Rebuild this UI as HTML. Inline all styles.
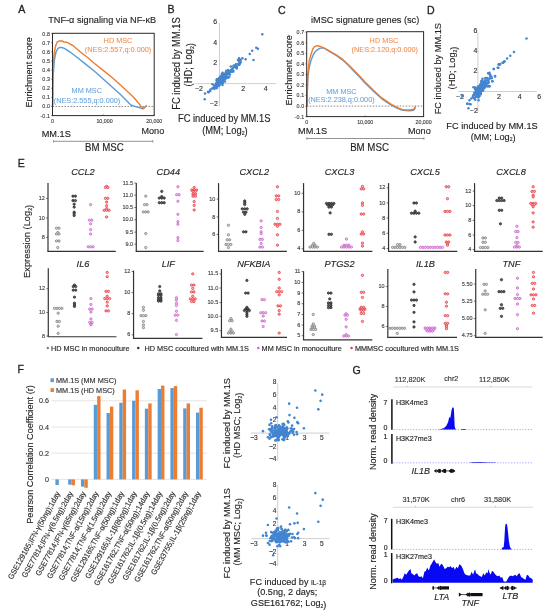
<!DOCTYPE html>
<html><head><meta charset="utf-8"><style>
html,body{margin:0;padding:0;background:#fff;}
svg{display:block;font-family:'Liberation Sans', sans-serif;filter:blur(0.3px);}
</style></head><body>
<svg width="550" height="615" viewBox="0 0 550 615">
<rect width="550" height="615" fill="#fff"/>
<text x="0" y="0" transform="translate(18.30,13.40) scale(1,1.03)" font-size="10.6" text-anchor="start" fill="#231f20" stroke="#231f20" stroke-width="0.3">A</text>
<text x="0" y="0" transform="translate(167.60,13.40) scale(1,1.03)" font-size="10.6" text-anchor="start" fill="#231f20" stroke="#231f20" stroke-width="0.3">B</text>
<text x="0" y="0" transform="translate(278.00,13.50) scale(1,1.03)" font-size="10.6" text-anchor="start" fill="#231f20" stroke="#231f20" stroke-width="0.3">C</text>
<text x="0" y="0" transform="translate(426.90,13.80) scale(1,1.03)" font-size="10.6" text-anchor="start" fill="#231f20" stroke="#231f20" stroke-width="0.3">D</text>
<text x="0" y="0" transform="translate(17.70,167.00) scale(1,1.03)" font-size="10.6" text-anchor="start" fill="#231f20" stroke="#231f20" stroke-width="0.3">E</text>
<text x="0" y="0" transform="translate(17.50,372.80) scale(1,1.03)" font-size="10.6" text-anchor="start" fill="#231f20" stroke="#231f20" stroke-width="0.3">F</text>
<text x="0" y="0" transform="translate(352.60,373.50) scale(1,1.03)" font-size="10.6" text-anchor="start" fill="#231f20" stroke="#231f20" stroke-width="0.3">G</text>
<text x="0" y="0" transform="translate(48.20,22.59) scale(1,1.07)" font-size="9.2" text-anchor="start" fill="#231f20" stroke="#231f20" stroke-width="0.14">TNF-&#945; signaling via NF-&#954;B</text>
<text x="0" y="0" transform="translate(31.80,72.40) rotate(-90) scale(1,1.07)" font-size="9.05" text-anchor="middle" fill="#231f20" stroke="#231f20" stroke-width="0.14">Enrichment score</text>
<text x="0" y="0" transform="translate(50.30,35.60) scale(1,1.07)" font-size="5.3" text-anchor="end" fill="#444" stroke="#444" stroke-width="0.14" letter-spacing="0.25">0.8</text>
<line x1="51.20" y1="33.70" x2="52.50" y2="33.70" stroke="#333" stroke-width="0.6"/>
<text x="0" y="0" transform="translate(50.30,44.70) scale(1,1.07)" font-size="5.3" text-anchor="end" fill="#444" stroke="#444" stroke-width="0.14" letter-spacing="0.25">0.7</text>
<line x1="51.20" y1="42.80" x2="52.50" y2="42.80" stroke="#333" stroke-width="0.6"/>
<text x="0" y="0" transform="translate(50.30,53.80) scale(1,1.07)" font-size="5.3" text-anchor="end" fill="#444" stroke="#444" stroke-width="0.14" letter-spacing="0.25">0.6</text>
<line x1="51.20" y1="51.90" x2="52.50" y2="51.90" stroke="#333" stroke-width="0.6"/>
<text x="0" y="0" transform="translate(50.30,62.90) scale(1,1.07)" font-size="5.3" text-anchor="end" fill="#444" stroke="#444" stroke-width="0.14" letter-spacing="0.25">0.5</text>
<line x1="51.20" y1="61.00" x2="52.50" y2="61.00" stroke="#333" stroke-width="0.6"/>
<text x="0" y="0" transform="translate(50.30,72.00) scale(1,1.07)" font-size="5.3" text-anchor="end" fill="#444" stroke="#444" stroke-width="0.14" letter-spacing="0.25">0.4</text>
<line x1="51.20" y1="70.10" x2="52.50" y2="70.10" stroke="#333" stroke-width="0.6"/>
<text x="0" y="0" transform="translate(50.30,81.10) scale(1,1.07)" font-size="5.3" text-anchor="end" fill="#444" stroke="#444" stroke-width="0.14" letter-spacing="0.25">0.3</text>
<line x1="51.20" y1="79.20" x2="52.50" y2="79.20" stroke="#333" stroke-width="0.6"/>
<text x="0" y="0" transform="translate(50.30,90.20) scale(1,1.07)" font-size="5.3" text-anchor="end" fill="#444" stroke="#444" stroke-width="0.14" letter-spacing="0.25">0.2</text>
<line x1="51.20" y1="88.30" x2="52.50" y2="88.30" stroke="#333" stroke-width="0.6"/>
<text x="0" y="0" transform="translate(50.30,99.30) scale(1,1.07)" font-size="5.3" text-anchor="end" fill="#444" stroke="#444" stroke-width="0.14" letter-spacing="0.25">0.1</text>
<line x1="51.20" y1="97.40" x2="52.50" y2="97.40" stroke="#333" stroke-width="0.6"/>
<text x="0" y="0" transform="translate(50.30,108.40) scale(1,1.07)" font-size="5.3" text-anchor="end" fill="#444" stroke="#444" stroke-width="0.14" letter-spacing="0.25">0.0</text>
<line x1="51.20" y1="106.50" x2="52.50" y2="106.50" stroke="#333" stroke-width="0.6"/>
<text x="0" y="0" transform="translate(50.30,117.50) scale(1,1.07)" font-size="5.3" text-anchor="end" fill="#444" stroke="#444" stroke-width="0.14" letter-spacing="0.25">-0.1</text>
<line x1="51.20" y1="115.60" x2="52.50" y2="115.60" stroke="#333" stroke-width="0.6"/>
<line x1="52.50" y1="106.50" x2="154.20" y2="106.50" stroke="#444" stroke-width="0.6" stroke-dasharray="1.6,1.4"/>
<text x="0" y="0" transform="translate(52.40,123.10) scale(1,1.07)" font-size="5.3" text-anchor="middle" fill="#444" stroke="#444" stroke-width="0.14">0</text>
<line x1="52.40" y1="114.40" x2="52.40" y2="115.60" stroke="#333" stroke-width="0.6"/>
<text x="0" y="0" transform="translate(104.50,123.10) scale(1,1.07)" font-size="5.3" text-anchor="middle" fill="#444" stroke="#444" stroke-width="0.14">10,000</text>
<line x1="103.30" y1="114.40" x2="103.30" y2="115.60" stroke="#333" stroke-width="0.6"/>
<text x="0" y="0" transform="translate(154.20,123.10) scale(1,1.07)" font-size="5.3" text-anchor="middle" fill="#444" stroke="#444" stroke-width="0.14">20,000</text>
<line x1="154.20" y1="114.40" x2="154.20" y2="115.60" stroke="#333" stroke-width="0.6"/>
<polyline points="52.60,106.50 52.80,95.00 53.00,78.00 54.40,60.00 56.00,52.00 58.00,48.40 60.00,47.40 63.00,47.80 65.20,48.80 70.40,52.30 77.30,57.50 85.90,64.40 94.50,71.30 103.20,79.00 111.80,86.80 120.50,94.60 127.40,101.50 130.80,105.00 134.30,106.20 139.50,107.60 142.90,108.90 144.60,107.60 146.40,105.80" fill="none" stroke="#5B9BD5" stroke-width="1.4" stroke-linejoin="round" stroke-linecap="round"/>
<polyline points="52.60,106.50 52.80,92.00 53.00,70.00 54.00,54.00 55.60,46.00 57.00,42.40 59.00,41.00 62.00,41.00 64.00,42.00 66.90,42.30 70.00,43.80 73.80,46.20 80.70,52.30 87.60,57.50 94.50,63.50 103.20,70.40 111.80,77.30 120.50,85.10 129.10,92.90 134.30,98.00 138.60,103.20 141.20,106.70 143.40,108.40 145.50,106.70 146.40,105.90" fill="none" stroke="#ED7D31" stroke-width="1.4" stroke-linejoin="round" stroke-linecap="round"/>
<rect x="52.50" y="33.30" width="101.70" height="82.30" fill="none" stroke="#2a2a2a" stroke-width="1"/>
<text x="0" y="0" transform="translate(118.00,42.81) scale(1,1.07)" font-size="7.3" text-anchor="middle" fill="#F08D4F" stroke="#F08D4F" stroke-width="0.06">HD MSC</text>
<text x="0" y="0" transform="translate(118.00,51.81) scale(1,1.07)" font-size="7.3" text-anchor="middle" fill="#F08D4F" stroke="#F08D4F" stroke-width="0.06">(NES:2.557,q:0.000)</text>
<text x="0" y="0" transform="translate(86.80,93.01) scale(1,1.07)" font-size="7.3" text-anchor="middle" fill="#68A3DA" stroke="#68A3DA" stroke-width="0.06">MM MSC</text>
<text x="0" y="0" transform="translate(87.00,103.01) scale(1,1.07)" font-size="7.3" text-anchor="middle" fill="#68A3DA" stroke="#68A3DA" stroke-width="0.06">(NES:2.555,q:0.000)</text>
<text x="0" y="0" transform="translate(41.70,136.99) scale(1,1.07)" font-size="9.2" text-anchor="start" fill="#231f20" stroke="#231f20" stroke-width="0.14">MM.1S</text>
<text x="0" y="0" transform="translate(141.50,133.66) scale(1,1.07)" font-size="9.1" text-anchor="start" fill="#231f20" stroke="#231f20" stroke-width="0.14">Mono</text>
<line x1="53.50" y1="141.30" x2="152.80" y2="141.30" stroke="#777" stroke-width="0.8"/>
<line x1="53.50" y1="140.00" x2="53.50" y2="142.60" stroke="#777" stroke-width="0.7"/>
<line x1="152.80" y1="140.00" x2="152.80" y2="142.60" stroke="#777" stroke-width="0.7"/>
<text x="0" y="0" transform="translate(104.40,150.97) scale(1,1.07)" font-size="9.7" text-anchor="middle" fill="#231f20" stroke="#231f20" stroke-width="0.14">BM MSC</text>
<text x="0" y="0" transform="translate(311.00,22.89) scale(1,1.07)" font-size="9.2" text-anchor="start" fill="#231f20" stroke="#231f20" stroke-width="0.14">iMSC signature genes (sc)</text>
<text x="0" y="0" transform="translate(292.00,70.30) rotate(-90) scale(1,1.07)" font-size="9.05" text-anchor="middle" fill="#231f20" stroke="#231f20" stroke-width="0.14">Enrichment score</text>
<text x="0" y="0" transform="translate(304.50,34.20) scale(1,1.07)" font-size="5.3" text-anchor="end" fill="#444" stroke="#444" stroke-width="0.14" letter-spacing="0.25">0.7</text>
<line x1="305.40" y1="32.30" x2="306.70" y2="32.30" stroke="#333" stroke-width="0.6"/>
<text x="0" y="0" transform="translate(304.50,44.74) scale(1,1.07)" font-size="5.3" text-anchor="end" fill="#444" stroke="#444" stroke-width="0.14" letter-spacing="0.25">0.6</text>
<line x1="305.40" y1="42.84" x2="306.70" y2="42.84" stroke="#333" stroke-width="0.6"/>
<text x="0" y="0" transform="translate(304.50,55.28) scale(1,1.07)" font-size="5.3" text-anchor="end" fill="#444" stroke="#444" stroke-width="0.14" letter-spacing="0.25">0.5</text>
<line x1="305.40" y1="53.38" x2="306.70" y2="53.38" stroke="#333" stroke-width="0.6"/>
<text x="0" y="0" transform="translate(304.50,65.82) scale(1,1.07)" font-size="5.3" text-anchor="end" fill="#444" stroke="#444" stroke-width="0.14" letter-spacing="0.25">0.4</text>
<line x1="305.40" y1="63.92" x2="306.70" y2="63.92" stroke="#333" stroke-width="0.6"/>
<text x="0" y="0" transform="translate(304.50,76.36) scale(1,1.07)" font-size="5.3" text-anchor="end" fill="#444" stroke="#444" stroke-width="0.14" letter-spacing="0.25">0.3</text>
<line x1="305.40" y1="74.46" x2="306.70" y2="74.46" stroke="#333" stroke-width="0.6"/>
<text x="0" y="0" transform="translate(304.50,86.90) scale(1,1.07)" font-size="5.3" text-anchor="end" fill="#444" stroke="#444" stroke-width="0.14" letter-spacing="0.25">0.2</text>
<line x1="305.40" y1="85.00" x2="306.70" y2="85.00" stroke="#333" stroke-width="0.6"/>
<text x="0" y="0" transform="translate(304.50,97.44) scale(1,1.07)" font-size="5.3" text-anchor="end" fill="#444" stroke="#444" stroke-width="0.14" letter-spacing="0.25">0.1</text>
<line x1="305.40" y1="95.54" x2="306.70" y2="95.54" stroke="#333" stroke-width="0.6"/>
<text x="0" y="0" transform="translate(304.50,107.98) scale(1,1.07)" font-size="5.3" text-anchor="end" fill="#444" stroke="#444" stroke-width="0.14" letter-spacing="0.25">0.0</text>
<line x1="305.40" y1="106.08" x2="306.70" y2="106.08" stroke="#333" stroke-width="0.6"/>
<text x="0" y="0" transform="translate(304.50,118.52) scale(1,1.07)" font-size="5.3" text-anchor="end" fill="#444" stroke="#444" stroke-width="0.14" letter-spacing="0.25">-0.1</text>
<line x1="305.40" y1="116.62" x2="306.70" y2="116.62" stroke="#333" stroke-width="0.6"/>
<line x1="306.70" y1="106.08" x2="423.60" y2="106.08" stroke="#444" stroke-width="0.6" stroke-dasharray="1.6,1.4"/>
<text x="0" y="0" transform="translate(306.80,124.10) scale(1,1.07)" font-size="5.3" text-anchor="middle" fill="#444" stroke="#444" stroke-width="0.14">0</text>
<line x1="306.80" y1="115.40" x2="306.80" y2="116.60" stroke="#333" stroke-width="0.6"/>
<text x="0" y="0" transform="translate(365.20,124.10) scale(1,1.07)" font-size="5.3" text-anchor="middle" fill="#444" stroke="#444" stroke-width="0.14">10,000</text>
<line x1="365.20" y1="115.40" x2="365.20" y2="116.60" stroke="#333" stroke-width="0.6"/>
<text x="0" y="0" transform="translate(423.60,124.10) scale(1,1.07)" font-size="5.3" text-anchor="middle" fill="#444" stroke="#444" stroke-width="0.14">20,000</text>
<line x1="423.60" y1="115.40" x2="423.60" y2="116.60" stroke="#333" stroke-width="0.6"/>
<polyline points="307.00,106.00 307.30,92.00 307.60,78.90 309.10,67.90 311.00,60.60 313.40,54.50 315.90,50.90 319.50,48.40 322.60,47.80 324.40,48.40 329.30,51.30 336.60,55.60 342.70,60.10 348.80,65.70 354.90,72.20 359.80,77.30 364.50,82.60 373.20,91.10 381.80,98.80 390.50,104.60 397.40,108.40 402.60,110.30 409.50,110.80 413.80,110.20 415.20,108.00" fill="none" stroke="#5B9BD5" stroke-width="1.4" stroke-linejoin="round" stroke-linecap="round"/>
<polyline points="307.00,106.00 307.40,90.00 307.90,74.00 309.10,61.20 311.00,54.50 312.80,49.00 314.60,46.60 317.10,45.70 319.50,46.20 323.80,47.80 329.30,50.90 336.60,55.10 342.70,59.40 348.80,64.90 354.90,71.20 359.80,76.20 364.50,81.50 373.20,90.10 381.80,97.90 390.50,103.90 397.40,107.70 402.60,109.60 409.50,110.00 413.80,109.10 415.50,106.50" fill="none" stroke="#ED7D31" stroke-width="1.4" stroke-linejoin="round" stroke-linecap="round"/>
<rect x="306.70" y="31.70" width="116.90" height="84.90" fill="none" stroke="#2a2a2a" stroke-width="1"/>
<text x="0" y="0" transform="translate(384.00,42.61) scale(1,1.07)" font-size="7.3" text-anchor="middle" fill="#F08D4F" stroke="#F08D4F" stroke-width="0.06">HD MSC</text>
<text x="0" y="0" transform="translate(384.80,52.21) scale(1,1.07)" font-size="7.3" text-anchor="middle" fill="#F08D4F" stroke="#F08D4F" stroke-width="0.06">(NES:2.120,q:0.000)</text>
<text x="0" y="0" transform="translate(341.40,93.91) scale(1,1.07)" font-size="7.3" text-anchor="middle" fill="#68A3DA" stroke="#68A3DA" stroke-width="0.06">MM MSC</text>
<text x="0" y="0" transform="translate(341.40,102.01) scale(1,1.07)" font-size="7.3" text-anchor="middle" fill="#68A3DA" stroke="#68A3DA" stroke-width="0.06">(NES:2.238,q:0.000)</text>
<text x="0" y="0" transform="translate(298.00,133.69) scale(1,1.07)" font-size="9.2" text-anchor="start" fill="#231f20" stroke="#231f20" stroke-width="0.14">MM.1S</text>
<text x="0" y="0" transform="translate(408.00,133.66) scale(1,1.07)" font-size="9.1" text-anchor="start" fill="#231f20" stroke="#231f20" stroke-width="0.14">Mono</text>
<line x1="306.80" y1="138.50" x2="424.00" y2="138.50" stroke="#777" stroke-width="0.8"/>
<line x1="306.80" y1="137.20" x2="306.80" y2="139.80" stroke="#777" stroke-width="0.7"/>
<line x1="424.00" y1="137.20" x2="424.00" y2="139.80" stroke="#777" stroke-width="0.7"/>
<text x="0" y="0" transform="translate(369.50,150.77) scale(1,1.07)" font-size="9.7" text-anchor="middle" fill="#231f20" stroke="#231f20" stroke-width="0.14">BM MSC</text>
<line x1="219.50" y1="23.00" x2="219.50" y2="105.80" stroke="#c9c9c9" stroke-width="0.9"/>
<line x1="195.50" y1="83.60" x2="276.00" y2="83.60" stroke="#c9c9c9" stroke-width="0.9"/>
<text x="0" y="0" transform="translate(217.20,24.41) scale(1,1.07)" font-size="7.0" text-anchor="end" fill="#333" stroke="#333" stroke-width="0.14">6</text>
<text x="0" y="0" transform="translate(217.20,44.61) scale(1,1.07)" font-size="7.0" text-anchor="end" fill="#333" stroke="#333" stroke-width="0.14">4</text>
<text x="0" y="0" transform="translate(217.20,64.91) scale(1,1.07)" font-size="7.0" text-anchor="end" fill="#333" stroke="#333" stroke-width="0.14">2</text>
<text x="0" y="0" transform="translate(217.80,106.01) scale(1,1.07)" font-size="7.0" text-anchor="end" fill="#333" stroke="#333" stroke-width="0.14">&#8722;2</text>
<text x="0" y="0" transform="translate(199.00,91.11) scale(1,1.07)" font-size="7.0" text-anchor="middle" fill="#333" stroke="#333" stroke-width="0.14">&#8722;2</text>
<text x="0" y="0" transform="translate(243.20,91.11) scale(1,1.07)" font-size="7.0" text-anchor="middle" fill="#333" stroke="#333" stroke-width="0.14">2</text>
<text x="0" y="0" transform="translate(265.60,91.11) scale(1,1.07)" font-size="7.0" text-anchor="middle" fill="#333" stroke="#333" stroke-width="0.14">4</text>
<circle cx="225.88" cy="72.26" r="1.25" fill="#4485d0" stroke="none" stroke-width="0"/>
<circle cx="220.78" cy="82.10" r="1.25" fill="#4485d0" stroke="none" stroke-width="0"/>
<circle cx="215.93" cy="85.00" r="1.25" fill="#4485d0" stroke="none" stroke-width="0"/>
<circle cx="216.23" cy="87.98" r="1.25" fill="#4485d0" stroke="none" stroke-width="0"/>
<circle cx="221.33" cy="79.57" r="1.25" fill="#4485d0" stroke="none" stroke-width="0"/>
<circle cx="222.78" cy="80.50" r="1.25" fill="#4485d0" stroke="none" stroke-width="0"/>
<circle cx="220.52" cy="80.80" r="1.25" fill="#4485d0" stroke="none" stroke-width="0"/>
<circle cx="214.21" cy="85.54" r="1.25" fill="#4485d0" stroke="none" stroke-width="0"/>
<circle cx="221.84" cy="74.07" r="1.25" fill="#4485d0" stroke="none" stroke-width="0"/>
<circle cx="221.35" cy="80.18" r="1.25" fill="#4485d0" stroke="none" stroke-width="0"/>
<circle cx="225.65" cy="75.26" r="1.25" fill="#4485d0" stroke="none" stroke-width="0"/>
<circle cx="224.30" cy="77.82" r="1.25" fill="#4485d0" stroke="none" stroke-width="0"/>
<circle cx="221.41" cy="77.52" r="1.25" fill="#4485d0" stroke="none" stroke-width="0"/>
<circle cx="223.41" cy="77.58" r="1.25" fill="#4485d0" stroke="none" stroke-width="0"/>
<circle cx="215.98" cy="84.04" r="1.25" fill="#4485d0" stroke="none" stroke-width="0"/>
<circle cx="220.82" cy="78.76" r="1.25" fill="#4485d0" stroke="none" stroke-width="0"/>
<circle cx="221.40" cy="77.38" r="1.25" fill="#4485d0" stroke="none" stroke-width="0"/>
<circle cx="220.28" cy="80.43" r="1.25" fill="#4485d0" stroke="none" stroke-width="0"/>
<circle cx="223.29" cy="80.40" r="1.25" fill="#4485d0" stroke="none" stroke-width="0"/>
<circle cx="218.82" cy="83.40" r="1.25" fill="#4485d0" stroke="none" stroke-width="0"/>
<circle cx="228.78" cy="72.90" r="1.25" fill="#4485d0" stroke="none" stroke-width="0"/>
<circle cx="223.23" cy="76.67" r="1.25" fill="#4485d0" stroke="none" stroke-width="0"/>
<circle cx="219.33" cy="85.25" r="1.25" fill="#4485d0" stroke="none" stroke-width="0"/>
<circle cx="224.53" cy="77.69" r="1.25" fill="#4485d0" stroke="none" stroke-width="0"/>
<circle cx="223.50" cy="80.68" r="1.25" fill="#4485d0" stroke="none" stroke-width="0"/>
<circle cx="218.67" cy="79.64" r="1.25" fill="#4485d0" stroke="none" stroke-width="0"/>
<circle cx="226.48" cy="77.80" r="1.25" fill="#4485d0" stroke="none" stroke-width="0"/>
<circle cx="214.93" cy="86.14" r="1.25" fill="#4485d0" stroke="none" stroke-width="0"/>
<circle cx="223.54" cy="77.38" r="1.25" fill="#4485d0" stroke="none" stroke-width="0"/>
<circle cx="221.77" cy="81.65" r="1.25" fill="#4485d0" stroke="none" stroke-width="0"/>
<circle cx="222.95" cy="75.83" r="1.25" fill="#4485d0" stroke="none" stroke-width="0"/>
<circle cx="218.68" cy="85.61" r="1.25" fill="#4485d0" stroke="none" stroke-width="0"/>
<circle cx="217.33" cy="82.04" r="1.25" fill="#4485d0" stroke="none" stroke-width="0"/>
<circle cx="213.25" cy="87.86" r="1.25" fill="#4485d0" stroke="none" stroke-width="0"/>
<circle cx="216.36" cy="84.96" r="1.25" fill="#4485d0" stroke="none" stroke-width="0"/>
<circle cx="219.48" cy="81.62" r="1.25" fill="#4485d0" stroke="none" stroke-width="0"/>
<circle cx="226.78" cy="73.69" r="1.25" fill="#4485d0" stroke="none" stroke-width="0"/>
<circle cx="226.07" cy="75.61" r="1.25" fill="#4485d0" stroke="none" stroke-width="0"/>
<circle cx="218.50" cy="81.76" r="1.25" fill="#4485d0" stroke="none" stroke-width="0"/>
<circle cx="208.65" cy="92.19" r="1.25" fill="#4485d0" stroke="none" stroke-width="0"/>
<circle cx="221.17" cy="82.77" r="1.25" fill="#4485d0" stroke="none" stroke-width="0"/>
<circle cx="222.44" cy="80.04" r="1.25" fill="#4485d0" stroke="none" stroke-width="0"/>
<circle cx="210.22" cy="91.06" r="1.25" fill="#4485d0" stroke="none" stroke-width="0"/>
<circle cx="216.41" cy="85.77" r="1.25" fill="#4485d0" stroke="none" stroke-width="0"/>
<circle cx="219.86" cy="78.51" r="1.25" fill="#4485d0" stroke="none" stroke-width="0"/>
<circle cx="220.93" cy="80.32" r="1.25" fill="#4485d0" stroke="none" stroke-width="0"/>
<circle cx="222.13" cy="83.13" r="1.25" fill="#4485d0" stroke="none" stroke-width="0"/>
<circle cx="225.68" cy="78.07" r="1.25" fill="#4485d0" stroke="none" stroke-width="0"/>
<circle cx="222.34" cy="81.41" r="1.25" fill="#4485d0" stroke="none" stroke-width="0"/>
<circle cx="216.42" cy="85.49" r="1.25" fill="#4485d0" stroke="none" stroke-width="0"/>
<circle cx="228.42" cy="71.48" r="1.25" fill="#4485d0" stroke="none" stroke-width="0"/>
<circle cx="217.97" cy="83.74" r="1.25" fill="#4485d0" stroke="none" stroke-width="0"/>
<circle cx="215.69" cy="85.39" r="1.25" fill="#4485d0" stroke="none" stroke-width="0"/>
<circle cx="218.10" cy="81.38" r="1.25" fill="#4485d0" stroke="none" stroke-width="0"/>
<circle cx="214.83" cy="86.88" r="1.25" fill="#4485d0" stroke="none" stroke-width="0"/>
<circle cx="216.98" cy="85.66" r="1.25" fill="#4485d0" stroke="none" stroke-width="0"/>
<circle cx="223.47" cy="77.53" r="1.25" fill="#4485d0" stroke="none" stroke-width="0"/>
<circle cx="222.95" cy="75.67" r="1.25" fill="#4485d0" stroke="none" stroke-width="0"/>
<circle cx="225.31" cy="79.09" r="1.25" fill="#4485d0" stroke="none" stroke-width="0"/>
<circle cx="222.74" cy="82.42" r="1.25" fill="#4485d0" stroke="none" stroke-width="0"/>
<circle cx="220.23" cy="76.67" r="1.25" fill="#4485d0" stroke="none" stroke-width="0"/>
<circle cx="219.69" cy="82.27" r="1.25" fill="#4485d0" stroke="none" stroke-width="0"/>
<circle cx="221.21" cy="79.95" r="1.25" fill="#4485d0" stroke="none" stroke-width="0"/>
<circle cx="220.61" cy="82.25" r="1.25" fill="#4485d0" stroke="none" stroke-width="0"/>
<circle cx="225.02" cy="74.34" r="1.25" fill="#4485d0" stroke="none" stroke-width="0"/>
<circle cx="219.61" cy="80.83" r="1.25" fill="#4485d0" stroke="none" stroke-width="0"/>
<circle cx="223.25" cy="75.73" r="1.25" fill="#4485d0" stroke="none" stroke-width="0"/>
<circle cx="222.14" cy="77.54" r="1.25" fill="#4485d0" stroke="none" stroke-width="0"/>
<circle cx="219.40" cy="84.11" r="1.25" fill="#4485d0" stroke="none" stroke-width="0"/>
<circle cx="218.43" cy="80.40" r="1.25" fill="#4485d0" stroke="none" stroke-width="0"/>
<circle cx="224.59" cy="76.41" r="1.25" fill="#4485d0" stroke="none" stroke-width="0"/>
<circle cx="218.13" cy="82.27" r="1.25" fill="#4485d0" stroke="none" stroke-width="0"/>
<circle cx="227.45" cy="70.96" r="1.25" fill="#4485d0" stroke="none" stroke-width="0"/>
<circle cx="217.64" cy="83.52" r="1.25" fill="#4485d0" stroke="none" stroke-width="0"/>
<circle cx="214.43" cy="89.05" r="1.25" fill="#4485d0" stroke="none" stroke-width="0"/>
<circle cx="221.29" cy="79.86" r="1.25" fill="#4485d0" stroke="none" stroke-width="0"/>
<circle cx="224.53" cy="73.97" r="1.25" fill="#4485d0" stroke="none" stroke-width="0"/>
<circle cx="223.99" cy="74.37" r="1.25" fill="#4485d0" stroke="none" stroke-width="0"/>
<circle cx="218.21" cy="85.39" r="1.25" fill="#4485d0" stroke="none" stroke-width="0"/>
<circle cx="222.59" cy="72.70" r="1.25" fill="#4485d0" stroke="none" stroke-width="0"/>
<circle cx="221.99" cy="81.79" r="1.25" fill="#4485d0" stroke="none" stroke-width="0"/>
<circle cx="221.51" cy="76.53" r="1.25" fill="#4485d0" stroke="none" stroke-width="0"/>
<circle cx="216.18" cy="83.06" r="1.25" fill="#4485d0" stroke="none" stroke-width="0"/>
<circle cx="217.95" cy="80.31" r="1.25" fill="#4485d0" stroke="none" stroke-width="0"/>
<circle cx="223.78" cy="76.83" r="1.25" fill="#4485d0" stroke="none" stroke-width="0"/>
<circle cx="228.86" cy="73.52" r="1.25" fill="#4485d0" stroke="none" stroke-width="0"/>
<circle cx="217.63" cy="79.32" r="1.25" fill="#4485d0" stroke="none" stroke-width="0"/>
<circle cx="216.84" cy="79.32" r="1.25" fill="#4485d0" stroke="none" stroke-width="0"/>
<circle cx="220.33" cy="83.14" r="1.25" fill="#4485d0" stroke="none" stroke-width="0"/>
<circle cx="220.49" cy="80.39" r="1.25" fill="#4485d0" stroke="none" stroke-width="0"/>
<circle cx="221.34" cy="80.29" r="1.25" fill="#4485d0" stroke="none" stroke-width="0"/>
<circle cx="225.02" cy="81.47" r="1.25" fill="#4485d0" stroke="none" stroke-width="0"/>
<circle cx="218.18" cy="83.49" r="1.25" fill="#4485d0" stroke="none" stroke-width="0"/>
<circle cx="228.11" cy="77.77" r="1.25" fill="#4485d0" stroke="none" stroke-width="0"/>
<circle cx="219.08" cy="84.58" r="1.25" fill="#4485d0" stroke="none" stroke-width="0"/>
<circle cx="217.72" cy="81.93" r="1.25" fill="#4485d0" stroke="none" stroke-width="0"/>
<circle cx="222.22" cy="75.82" r="1.25" fill="#4485d0" stroke="none" stroke-width="0"/>
<circle cx="217.99" cy="82.49" r="1.25" fill="#4485d0" stroke="none" stroke-width="0"/>
<circle cx="225.40" cy="73.94" r="1.25" fill="#4485d0" stroke="none" stroke-width="0"/>
<circle cx="219.10" cy="79.52" r="1.25" fill="#4485d0" stroke="none" stroke-width="0"/>
<circle cx="216.64" cy="80.39" r="1.25" fill="#4485d0" stroke="none" stroke-width="0"/>
<circle cx="221.15" cy="80.30" r="1.25" fill="#4485d0" stroke="none" stroke-width="0"/>
<circle cx="221.63" cy="77.69" r="1.25" fill="#4485d0" stroke="none" stroke-width="0"/>
<circle cx="227.78" cy="73.97" r="1.25" fill="#4485d0" stroke="none" stroke-width="0"/>
<circle cx="218.96" cy="80.85" r="1.25" fill="#4485d0" stroke="none" stroke-width="0"/>
<circle cx="216.86" cy="87.95" r="1.25" fill="#4485d0" stroke="none" stroke-width="0"/>
<circle cx="223.99" cy="78.15" r="1.25" fill="#4485d0" stroke="none" stroke-width="0"/>
<circle cx="225.21" cy="78.41" r="1.25" fill="#4485d0" stroke="none" stroke-width="0"/>
<circle cx="208.39" cy="91.71" r="1.25" fill="#4485d0" stroke="none" stroke-width="0"/>
<circle cx="221.15" cy="76.49" r="1.25" fill="#4485d0" stroke="none" stroke-width="0"/>
<circle cx="222.70" cy="77.87" r="1.25" fill="#4485d0" stroke="none" stroke-width="0"/>
<circle cx="222.95" cy="79.12" r="1.25" fill="#4485d0" stroke="none" stroke-width="0"/>
<circle cx="220.82" cy="83.36" r="1.25" fill="#4485d0" stroke="none" stroke-width="0"/>
<circle cx="222.67" cy="80.37" r="1.25" fill="#4485d0" stroke="none" stroke-width="0"/>
<circle cx="218.64" cy="80.91" r="1.25" fill="#4485d0" stroke="none" stroke-width="0"/>
<circle cx="224.33" cy="79.22" r="1.25" fill="#4485d0" stroke="none" stroke-width="0"/>
<circle cx="228.88" cy="73.91" r="1.25" fill="#4485d0" stroke="none" stroke-width="0"/>
<circle cx="223.99" cy="75.19" r="1.25" fill="#4485d0" stroke="none" stroke-width="0"/>
<circle cx="221.44" cy="79.39" r="1.25" fill="#4485d0" stroke="none" stroke-width="0"/>
<circle cx="228.01" cy="71.45" r="1.25" fill="#4485d0" stroke="none" stroke-width="0"/>
<circle cx="222.36" cy="82.93" r="1.25" fill="#4485d0" stroke="none" stroke-width="0"/>
<circle cx="217.38" cy="81.10" r="1.25" fill="#4485d0" stroke="none" stroke-width="0"/>
<circle cx="221.31" cy="82.01" r="1.25" fill="#4485d0" stroke="none" stroke-width="0"/>
<circle cx="217.81" cy="83.94" r="1.25" fill="#4485d0" stroke="none" stroke-width="0"/>
<circle cx="223.37" cy="77.05" r="1.25" fill="#4485d0" stroke="none" stroke-width="0"/>
<circle cx="224.67" cy="78.47" r="1.25" fill="#4485d0" stroke="none" stroke-width="0"/>
<circle cx="224.62" cy="77.81" r="1.25" fill="#4485d0" stroke="none" stroke-width="0"/>
<circle cx="219.25" cy="78.03" r="1.25" fill="#4485d0" stroke="none" stroke-width="0"/>
<circle cx="220.81" cy="80.68" r="1.25" fill="#4485d0" stroke="none" stroke-width="0"/>
<circle cx="219.62" cy="82.37" r="1.25" fill="#4485d0" stroke="none" stroke-width="0"/>
<circle cx="227.02" cy="71.33" r="1.25" fill="#4485d0" stroke="none" stroke-width="0"/>
<circle cx="223.50" cy="77.37" r="1.25" fill="#4485d0" stroke="none" stroke-width="0"/>
<circle cx="224.86" cy="76.64" r="1.25" fill="#4485d0" stroke="none" stroke-width="0"/>
<circle cx="222.39" cy="77.96" r="1.25" fill="#4485d0" stroke="none" stroke-width="0"/>
<circle cx="220.87" cy="76.65" r="1.25" fill="#4485d0" stroke="none" stroke-width="0"/>
<circle cx="227.84" cy="70.66" r="1.25" fill="#4485d0" stroke="none" stroke-width="0"/>
<circle cx="212.50" cy="84.30" r="1.25" fill="#4485d0" stroke="none" stroke-width="0"/>
<circle cx="223.44" cy="78.84" r="1.25" fill="#4485d0" stroke="none" stroke-width="0"/>
<circle cx="220.40" cy="78.24" r="1.25" fill="#4485d0" stroke="none" stroke-width="0"/>
<circle cx="225.41" cy="74.04" r="1.25" fill="#4485d0" stroke="none" stroke-width="0"/>
<circle cx="221.09" cy="80.02" r="1.25" fill="#4485d0" stroke="none" stroke-width="0"/>
<circle cx="223.98" cy="77.52" r="1.25" fill="#4485d0" stroke="none" stroke-width="0"/>
<circle cx="216.75" cy="85.68" r="1.25" fill="#4485d0" stroke="none" stroke-width="0"/>
<circle cx="219.92" cy="80.50" r="1.25" fill="#4485d0" stroke="none" stroke-width="0"/>
<circle cx="229.96" cy="74.59" r="1.25" fill="#4485d0" stroke="none" stroke-width="0"/>
<circle cx="222.49" cy="78.95" r="1.25" fill="#4485d0" stroke="none" stroke-width="0"/>
<circle cx="221.76" cy="76.45" r="1.25" fill="#4485d0" stroke="none" stroke-width="0"/>
<circle cx="225.69" cy="76.02" r="1.25" fill="#4485d0" stroke="none" stroke-width="0"/>
<circle cx="218.17" cy="85.95" r="1.25" fill="#4485d0" stroke="none" stroke-width="0"/>
<circle cx="220.20" cy="78.19" r="1.25" fill="#4485d0" stroke="none" stroke-width="0"/>
<circle cx="219.39" cy="80.18" r="1.25" fill="#4485d0" stroke="none" stroke-width="0"/>
<circle cx="223.46" cy="76.94" r="1.25" fill="#4485d0" stroke="none" stroke-width="0"/>
<circle cx="225.03" cy="76.56" r="1.25" fill="#4485d0" stroke="none" stroke-width="0"/>
<circle cx="217.03" cy="86.62" r="1.25" fill="#4485d0" stroke="none" stroke-width="0"/>
<circle cx="224.37" cy="77.74" r="1.25" fill="#4485d0" stroke="none" stroke-width="0"/>
<circle cx="219.20" cy="80.07" r="1.25" fill="#4485d0" stroke="none" stroke-width="0"/>
<circle cx="217.20" cy="79.92" r="1.25" fill="#4485d0" stroke="none" stroke-width="0"/>
<circle cx="223.28" cy="79.16" r="1.25" fill="#4485d0" stroke="none" stroke-width="0"/>
<circle cx="217.85" cy="80.82" r="1.25" fill="#4485d0" stroke="none" stroke-width="0"/>
<circle cx="215.55" cy="86.87" r="1.25" fill="#4485d0" stroke="none" stroke-width="0"/>
<circle cx="220.53" cy="80.20" r="1.25" fill="#4485d0" stroke="none" stroke-width="0"/>
<circle cx="220.56" cy="79.75" r="1.25" fill="#4485d0" stroke="none" stroke-width="0"/>
<circle cx="218.98" cy="82.41" r="1.25" fill="#4485d0" stroke="none" stroke-width="0"/>
<circle cx="225.79" cy="74.14" r="1.25" fill="#4485d0" stroke="none" stroke-width="0"/>
<circle cx="218.62" cy="78.67" r="1.25" fill="#4485d0" stroke="none" stroke-width="0"/>
<circle cx="212.18" cy="88.51" r="1.25" fill="#4485d0" stroke="none" stroke-width="0"/>
<circle cx="223.29" cy="75.82" r="1.25" fill="#4485d0" stroke="none" stroke-width="0"/>
<circle cx="220.97" cy="81.08" r="1.25" fill="#4485d0" stroke="none" stroke-width="0"/>
<circle cx="222.95" cy="78.74" r="1.25" fill="#4485d0" stroke="none" stroke-width="0"/>
<circle cx="222.48" cy="85.11" r="1.25" fill="#4485d0" stroke="none" stroke-width="0"/>
<circle cx="238.26" cy="63.81" r="1.25" fill="#4485d0" stroke="none" stroke-width="0"/>
<circle cx="232.85" cy="67.77" r="1.25" fill="#4485d0" stroke="none" stroke-width="0"/>
<circle cx="239.98" cy="62.93" r="1.25" fill="#4485d0" stroke="none" stroke-width="0"/>
<circle cx="226.29" cy="70.70" r="1.25" fill="#4485d0" stroke="none" stroke-width="0"/>
<circle cx="239.82" cy="59.91" r="1.25" fill="#4485d0" stroke="none" stroke-width="0"/>
<circle cx="239.69" cy="61.56" r="1.25" fill="#4485d0" stroke="none" stroke-width="0"/>
<circle cx="237.95" cy="60.12" r="1.25" fill="#4485d0" stroke="none" stroke-width="0"/>
<circle cx="236.93" cy="67.03" r="1.25" fill="#4485d0" stroke="none" stroke-width="0"/>
<circle cx="235.94" cy="64.64" r="1.25" fill="#4485d0" stroke="none" stroke-width="0"/>
<circle cx="226.58" cy="72.82" r="1.25" fill="#4485d0" stroke="none" stroke-width="0"/>
<circle cx="236.38" cy="66.06" r="1.25" fill="#4485d0" stroke="none" stroke-width="0"/>
<circle cx="224.93" cy="78.05" r="1.25" fill="#4485d0" stroke="none" stroke-width="0"/>
<circle cx="240.76" cy="59.88" r="1.25" fill="#4485d0" stroke="none" stroke-width="0"/>
<circle cx="233.33" cy="70.87" r="1.25" fill="#4485d0" stroke="none" stroke-width="0"/>
<circle cx="238.78" cy="64.98" r="1.25" fill="#4485d0" stroke="none" stroke-width="0"/>
<circle cx="229.76" cy="71.15" r="1.25" fill="#4485d0" stroke="none" stroke-width="0"/>
<circle cx="228.34" cy="70.03" r="1.25" fill="#4485d0" stroke="none" stroke-width="0"/>
<circle cx="231.13" cy="69.94" r="1.25" fill="#4485d0" stroke="none" stroke-width="0"/>
<circle cx="233.84" cy="65.82" r="1.25" fill="#4485d0" stroke="none" stroke-width="0"/>
<circle cx="226.23" cy="74.50" r="1.25" fill="#4485d0" stroke="none" stroke-width="0"/>
<circle cx="226.00" cy="75.76" r="1.25" fill="#4485d0" stroke="none" stroke-width="0"/>
<circle cx="230.80" cy="66.59" r="1.25" fill="#4485d0" stroke="none" stroke-width="0"/>
<circle cx="230.86" cy="71.94" r="1.25" fill="#4485d0" stroke="none" stroke-width="0"/>
<circle cx="223.93" cy="78.62" r="1.25" fill="#4485d0" stroke="none" stroke-width="0"/>
<circle cx="233.11" cy="71.69" r="1.25" fill="#4485d0" stroke="none" stroke-width="0"/>
<circle cx="231.51" cy="70.07" r="1.25" fill="#4485d0" stroke="none" stroke-width="0"/>
<circle cx="235.88" cy="65.91" r="1.25" fill="#4485d0" stroke="none" stroke-width="0"/>
<circle cx="232.51" cy="70.69" r="1.25" fill="#4485d0" stroke="none" stroke-width="0"/>
<circle cx="232.23" cy="68.99" r="1.25" fill="#4485d0" stroke="none" stroke-width="0"/>
<circle cx="233.66" cy="65.66" r="1.25" fill="#4485d0" stroke="none" stroke-width="0"/>
<circle cx="239.76" cy="60.32" r="1.25" fill="#4485d0" stroke="none" stroke-width="0"/>
<circle cx="235.18" cy="67.30" r="1.25" fill="#4485d0" stroke="none" stroke-width="0"/>
<circle cx="224.65" cy="74.47" r="1.25" fill="#4485d0" stroke="none" stroke-width="0"/>
<circle cx="239.24" cy="61.23" r="1.25" fill="#4485d0" stroke="none" stroke-width="0"/>
<circle cx="226.61" cy="74.46" r="1.25" fill="#4485d0" stroke="none" stroke-width="0"/>
<circle cx="229.29" cy="76.84" r="1.25" fill="#4485d0" stroke="none" stroke-width="0"/>
<circle cx="235.99" cy="64.37" r="1.25" fill="#4485d0" stroke="none" stroke-width="0"/>
<circle cx="236.14" cy="67.20" r="1.25" fill="#4485d0" stroke="none" stroke-width="0"/>
<circle cx="236.76" cy="68.48" r="1.25" fill="#4485d0" stroke="none" stroke-width="0"/>
<circle cx="239.58" cy="64.50" r="1.25" fill="#4485d0" stroke="none" stroke-width="0"/>
<circle cx="240.70" cy="62.19" r="1.25" fill="#4485d0" stroke="none" stroke-width="0"/>
<circle cx="228.21" cy="73.93" r="1.25" fill="#4485d0" stroke="none" stroke-width="0"/>
<circle cx="227.63" cy="77.29" r="1.25" fill="#4485d0" stroke="none" stroke-width="0"/>
<circle cx="224.72" cy="78.38" r="1.25" fill="#4485d0" stroke="none" stroke-width="0"/>
<circle cx="235.80" cy="66.23" r="1.25" fill="#4485d0" stroke="none" stroke-width="0"/>
<circle cx="262.33" cy="34.31" r="1.25" fill="#4485d0" stroke="none" stroke-width="0"/>
<circle cx="256.27" cy="47.73" r="1.25" fill="#4485d0" stroke="none" stroke-width="0"/>
<circle cx="257.91" cy="48.87" r="1.25" fill="#4485d0" stroke="none" stroke-width="0"/>
<circle cx="252.18" cy="50.67" r="1.25" fill="#4485d0" stroke="none" stroke-width="0"/>
<circle cx="249.73" cy="53.95" r="1.25" fill="#4485d0" stroke="none" stroke-width="0"/>
<circle cx="253.49" cy="60.00" r="1.25" fill="#4485d0" stroke="none" stroke-width="0"/>
<circle cx="245.64" cy="59.18" r="1.25" fill="#4485d0" stroke="none" stroke-width="0"/>
<circle cx="242.36" cy="58.36" r="1.25" fill="#4485d0" stroke="none" stroke-width="0"/>
<circle cx="239.09" cy="58.36" r="1.25" fill="#4485d0" stroke="none" stroke-width="0"/>
<circle cx="205.05" cy="93.55" r="1.25" fill="#4485d0" stroke="none" stroke-width="0"/>
<circle cx="204.73" cy="99.27" r="1.25" fill="#4485d0" stroke="none" stroke-width="0"/>
<circle cx="208.00" cy="91.91" r="1.25" fill="#4485d0" stroke="none" stroke-width="0"/>
<circle cx="210.45" cy="89.46" r="1.25" fill="#4485d0" stroke="none" stroke-width="0"/>
<text x="0" y="0" transform="translate(180.30,63.50) rotate(-90) scale(1,1.07)" font-size="9.35" text-anchor="middle" fill="#231f20" stroke="#231f20" stroke-width="0.14">FC induced by MM.1S</text>
<text x="0" y="0" transform="translate(192.30,64.70) rotate(-90) scale(1,1.07)" font-size="9.35" text-anchor="middle" fill="#231f20" stroke="#231f20" stroke-width="0.14">(HD; Log<tspan font-size="0.55em" dy="0.3em">2</tspan>)</text>
<text x="0" y="0" transform="translate(224.20,121.75) scale(1,1.07)" font-size="9.35" text-anchor="middle" fill="#231f20" stroke="#231f20" stroke-width="0.14">FC induced by MM.1S</text>
<text x="0" y="0" transform="translate(224.90,133.65) scale(1,1.07)" font-size="9.35" text-anchor="middle" fill="#231f20" stroke="#231f20" stroke-width="0.14">(MM; Log<tspan font-size="0.55em" dy="0.3em">2</tspan>)</text>
<line x1="477.90" y1="32.30" x2="477.90" y2="111.60" stroke="#c9c9c9" stroke-width="0.9"/>
<line x1="458.30" y1="91.50" x2="536.80" y2="91.50" stroke="#c9c9c9" stroke-width="0.9"/>
<text x="0" y="0" transform="translate(477.30,32.61) scale(1,1.07)" font-size="7.0" text-anchor="end" fill="#333" stroke="#333" stroke-width="0.14">6</text>
<text x="0" y="0" transform="translate(477.30,52.81) scale(1,1.07)" font-size="7.0" text-anchor="end" fill="#333" stroke="#333" stroke-width="0.14">4</text>
<text x="0" y="0" transform="translate(477.30,73.21) scale(1,1.07)" font-size="7.0" text-anchor="end" fill="#333" stroke="#333" stroke-width="0.14">2</text>
<text x="0" y="0" transform="translate(477.80,113.31) scale(1,1.07)" font-size="7.0" text-anchor="end" fill="#333" stroke="#333" stroke-width="0.14">&#8722;2</text>
<text x="0" y="0" transform="translate(460.00,99.41) scale(1,1.07)" font-size="7.0" text-anchor="middle" fill="#333" stroke="#333" stroke-width="0.14">&#8722;2</text>
<text x="0" y="0" transform="translate(498.90,99.41) scale(1,1.07)" font-size="7.0" text-anchor="middle" fill="#333" stroke="#333" stroke-width="0.14">2</text>
<text x="0" y="0" transform="translate(519.60,99.41) scale(1,1.07)" font-size="7.0" text-anchor="middle" fill="#333" stroke="#333" stroke-width="0.14">4</text>
<text x="0" y="0" transform="translate(539.30,99.41) scale(1,1.07)" font-size="7.0" text-anchor="middle" fill="#333" stroke="#333" stroke-width="0.14">6</text>
<circle cx="487.69" cy="83.09" r="1.25" fill="#4485d0" stroke="none" stroke-width="0"/>
<circle cx="481.54" cy="86.94" r="1.25" fill="#4485d0" stroke="none" stroke-width="0"/>
<circle cx="482.93" cy="90.22" r="1.25" fill="#4485d0" stroke="none" stroke-width="0"/>
<circle cx="478.97" cy="92.30" r="1.25" fill="#4485d0" stroke="none" stroke-width="0"/>
<circle cx="476.88" cy="94.73" r="1.25" fill="#4485d0" stroke="none" stroke-width="0"/>
<circle cx="478.66" cy="91.20" r="1.25" fill="#4485d0" stroke="none" stroke-width="0"/>
<circle cx="477.41" cy="90.33" r="1.25" fill="#4485d0" stroke="none" stroke-width="0"/>
<circle cx="478.55" cy="100.14" r="1.25" fill="#4485d0" stroke="none" stroke-width="0"/>
<circle cx="484.06" cy="85.99" r="1.25" fill="#4485d0" stroke="none" stroke-width="0"/>
<circle cx="477.93" cy="90.26" r="1.25" fill="#4485d0" stroke="none" stroke-width="0"/>
<circle cx="481.01" cy="87.76" r="1.25" fill="#4485d0" stroke="none" stroke-width="0"/>
<circle cx="477.58" cy="90.86" r="1.25" fill="#4485d0" stroke="none" stroke-width="0"/>
<circle cx="475.41" cy="89.26" r="1.25" fill="#4485d0" stroke="none" stroke-width="0"/>
<circle cx="476.28" cy="93.41" r="1.25" fill="#4485d0" stroke="none" stroke-width="0"/>
<circle cx="480.35" cy="87.94" r="1.25" fill="#4485d0" stroke="none" stroke-width="0"/>
<circle cx="479.50" cy="88.00" r="1.25" fill="#4485d0" stroke="none" stroke-width="0"/>
<circle cx="469.40" cy="100.14" r="1.25" fill="#4485d0" stroke="none" stroke-width="0"/>
<circle cx="479.37" cy="91.32" r="1.25" fill="#4485d0" stroke="none" stroke-width="0"/>
<circle cx="484.72" cy="87.49" r="1.25" fill="#4485d0" stroke="none" stroke-width="0"/>
<circle cx="479.61" cy="95.96" r="1.25" fill="#4485d0" stroke="none" stroke-width="0"/>
<circle cx="480.74" cy="93.56" r="1.25" fill="#4485d0" stroke="none" stroke-width="0"/>
<circle cx="474.87" cy="87.40" r="1.25" fill="#4485d0" stroke="none" stroke-width="0"/>
<circle cx="482.11" cy="87.22" r="1.25" fill="#4485d0" stroke="none" stroke-width="0"/>
<circle cx="480.41" cy="93.36" r="1.25" fill="#4485d0" stroke="none" stroke-width="0"/>
<circle cx="476.50" cy="91.64" r="1.25" fill="#4485d0" stroke="none" stroke-width="0"/>
<circle cx="473.09" cy="95.61" r="1.25" fill="#4485d0" stroke="none" stroke-width="0"/>
<circle cx="474.31" cy="94.83" r="1.25" fill="#4485d0" stroke="none" stroke-width="0"/>
<circle cx="476.30" cy="87.74" r="1.25" fill="#4485d0" stroke="none" stroke-width="0"/>
<circle cx="483.13" cy="87.74" r="1.25" fill="#4485d0" stroke="none" stroke-width="0"/>
<circle cx="473.79" cy="98.15" r="1.25" fill="#4485d0" stroke="none" stroke-width="0"/>
<circle cx="479.68" cy="92.75" r="1.25" fill="#4485d0" stroke="none" stroke-width="0"/>
<circle cx="480.78" cy="85.50" r="1.25" fill="#4485d0" stroke="none" stroke-width="0"/>
<circle cx="479.69" cy="91.02" r="1.25" fill="#4485d0" stroke="none" stroke-width="0"/>
<circle cx="482.38" cy="87.83" r="1.25" fill="#4485d0" stroke="none" stroke-width="0"/>
<circle cx="482.60" cy="87.68" r="1.25" fill="#4485d0" stroke="none" stroke-width="0"/>
<circle cx="485.07" cy="85.02" r="1.25" fill="#4485d0" stroke="none" stroke-width="0"/>
<circle cx="476.46" cy="92.68" r="1.25" fill="#4485d0" stroke="none" stroke-width="0"/>
<circle cx="477.84" cy="94.48" r="1.25" fill="#4485d0" stroke="none" stroke-width="0"/>
<circle cx="479.47" cy="87.58" r="1.25" fill="#4485d0" stroke="none" stroke-width="0"/>
<circle cx="472.92" cy="96.75" r="1.25" fill="#4485d0" stroke="none" stroke-width="0"/>
<circle cx="479.39" cy="90.43" r="1.25" fill="#4485d0" stroke="none" stroke-width="0"/>
<circle cx="482.47" cy="90.86" r="1.25" fill="#4485d0" stroke="none" stroke-width="0"/>
<circle cx="482.01" cy="87.98" r="1.25" fill="#4485d0" stroke="none" stroke-width="0"/>
<circle cx="480.25" cy="89.76" r="1.25" fill="#4485d0" stroke="none" stroke-width="0"/>
<circle cx="478.84" cy="92.15" r="1.25" fill="#4485d0" stroke="none" stroke-width="0"/>
<circle cx="481.23" cy="81.55" r="1.25" fill="#4485d0" stroke="none" stroke-width="0"/>
<circle cx="483.31" cy="83.27" r="1.25" fill="#4485d0" stroke="none" stroke-width="0"/>
<circle cx="481.73" cy="89.00" r="1.25" fill="#4485d0" stroke="none" stroke-width="0"/>
<circle cx="481.89" cy="80.93" r="1.25" fill="#4485d0" stroke="none" stroke-width="0"/>
<circle cx="475.83" cy="90.98" r="1.25" fill="#4485d0" stroke="none" stroke-width="0"/>
<circle cx="483.23" cy="85.07" r="1.25" fill="#4485d0" stroke="none" stroke-width="0"/>
<circle cx="482.52" cy="82.36" r="1.25" fill="#4485d0" stroke="none" stroke-width="0"/>
<circle cx="487.12" cy="77.89" r="1.25" fill="#4485d0" stroke="none" stroke-width="0"/>
<circle cx="485.34" cy="82.70" r="1.25" fill="#4485d0" stroke="none" stroke-width="0"/>
<circle cx="482.70" cy="85.88" r="1.25" fill="#4485d0" stroke="none" stroke-width="0"/>
<circle cx="481.00" cy="89.57" r="1.25" fill="#4485d0" stroke="none" stroke-width="0"/>
<circle cx="482.25" cy="82.38" r="1.25" fill="#4485d0" stroke="none" stroke-width="0"/>
<circle cx="479.58" cy="88.80" r="1.25" fill="#4485d0" stroke="none" stroke-width="0"/>
<circle cx="482.10" cy="86.92" r="1.25" fill="#4485d0" stroke="none" stroke-width="0"/>
<circle cx="483.12" cy="85.13" r="1.25" fill="#4485d0" stroke="none" stroke-width="0"/>
<circle cx="476.38" cy="96.00" r="1.25" fill="#4485d0" stroke="none" stroke-width="0"/>
<circle cx="482.46" cy="84.63" r="1.25" fill="#4485d0" stroke="none" stroke-width="0"/>
<circle cx="483.68" cy="84.55" r="1.25" fill="#4485d0" stroke="none" stroke-width="0"/>
<circle cx="480.81" cy="93.10" r="1.25" fill="#4485d0" stroke="none" stroke-width="0"/>
<circle cx="484.63" cy="87.17" r="1.25" fill="#4485d0" stroke="none" stroke-width="0"/>
<circle cx="483.50" cy="88.99" r="1.25" fill="#4485d0" stroke="none" stroke-width="0"/>
<circle cx="478.05" cy="90.58" r="1.25" fill="#4485d0" stroke="none" stroke-width="0"/>
<circle cx="478.82" cy="92.42" r="1.25" fill="#4485d0" stroke="none" stroke-width="0"/>
<circle cx="483.05" cy="83.84" r="1.25" fill="#4485d0" stroke="none" stroke-width="0"/>
<circle cx="481.45" cy="88.59" r="1.25" fill="#4485d0" stroke="none" stroke-width="0"/>
<circle cx="477.56" cy="93.01" r="1.25" fill="#4485d0" stroke="none" stroke-width="0"/>
<circle cx="478.53" cy="90.63" r="1.25" fill="#4485d0" stroke="none" stroke-width="0"/>
<circle cx="482.66" cy="86.82" r="1.25" fill="#4485d0" stroke="none" stroke-width="0"/>
<circle cx="477.69" cy="93.29" r="1.25" fill="#4485d0" stroke="none" stroke-width="0"/>
<circle cx="484.31" cy="84.10" r="1.25" fill="#4485d0" stroke="none" stroke-width="0"/>
<circle cx="480.97" cy="87.16" r="1.25" fill="#4485d0" stroke="none" stroke-width="0"/>
<circle cx="482.12" cy="86.40" r="1.25" fill="#4485d0" stroke="none" stroke-width="0"/>
<circle cx="483.99" cy="82.42" r="1.25" fill="#4485d0" stroke="none" stroke-width="0"/>
<circle cx="471.22" cy="98.41" r="1.25" fill="#4485d0" stroke="none" stroke-width="0"/>
<circle cx="488.20" cy="83.02" r="1.25" fill="#4485d0" stroke="none" stroke-width="0"/>
<circle cx="480.66" cy="85.00" r="1.25" fill="#4485d0" stroke="none" stroke-width="0"/>
<circle cx="480.26" cy="84.61" r="1.25" fill="#4485d0" stroke="none" stroke-width="0"/>
<circle cx="476.24" cy="96.65" r="1.25" fill="#4485d0" stroke="none" stroke-width="0"/>
<circle cx="479.67" cy="91.56" r="1.25" fill="#4485d0" stroke="none" stroke-width="0"/>
<circle cx="476.86" cy="90.45" r="1.25" fill="#4485d0" stroke="none" stroke-width="0"/>
<circle cx="481.14" cy="87.77" r="1.25" fill="#4485d0" stroke="none" stroke-width="0"/>
<circle cx="478.99" cy="89.19" r="1.25" fill="#4485d0" stroke="none" stroke-width="0"/>
<circle cx="479.90" cy="91.29" r="1.25" fill="#4485d0" stroke="none" stroke-width="0"/>
<circle cx="481.91" cy="85.87" r="1.25" fill="#4485d0" stroke="none" stroke-width="0"/>
<circle cx="480.54" cy="86.28" r="1.25" fill="#4485d0" stroke="none" stroke-width="0"/>
<circle cx="476.77" cy="92.71" r="1.25" fill="#4485d0" stroke="none" stroke-width="0"/>
<circle cx="478.62" cy="86.31" r="1.25" fill="#4485d0" stroke="none" stroke-width="0"/>
<circle cx="481.90" cy="80.57" r="1.25" fill="#4485d0" stroke="none" stroke-width="0"/>
<circle cx="485.27" cy="84.69" r="1.25" fill="#4485d0" stroke="none" stroke-width="0"/>
<circle cx="476.82" cy="90.75" r="1.25" fill="#4485d0" stroke="none" stroke-width="0"/>
<circle cx="479.39" cy="90.07" r="1.25" fill="#4485d0" stroke="none" stroke-width="0"/>
<circle cx="476.92" cy="90.28" r="1.25" fill="#4485d0" stroke="none" stroke-width="0"/>
<circle cx="480.87" cy="86.83" r="1.25" fill="#4485d0" stroke="none" stroke-width="0"/>
<circle cx="481.27" cy="90.41" r="1.25" fill="#4485d0" stroke="none" stroke-width="0"/>
<circle cx="473.19" cy="96.77" r="1.25" fill="#4485d0" stroke="none" stroke-width="0"/>
<circle cx="478.27" cy="92.34" r="1.25" fill="#4485d0" stroke="none" stroke-width="0"/>
<circle cx="483.33" cy="85.85" r="1.25" fill="#4485d0" stroke="none" stroke-width="0"/>
<circle cx="485.07" cy="83.21" r="1.25" fill="#4485d0" stroke="none" stroke-width="0"/>
<circle cx="482.46" cy="84.89" r="1.25" fill="#4485d0" stroke="none" stroke-width="0"/>
<circle cx="482.84" cy="89.88" r="1.25" fill="#4485d0" stroke="none" stroke-width="0"/>
<circle cx="483.74" cy="84.79" r="1.25" fill="#4485d0" stroke="none" stroke-width="0"/>
<circle cx="477.19" cy="89.97" r="1.25" fill="#4485d0" stroke="none" stroke-width="0"/>
<circle cx="481.38" cy="83.62" r="1.25" fill="#4485d0" stroke="none" stroke-width="0"/>
<circle cx="482.60" cy="85.18" r="1.25" fill="#4485d0" stroke="none" stroke-width="0"/>
<circle cx="475.11" cy="88.86" r="1.25" fill="#4485d0" stroke="none" stroke-width="0"/>
<circle cx="485.00" cy="81.47" r="1.25" fill="#4485d0" stroke="none" stroke-width="0"/>
<circle cx="481.75" cy="83.46" r="1.25" fill="#4485d0" stroke="none" stroke-width="0"/>
<circle cx="477.54" cy="89.35" r="1.25" fill="#4485d0" stroke="none" stroke-width="0"/>
<circle cx="480.36" cy="91.64" r="1.25" fill="#4485d0" stroke="none" stroke-width="0"/>
<circle cx="481.45" cy="86.40" r="1.25" fill="#4485d0" stroke="none" stroke-width="0"/>
<circle cx="485.68" cy="80.26" r="1.25" fill="#4485d0" stroke="none" stroke-width="0"/>
<circle cx="475.21" cy="99.85" r="1.25" fill="#4485d0" stroke="none" stroke-width="0"/>
<circle cx="480.04" cy="89.56" r="1.25" fill="#4485d0" stroke="none" stroke-width="0"/>
<circle cx="477.32" cy="96.15" r="1.25" fill="#4485d0" stroke="none" stroke-width="0"/>
<circle cx="479.67" cy="92.82" r="1.25" fill="#4485d0" stroke="none" stroke-width="0"/>
<circle cx="478.09" cy="88.29" r="1.25" fill="#4485d0" stroke="none" stroke-width="0"/>
<circle cx="481.04" cy="90.19" r="1.25" fill="#4485d0" stroke="none" stroke-width="0"/>
<circle cx="476.72" cy="92.89" r="1.25" fill="#4485d0" stroke="none" stroke-width="0"/>
<circle cx="485.78" cy="84.58" r="1.25" fill="#4485d0" stroke="none" stroke-width="0"/>
<circle cx="485.77" cy="85.44" r="1.25" fill="#4485d0" stroke="none" stroke-width="0"/>
<circle cx="479.62" cy="87.23" r="1.25" fill="#4485d0" stroke="none" stroke-width="0"/>
<circle cx="477.84" cy="91.01" r="1.25" fill="#4485d0" stroke="none" stroke-width="0"/>
<circle cx="475.99" cy="91.05" r="1.25" fill="#4485d0" stroke="none" stroke-width="0"/>
<circle cx="483.95" cy="86.88" r="1.25" fill="#4485d0" stroke="none" stroke-width="0"/>
<circle cx="480.87" cy="89.31" r="1.25" fill="#4485d0" stroke="none" stroke-width="0"/>
<circle cx="473.45" cy="87.32" r="1.25" fill="#4485d0" stroke="none" stroke-width="0"/>
<circle cx="482.28" cy="84.11" r="1.25" fill="#4485d0" stroke="none" stroke-width="0"/>
<circle cx="481.51" cy="86.88" r="1.25" fill="#4485d0" stroke="none" stroke-width="0"/>
<circle cx="487.79" cy="86.53" r="1.25" fill="#4485d0" stroke="none" stroke-width="0"/>
<circle cx="479.29" cy="90.96" r="1.25" fill="#4485d0" stroke="none" stroke-width="0"/>
<circle cx="479.62" cy="87.23" r="1.25" fill="#4485d0" stroke="none" stroke-width="0"/>
<circle cx="478.00" cy="95.06" r="1.25" fill="#4485d0" stroke="none" stroke-width="0"/>
<circle cx="476.71" cy="90.94" r="1.25" fill="#4485d0" stroke="none" stroke-width="0"/>
<circle cx="483.30" cy="83.12" r="1.25" fill="#4485d0" stroke="none" stroke-width="0"/>
<circle cx="485.34" cy="85.06" r="1.25" fill="#4485d0" stroke="none" stroke-width="0"/>
<circle cx="483.43" cy="83.36" r="1.25" fill="#4485d0" stroke="none" stroke-width="0"/>
<circle cx="479.76" cy="91.50" r="1.25" fill="#4485d0" stroke="none" stroke-width="0"/>
<circle cx="483.07" cy="87.89" r="1.25" fill="#4485d0" stroke="none" stroke-width="0"/>
<circle cx="479.35" cy="92.59" r="1.25" fill="#4485d0" stroke="none" stroke-width="0"/>
<circle cx="485.82" cy="83.15" r="1.25" fill="#4485d0" stroke="none" stroke-width="0"/>
<circle cx="478.70" cy="91.05" r="1.25" fill="#4485d0" stroke="none" stroke-width="0"/>
<circle cx="479.56" cy="89.14" r="1.25" fill="#4485d0" stroke="none" stroke-width="0"/>
<circle cx="474.87" cy="97.76" r="1.25" fill="#4485d0" stroke="none" stroke-width="0"/>
<circle cx="481.89" cy="83.73" r="1.25" fill="#4485d0" stroke="none" stroke-width="0"/>
<circle cx="477.08" cy="91.61" r="1.25" fill="#4485d0" stroke="none" stroke-width="0"/>
<circle cx="478.46" cy="97.48" r="1.25" fill="#4485d0" stroke="none" stroke-width="0"/>
<circle cx="479.29" cy="92.99" r="1.25" fill="#4485d0" stroke="none" stroke-width="0"/>
<circle cx="483.04" cy="86.48" r="1.25" fill="#4485d0" stroke="none" stroke-width="0"/>
<circle cx="480.16" cy="93.26" r="1.25" fill="#4485d0" stroke="none" stroke-width="0"/>
<circle cx="480.74" cy="94.14" r="1.25" fill="#4485d0" stroke="none" stroke-width="0"/>
<circle cx="480.98" cy="83.77" r="1.25" fill="#4485d0" stroke="none" stroke-width="0"/>
<circle cx="476.44" cy="90.02" r="1.25" fill="#4485d0" stroke="none" stroke-width="0"/>
<circle cx="484.74" cy="84.72" r="1.25" fill="#4485d0" stroke="none" stroke-width="0"/>
<circle cx="483.82" cy="84.80" r="1.25" fill="#4485d0" stroke="none" stroke-width="0"/>
<circle cx="478.72" cy="96.40" r="1.25" fill="#4485d0" stroke="none" stroke-width="0"/>
<circle cx="476.86" cy="96.71" r="1.25" fill="#4485d0" stroke="none" stroke-width="0"/>
<circle cx="487.83" cy="80.15" r="1.25" fill="#4485d0" stroke="none" stroke-width="0"/>
<circle cx="479.73" cy="93.36" r="1.25" fill="#4485d0" stroke="none" stroke-width="0"/>
<circle cx="485.74" cy="86.62" r="1.25" fill="#4485d0" stroke="none" stroke-width="0"/>
<circle cx="484.99" cy="80.54" r="1.25" fill="#4485d0" stroke="none" stroke-width="0"/>
<circle cx="480.51" cy="90.45" r="1.25" fill="#4485d0" stroke="none" stroke-width="0"/>
<circle cx="480.13" cy="92.86" r="1.25" fill="#4485d0" stroke="none" stroke-width="0"/>
<circle cx="482.34" cy="81.43" r="1.25" fill="#4485d0" stroke="none" stroke-width="0"/>
<circle cx="483.11" cy="82.58" r="1.25" fill="#4485d0" stroke="none" stroke-width="0"/>
<circle cx="478.06" cy="90.01" r="1.25" fill="#4485d0" stroke="none" stroke-width="0"/>
<circle cx="477.03" cy="93.38" r="1.25" fill="#4485d0" stroke="none" stroke-width="0"/>
<circle cx="482.59" cy="78.67" r="1.25" fill="#4485d0" stroke="none" stroke-width="0"/>
<circle cx="480.51" cy="88.33" r="1.25" fill="#4485d0" stroke="none" stroke-width="0"/>
<circle cx="474.27" cy="94.30" r="1.25" fill="#4485d0" stroke="none" stroke-width="0"/>
<circle cx="477.39" cy="95.91" r="1.25" fill="#4485d0" stroke="none" stroke-width="0"/>
<circle cx="475.56" cy="93.08" r="1.25" fill="#4485d0" stroke="none" stroke-width="0"/>
<circle cx="479.02" cy="87.90" r="1.25" fill="#4485d0" stroke="none" stroke-width="0"/>
<circle cx="479.54" cy="89.45" r="1.25" fill="#4485d0" stroke="none" stroke-width="0"/>
<circle cx="484.94" cy="81.44" r="1.25" fill="#4485d0" stroke="none" stroke-width="0"/>
<circle cx="482.72" cy="81.67" r="1.25" fill="#4485d0" stroke="none" stroke-width="0"/>
<circle cx="480.98" cy="90.99" r="1.25" fill="#4485d0" stroke="none" stroke-width="0"/>
<circle cx="477.75" cy="96.04" r="1.25" fill="#4485d0" stroke="none" stroke-width="0"/>
<circle cx="481.40" cy="88.75" r="1.25" fill="#4485d0" stroke="none" stroke-width="0"/>
<circle cx="481.91" cy="84.46" r="1.25" fill="#4485d0" stroke="none" stroke-width="0"/>
<circle cx="477.70" cy="90.75" r="1.25" fill="#4485d0" stroke="none" stroke-width="0"/>
<circle cx="484.32" cy="84.27" r="1.25" fill="#4485d0" stroke="none" stroke-width="0"/>
<circle cx="483.25" cy="86.23" r="1.25" fill="#4485d0" stroke="none" stroke-width="0"/>
<circle cx="477.26" cy="92.47" r="1.25" fill="#4485d0" stroke="none" stroke-width="0"/>
<circle cx="474.29" cy="92.65" r="1.25" fill="#4485d0" stroke="none" stroke-width="0"/>
<circle cx="478.64" cy="86.24" r="1.25" fill="#4485d0" stroke="none" stroke-width="0"/>
<circle cx="487.61" cy="85.59" r="1.25" fill="#4485d0" stroke="none" stroke-width="0"/>
<circle cx="485.20" cy="83.38" r="1.25" fill="#4485d0" stroke="none" stroke-width="0"/>
<circle cx="489.64" cy="78.21" r="1.25" fill="#4485d0" stroke="none" stroke-width="0"/>
<circle cx="489.47" cy="72.80" r="1.25" fill="#4485d0" stroke="none" stroke-width="0"/>
<circle cx="488.62" cy="82.46" r="1.25" fill="#4485d0" stroke="none" stroke-width="0"/>
<circle cx="485.29" cy="78.01" r="1.25" fill="#4485d0" stroke="none" stroke-width="0"/>
<circle cx="488.50" cy="80.93" r="1.25" fill="#4485d0" stroke="none" stroke-width="0"/>
<circle cx="489.79" cy="74.20" r="1.25" fill="#4485d0" stroke="none" stroke-width="0"/>
<circle cx="489.48" cy="78.73" r="1.25" fill="#4485d0" stroke="none" stroke-width="0"/>
<circle cx="486.12" cy="82.60" r="1.25" fill="#4485d0" stroke="none" stroke-width="0"/>
<circle cx="526.51" cy="38.49" r="1.25" fill="#4485d0" stroke="none" stroke-width="0"/>
<circle cx="513.91" cy="51.91" r="1.25" fill="#4485d0" stroke="none" stroke-width="0"/>
<circle cx="510.31" cy="55.67" r="1.25" fill="#4485d0" stroke="none" stroke-width="0"/>
<circle cx="507.04" cy="58.46" r="1.25" fill="#4485d0" stroke="none" stroke-width="0"/>
<circle cx="504.09" cy="61.73" r="1.25" fill="#4485d0" stroke="none" stroke-width="0"/>
<circle cx="502.46" cy="62.87" r="1.25" fill="#4485d0" stroke="none" stroke-width="0"/>
<circle cx="498.86" cy="64.18" r="1.25" fill="#4485d0" stroke="none" stroke-width="0"/>
<circle cx="500.00" cy="64.51" r="1.25" fill="#4485d0" stroke="none" stroke-width="0"/>
<circle cx="498.36" cy="67.78" r="1.25" fill="#4485d0" stroke="none" stroke-width="0"/>
<circle cx="493.95" cy="69.09" r="1.25" fill="#4485d0" stroke="none" stroke-width="0"/>
<circle cx="488.55" cy="73.18" r="1.25" fill="#4485d0" stroke="none" stroke-width="0"/>
<circle cx="490.18" cy="75.64" r="1.25" fill="#4485d0" stroke="none" stroke-width="0"/>
<circle cx="495.09" cy="76.46" r="1.25" fill="#4485d0" stroke="none" stroke-width="0"/>
<circle cx="492.31" cy="81.36" r="1.25" fill="#4485d0" stroke="none" stroke-width="0"/>
<circle cx="489.36" cy="86.27" r="1.25" fill="#4485d0" stroke="none" stroke-width="0"/>
<circle cx="467.27" cy="103.78" r="1.25" fill="#4485d0" stroke="none" stroke-width="0"/>
<circle cx="470.55" cy="104.27" r="1.25" fill="#4485d0" stroke="none" stroke-width="0"/>
<circle cx="468.42" cy="108.37" r="1.25" fill="#4485d0" stroke="none" stroke-width="0"/>
<circle cx="462.36" cy="95.60" r="1.25" fill="#4485d0" stroke="none" stroke-width="0"/>
<circle cx="493.64" cy="69.09" r="1.25" fill="#4485d0" stroke="none" stroke-width="0"/>
<circle cx="497.73" cy="67.73" r="1.25" fill="#4485d0" stroke="none" stroke-width="0"/>
<circle cx="498.64" cy="64.55" r="1.25" fill="#4485d0" stroke="none" stroke-width="0"/>
<circle cx="500.00" cy="64.09" r="1.25" fill="#4485d0" stroke="none" stroke-width="0"/>
<circle cx="503.18" cy="62.73" r="1.25" fill="#4485d0" stroke="none" stroke-width="0"/>
<circle cx="504.55" cy="61.36" r="1.25" fill="#4485d0" stroke="none" stroke-width="0"/>
<circle cx="488.18" cy="73.18" r="1.25" fill="#4485d0" stroke="none" stroke-width="0"/>
<circle cx="490.45" cy="75.45" r="1.25" fill="#4485d0" stroke="none" stroke-width="0"/>
<circle cx="491.36" cy="76.82" r="1.25" fill="#4485d0" stroke="none" stroke-width="0"/>
<circle cx="491.82" cy="78.18" r="1.25" fill="#4485d0" stroke="none" stroke-width="0"/>
<circle cx="495.00" cy="75.91" r="1.25" fill="#4485d0" stroke="none" stroke-width="0"/>
<circle cx="492.27" cy="81.36" r="1.25" fill="#4485d0" stroke="none" stroke-width="0"/>
<circle cx="489.55" cy="86.36" r="1.25" fill="#4485d0" stroke="none" stroke-width="0"/>
<circle cx="462.73" cy="96.36" r="1.25" fill="#4485d0" stroke="none" stroke-width="0"/>
<circle cx="467.27" cy="103.64" r="1.25" fill="#4485d0" stroke="none" stroke-width="0"/>
<circle cx="469.55" cy="104.09" r="1.25" fill="#4485d0" stroke="none" stroke-width="0"/>
<text x="0" y="0" transform="translate(441.30,68.70) rotate(-90) scale(1,1.07)" font-size="9.25" text-anchor="middle" fill="#231f20" stroke="#231f20" stroke-width="0.14">FC induced by MM.1S</text>
<text x="0" y="0" transform="translate(455.10,68.00) rotate(-90) scale(1,1.07)" font-size="9.25" text-anchor="middle" fill="#231f20" stroke="#231f20" stroke-width="0.14">(HD; Log<tspan font-size="0.55em" dy="0.3em">2</tspan>)</text>
<text x="0" y="0" transform="translate(492.00,129.31) scale(1,1.07)" font-size="9.25" text-anchor="middle" fill="#231f20" stroke="#231f20" stroke-width="0.14">FC induced by MM.1S</text>
<text x="0" y="0" transform="translate(493.20,139.71) scale(1,1.07)" font-size="9.25" text-anchor="middle" fill="#231f20" stroke="#231f20" stroke-width="0.14">(MM; Log<tspan font-size="0.55em" dy="0.3em">2</tspan>)</text>
<text x="0" y="0" transform="translate(82.90,175.30) scale(1,1.07)" font-size="9.2" text-anchor="middle" fill="#231f20" stroke="#231f20" stroke-width="0.14" font-style="italic">CCL2</text>
<text x="0" y="0" transform="translate(44.80,199.93) scale(1,1.07)" font-size="5.5" text-anchor="end" fill="#444" stroke="#444" stroke-width="0.14">12</text>
<line x1="46.10" y1="198.36" x2="48.00" y2="198.36" stroke="#333" stroke-width="0.7"/>
<text x="0" y="0" transform="translate(44.80,219.57) scale(1,1.07)" font-size="5.5" text-anchor="end" fill="#444" stroke="#444" stroke-width="0.14">10</text>
<line x1="46.10" y1="218.00" x2="48.00" y2="218.00" stroke="#333" stroke-width="0.7"/>
<text x="0" y="0" transform="translate(44.80,238.91) scale(1,1.07)" font-size="5.5" text-anchor="end" fill="#444" stroke="#444" stroke-width="0.14">8</text>
<line x1="46.10" y1="237.35" x2="48.00" y2="237.35" stroke="#333" stroke-width="0.7"/>
<line x1="48.00" y1="183.09" x2="48.00" y2="251.45" stroke="#333" stroke-width="1.2"/>
<line x1="47.40" y1="251.45" x2="115.80" y2="251.45" stroke="#333" stroke-width="1.2"/>
<circle cx="56.52" cy="228.18" r="1.15" fill="#dedede" stroke="#7a7a7a" stroke-width="0.8"/>
<circle cx="58.97" cy="228.18" r="1.15" fill="#dedede" stroke="#7a7a7a" stroke-width="0.8"/>
<circle cx="57.75" cy="232.55" r="1.15" fill="#dedede" stroke="#7a7a7a" stroke-width="0.8"/>
<circle cx="56.52" cy="234.00" r="1.15" fill="#dedede" stroke="#7a7a7a" stroke-width="0.8"/>
<circle cx="58.97" cy="234.00" r="1.15" fill="#dedede" stroke="#7a7a7a" stroke-width="0.8"/>
<circle cx="56.52" cy="240.98" r="1.15" fill="#dedede" stroke="#7a7a7a" stroke-width="0.8"/>
<circle cx="58.97" cy="240.98" r="1.15" fill="#dedede" stroke="#7a7a7a" stroke-width="0.8"/>
<circle cx="57.75" cy="247.53" r="1.15" fill="#dedede" stroke="#7a7a7a" stroke-width="0.8"/>
<circle cx="72.96" cy="196.18" r="1.15" fill="#606060" stroke="#2b2b2b" stroke-width="0.8"/>
<circle cx="75.41" cy="196.18" r="1.15" fill="#606060" stroke="#2b2b2b" stroke-width="0.8"/>
<circle cx="72.96" cy="200.55" r="1.15" fill="#606060" stroke="#2b2b2b" stroke-width="0.8"/>
<circle cx="75.41" cy="200.55" r="1.15" fill="#606060" stroke="#2b2b2b" stroke-width="0.8"/>
<circle cx="74.18" cy="204.18" r="1.15" fill="#606060" stroke="#2b2b2b" stroke-width="0.8"/>
<circle cx="74.18" cy="207.09" r="1.15" fill="#606060" stroke="#2b2b2b" stroke-width="0.8"/>
<circle cx="74.18" cy="212.18" r="1.15" fill="#606060" stroke="#2b2b2b" stroke-width="0.8"/>
<circle cx="74.18" cy="213.64" r="1.15" fill="#606060" stroke="#2b2b2b" stroke-width="0.8"/>
<circle cx="74.18" cy="215.53" r="1.15" fill="#606060" stroke="#2b2b2b" stroke-width="0.8"/>
<circle cx="90.62" cy="204.62" r="1.15" fill="#efc8ef" stroke="#c65fc6" stroke-width="0.8"/>
<circle cx="89.39" cy="220.18" r="1.15" fill="#efc8ef" stroke="#c65fc6" stroke-width="0.8"/>
<circle cx="91.84" cy="220.18" r="1.15" fill="#efc8ef" stroke="#c65fc6" stroke-width="0.8"/>
<circle cx="90.62" cy="223.82" r="1.15" fill="#efc8ef" stroke="#c65fc6" stroke-width="0.8"/>
<circle cx="90.62" cy="229.64" r="1.15" fill="#efc8ef" stroke="#c65fc6" stroke-width="0.8"/>
<circle cx="90.62" cy="234.00" r="1.15" fill="#efc8ef" stroke="#c65fc6" stroke-width="0.8"/>
<circle cx="88.17" cy="246.80" r="1.15" fill="#efc8ef" stroke="#c65fc6" stroke-width="0.8"/>
<circle cx="90.62" cy="246.80" r="1.15" fill="#efc8ef" stroke="#c65fc6" stroke-width="0.8"/>
<circle cx="93.07" cy="246.80" r="1.15" fill="#efc8ef" stroke="#c65fc6" stroke-width="0.8"/>
<circle cx="106.62" cy="186.44" r="1.15" fill="#f7b9bc" stroke="#e8343c" stroke-width="0.8"/>
<circle cx="105.39" cy="187.45" r="1.15" fill="#f7b9bc" stroke="#e8343c" stroke-width="0.8"/>
<circle cx="107.84" cy="187.45" r="1.15" fill="#f7b9bc" stroke="#e8343c" stroke-width="0.8"/>
<circle cx="105.39" cy="198.36" r="1.15" fill="#f7b9bc" stroke="#e8343c" stroke-width="0.8"/>
<circle cx="107.84" cy="198.36" r="1.15" fill="#f7b9bc" stroke="#e8343c" stroke-width="0.8"/>
<circle cx="106.62" cy="202.00" r="1.15" fill="#f7b9bc" stroke="#e8343c" stroke-width="0.8"/>
<circle cx="106.62" cy="205.64" r="1.15" fill="#f7b9bc" stroke="#e8343c" stroke-width="0.8"/>
<circle cx="106.62" cy="208.55" r="1.15" fill="#f7b9bc" stroke="#e8343c" stroke-width="0.8"/>
<circle cx="104.17" cy="210.29" r="1.15" fill="#f7b9bc" stroke="#e8343c" stroke-width="0.8"/>
<circle cx="106.62" cy="210.29" r="1.15" fill="#f7b9bc" stroke="#e8343c" stroke-width="0.8"/>
<circle cx="109.07" cy="210.29" r="1.15" fill="#f7b9bc" stroke="#e8343c" stroke-width="0.8"/>
<circle cx="106.62" cy="216.98" r="1.15" fill="#f7b9bc" stroke="#e8343c" stroke-width="0.8"/>
<text x="0" y="0" transform="translate(168.30,175.30) scale(1,1.07)" font-size="9.2" text-anchor="middle" fill="#231f20" stroke="#231f20" stroke-width="0.14" font-style="italic">CD44</text>
<text x="0" y="0" transform="translate(133.09,184.66) scale(1,1.07)" font-size="5.5" text-anchor="end" fill="#444" stroke="#444" stroke-width="0.14">11.5</text>
<line x1="134.39" y1="183.09" x2="136.29" y2="183.09" stroke="#333" stroke-width="0.7"/>
<text x="0" y="0" transform="translate(133.09,196.73) scale(1,1.07)" font-size="5.5" text-anchor="end" fill="#444" stroke="#444" stroke-width="0.14">11.0</text>
<line x1="134.39" y1="195.16" x2="136.29" y2="195.16" stroke="#333" stroke-width="0.7"/>
<text x="0" y="0" transform="translate(133.09,209.10) scale(1,1.07)" font-size="5.5" text-anchor="end" fill="#444" stroke="#444" stroke-width="0.14">10.5</text>
<line x1="134.39" y1="207.53" x2="136.29" y2="207.53" stroke="#333" stroke-width="0.7"/>
<text x="0" y="0" transform="translate(133.09,221.31) scale(1,1.07)" font-size="5.5" text-anchor="end" fill="#444" stroke="#444" stroke-width="0.14">10.0</text>
<line x1="134.39" y1="219.75" x2="136.29" y2="219.75" stroke="#333" stroke-width="0.7"/>
<text x="0" y="0" transform="translate(133.09,233.68) scale(1,1.07)" font-size="5.5" text-anchor="end" fill="#444" stroke="#444" stroke-width="0.14">9.5</text>
<line x1="134.39" y1="232.11" x2="136.29" y2="232.11" stroke="#333" stroke-width="0.7"/>
<text x="0" y="0" transform="translate(133.09,245.75) scale(1,1.07)" font-size="5.5" text-anchor="end" fill="#444" stroke="#444" stroke-width="0.14">9.0</text>
<line x1="134.39" y1="244.18" x2="136.29" y2="244.18" stroke="#333" stroke-width="0.7"/>
<line x1="136.29" y1="183.09" x2="136.29" y2="251.45" stroke="#333" stroke-width="1.2"/>
<line x1="135.69" y1="251.45" x2="203.60" y2="251.45" stroke="#333" stroke-width="1.2"/>
<circle cx="145.75" cy="196.18" r="1.15" fill="#dedede" stroke="#7a7a7a" stroke-width="0.8"/>
<circle cx="144.52" cy="204.62" r="1.15" fill="#dedede" stroke="#7a7a7a" stroke-width="0.8"/>
<circle cx="146.97" cy="204.62" r="1.15" fill="#dedede" stroke="#7a7a7a" stroke-width="0.8"/>
<circle cx="143.30" cy="211.89" r="1.15" fill="#dedede" stroke="#7a7a7a" stroke-width="0.8"/>
<circle cx="145.75" cy="211.89" r="1.15" fill="#dedede" stroke="#7a7a7a" stroke-width="0.8"/>
<circle cx="148.20" cy="211.89" r="1.15" fill="#dedede" stroke="#7a7a7a" stroke-width="0.8"/>
<circle cx="145.75" cy="233.56" r="1.15" fill="#dedede" stroke="#7a7a7a" stroke-width="0.8"/>
<circle cx="145.75" cy="247.53" r="1.15" fill="#dedede" stroke="#7a7a7a" stroke-width="0.8"/>
<circle cx="161.75" cy="191.38" r="1.15" fill="#606060" stroke="#2b2b2b" stroke-width="0.8"/>
<circle cx="161.75" cy="196.62" r="1.15" fill="#606060" stroke="#2b2b2b" stroke-width="0.8"/>
<circle cx="159.30" cy="198.07" r="1.15" fill="#606060" stroke="#2b2b2b" stroke-width="0.8"/>
<circle cx="161.75" cy="198.07" r="1.15" fill="#606060" stroke="#2b2b2b" stroke-width="0.8"/>
<circle cx="164.20" cy="198.07" r="1.15" fill="#606060" stroke="#2b2b2b" stroke-width="0.8"/>
<circle cx="159.30" cy="202.73" r="1.15" fill="#606060" stroke="#2b2b2b" stroke-width="0.8"/>
<circle cx="161.75" cy="202.73" r="1.15" fill="#606060" stroke="#2b2b2b" stroke-width="0.8"/>
<circle cx="164.20" cy="202.73" r="1.15" fill="#606060" stroke="#2b2b2b" stroke-width="0.8"/>
<circle cx="177.89" cy="186.73" r="1.15" fill="#efc8ef" stroke="#c65fc6" stroke-width="0.8"/>
<circle cx="176.67" cy="194.73" r="1.15" fill="#efc8ef" stroke="#c65fc6" stroke-width="0.8"/>
<circle cx="179.12" cy="194.73" r="1.15" fill="#efc8ef" stroke="#c65fc6" stroke-width="0.8"/>
<circle cx="177.89" cy="201.27" r="1.15" fill="#efc8ef" stroke="#c65fc6" stroke-width="0.8"/>
<circle cx="177.89" cy="214.36" r="1.15" fill="#efc8ef" stroke="#c65fc6" stroke-width="0.8"/>
<circle cx="177.89" cy="221.64" r="1.15" fill="#efc8ef" stroke="#c65fc6" stroke-width="0.8"/>
<circle cx="177.89" cy="224.25" r="1.15" fill="#efc8ef" stroke="#c65fc6" stroke-width="0.8"/>
<circle cx="177.89" cy="237.64" r="1.15" fill="#efc8ef" stroke="#c65fc6" stroke-width="0.8"/>
<circle cx="177.89" cy="240.55" r="1.15" fill="#efc8ef" stroke="#c65fc6" stroke-width="0.8"/>
<circle cx="194.18" cy="187.45" r="1.15" fill="#f7b9bc" stroke="#e8343c" stroke-width="0.8"/>
<circle cx="191.73" cy="189.93" r="1.15" fill="#f7b9bc" stroke="#e8343c" stroke-width="0.8"/>
<circle cx="194.18" cy="189.93" r="1.15" fill="#f7b9bc" stroke="#e8343c" stroke-width="0.8"/>
<circle cx="196.63" cy="189.93" r="1.15" fill="#f7b9bc" stroke="#e8343c" stroke-width="0.8"/>
<circle cx="192.96" cy="191.38" r="1.15" fill="#f7b9bc" stroke="#e8343c" stroke-width="0.8"/>
<circle cx="195.41" cy="191.38" r="1.15" fill="#f7b9bc" stroke="#e8343c" stroke-width="0.8"/>
<circle cx="192.96" cy="194.00" r="1.15" fill="#f7b9bc" stroke="#e8343c" stroke-width="0.8"/>
<circle cx="195.41" cy="194.00" r="1.15" fill="#f7b9bc" stroke="#e8343c" stroke-width="0.8"/>
<circle cx="192.96" cy="196.18" r="1.15" fill="#f7b9bc" stroke="#e8343c" stroke-width="0.8"/>
<circle cx="195.41" cy="196.18" r="1.15" fill="#f7b9bc" stroke="#e8343c" stroke-width="0.8"/>
<circle cx="194.18" cy="201.56" r="1.15" fill="#f7b9bc" stroke="#e8343c" stroke-width="0.8"/>
<circle cx="194.18" cy="205.35" r="1.15" fill="#f7b9bc" stroke="#e8343c" stroke-width="0.8"/>
<circle cx="194.18" cy="210.00" r="1.15" fill="#f7b9bc" stroke="#e8343c" stroke-width="0.8"/>
<text x="0" y="0" transform="translate(254.20,175.30) scale(1,1.07)" font-size="9.2" text-anchor="middle" fill="#231f20" stroke="#231f20" stroke-width="0.14" font-style="italic">CXCL2</text>
<text x="0" y="0" transform="translate(215.35,200.66) scale(1,1.07)" font-size="5.5" text-anchor="end" fill="#444" stroke="#444" stroke-width="0.14">10</text>
<line x1="216.65" y1="199.09" x2="218.55" y2="199.09" stroke="#333" stroke-width="0.7"/>
<text x="0" y="0" transform="translate(215.35,218.55) scale(1,1.07)" font-size="5.5" text-anchor="end" fill="#444" stroke="#444" stroke-width="0.14">8</text>
<line x1="216.65" y1="216.98" x2="218.55" y2="216.98" stroke="#333" stroke-width="0.7"/>
<text x="0" y="0" transform="translate(215.35,236.01) scale(1,1.07)" font-size="5.5" text-anchor="end" fill="#444" stroke="#444" stroke-width="0.14">6</text>
<line x1="216.65" y1="234.44" x2="218.55" y2="234.44" stroke="#333" stroke-width="0.7"/>
<line x1="218.55" y1="183.09" x2="218.55" y2="251.45" stroke="#333" stroke-width="1.2"/>
<line x1="217.95" y1="251.45" x2="286.90" y2="251.45" stroke="#333" stroke-width="1.2"/>
<circle cx="228.44" cy="225.27" r="1.15" fill="#dedede" stroke="#7a7a7a" stroke-width="0.8"/>
<circle cx="228.44" cy="234.73" r="1.15" fill="#dedede" stroke="#7a7a7a" stroke-width="0.8"/>
<circle cx="227.21" cy="239.82" r="1.15" fill="#dedede" stroke="#7a7a7a" stroke-width="0.8"/>
<circle cx="229.66" cy="239.82" r="1.15" fill="#dedede" stroke="#7a7a7a" stroke-width="0.8"/>
<circle cx="225.99" cy="244.47" r="1.15" fill="#dedede" stroke="#7a7a7a" stroke-width="0.8"/>
<circle cx="228.44" cy="244.47" r="1.15" fill="#dedede" stroke="#7a7a7a" stroke-width="0.8"/>
<circle cx="230.89" cy="244.47" r="1.15" fill="#dedede" stroke="#7a7a7a" stroke-width="0.8"/>
<circle cx="228.44" cy="247.53" r="1.15" fill="#dedede" stroke="#7a7a7a" stroke-width="0.8"/>
<circle cx="244.73" cy="200.98" r="1.15" fill="#606060" stroke="#2b2b2b" stroke-width="0.8"/>
<circle cx="244.73" cy="202.73" r="1.15" fill="#606060" stroke="#2b2b2b" stroke-width="0.8"/>
<circle cx="244.73" cy="204.47" r="1.15" fill="#606060" stroke="#2b2b2b" stroke-width="0.8"/>
<circle cx="242.28" cy="208.84" r="1.15" fill="#606060" stroke="#2b2b2b" stroke-width="0.8"/>
<circle cx="244.73" cy="208.84" r="1.15" fill="#606060" stroke="#2b2b2b" stroke-width="0.8"/>
<circle cx="247.18" cy="208.84" r="1.15" fill="#606060" stroke="#2b2b2b" stroke-width="0.8"/>
<circle cx="243.50" cy="212.18" r="1.15" fill="#606060" stroke="#2b2b2b" stroke-width="0.8"/>
<circle cx="245.95" cy="212.18" r="1.15" fill="#606060" stroke="#2b2b2b" stroke-width="0.8"/>
<circle cx="244.73" cy="214.36" r="1.15" fill="#606060" stroke="#2b2b2b" stroke-width="0.8"/>
<circle cx="243.50" cy="231.82" r="1.15" fill="#606060" stroke="#2b2b2b" stroke-width="0.8"/>
<circle cx="245.95" cy="231.82" r="1.15" fill="#606060" stroke="#2b2b2b" stroke-width="0.8"/>
<circle cx="261.16" cy="220.91" r="1.15" fill="#efc8ef" stroke="#c65fc6" stroke-width="0.8"/>
<circle cx="261.16" cy="227.45" r="1.15" fill="#efc8ef" stroke="#c65fc6" stroke-width="0.8"/>
<circle cx="261.16" cy="231.82" r="1.15" fill="#efc8ef" stroke="#c65fc6" stroke-width="0.8"/>
<circle cx="261.16" cy="233.56" r="1.15" fill="#efc8ef" stroke="#c65fc6" stroke-width="0.8"/>
<circle cx="259.94" cy="239.38" r="1.15" fill="#efc8ef" stroke="#c65fc6" stroke-width="0.8"/>
<circle cx="262.39" cy="239.38" r="1.15" fill="#efc8ef" stroke="#c65fc6" stroke-width="0.8"/>
<circle cx="261.16" cy="243.45" r="1.15" fill="#efc8ef" stroke="#c65fc6" stroke-width="0.8"/>
<circle cx="259.94" cy="247.09" r="1.15" fill="#efc8ef" stroke="#c65fc6" stroke-width="0.8"/>
<circle cx="262.39" cy="247.09" r="1.15" fill="#efc8ef" stroke="#c65fc6" stroke-width="0.8"/>
<circle cx="277.45" cy="186.73" r="1.15" fill="#f7b9bc" stroke="#e8343c" stroke-width="0.8"/>
<circle cx="276.23" cy="195.89" r="1.15" fill="#f7b9bc" stroke="#e8343c" stroke-width="0.8"/>
<circle cx="278.68" cy="195.89" r="1.15" fill="#f7b9bc" stroke="#e8343c" stroke-width="0.8"/>
<circle cx="276.23" cy="199.53" r="1.15" fill="#f7b9bc" stroke="#e8343c" stroke-width="0.8"/>
<circle cx="278.68" cy="199.53" r="1.15" fill="#f7b9bc" stroke="#e8343c" stroke-width="0.8"/>
<circle cx="277.45" cy="211.45" r="1.15" fill="#f7b9bc" stroke="#e8343c" stroke-width="0.8"/>
<circle cx="277.45" cy="218.44" r="1.15" fill="#f7b9bc" stroke="#e8343c" stroke-width="0.8"/>
<circle cx="275.00" cy="224.25" r="1.15" fill="#f7b9bc" stroke="#e8343c" stroke-width="0.8"/>
<circle cx="277.45" cy="224.25" r="1.15" fill="#f7b9bc" stroke="#e8343c" stroke-width="0.8"/>
<circle cx="279.90" cy="224.25" r="1.15" fill="#f7b9bc" stroke="#e8343c" stroke-width="0.8"/>
<circle cx="277.45" cy="226.29" r="1.15" fill="#f7b9bc" stroke="#e8343c" stroke-width="0.8"/>
<circle cx="277.45" cy="234.73" r="1.15" fill="#f7b9bc" stroke="#e8343c" stroke-width="0.8"/>
<circle cx="277.45" cy="245.20" r="1.15" fill="#f7b9bc" stroke="#e8343c" stroke-width="0.8"/>
<text x="0" y="0" transform="translate(339.50,175.30) scale(1,1.07)" font-size="9.2" text-anchor="middle" fill="#231f20" stroke="#231f20" stroke-width="0.14" font-style="italic">CXCL3</text>
<text x="0" y="0" transform="translate(300.35,194.84) scale(1,1.07)" font-size="5.5" text-anchor="end" fill="#444" stroke="#444" stroke-width="0.14">10</text>
<line x1="301.65" y1="193.27" x2="303.55" y2="193.27" stroke="#333" stroke-width="0.7"/>
<text x="0" y="0" transform="translate(300.35,213.46) scale(1,1.07)" font-size="5.5" text-anchor="end" fill="#444" stroke="#444" stroke-width="0.14">8</text>
<line x1="301.65" y1="211.89" x2="303.55" y2="211.89" stroke="#333" stroke-width="0.7"/>
<text x="0" y="0" transform="translate(300.35,231.93) scale(1,1.07)" font-size="5.5" text-anchor="end" fill="#444" stroke="#444" stroke-width="0.14">6</text>
<line x1="301.65" y1="230.36" x2="303.55" y2="230.36" stroke="#333" stroke-width="0.7"/>
<text x="0" y="0" transform="translate(300.35,250.41) scale(1,1.07)" font-size="5.5" text-anchor="end" fill="#444" stroke="#444" stroke-width="0.14">4</text>
<line x1="301.65" y1="248.84" x2="303.55" y2="248.84" stroke="#333" stroke-width="0.7"/>
<line x1="303.55" y1="183.09" x2="303.55" y2="251.45" stroke="#333" stroke-width="1.2"/>
<line x1="302.95" y1="251.45" x2="372.40" y2="251.45" stroke="#333" stroke-width="1.2"/>
<circle cx="313.73" cy="243.45" r="1.15" fill="#dedede" stroke="#7a7a7a" stroke-width="0.8"/>
<circle cx="312.50" cy="245.20" r="1.15" fill="#dedede" stroke="#7a7a7a" stroke-width="0.8"/>
<circle cx="314.95" cy="245.20" r="1.15" fill="#dedede" stroke="#7a7a7a" stroke-width="0.8"/>
<circle cx="310.05" cy="247.09" r="1.15" fill="#dedede" stroke="#7a7a7a" stroke-width="0.8"/>
<circle cx="312.50" cy="247.09" r="1.15" fill="#dedede" stroke="#7a7a7a" stroke-width="0.8"/>
<circle cx="314.95" cy="247.09" r="1.15" fill="#dedede" stroke="#7a7a7a" stroke-width="0.8"/>
<circle cx="317.40" cy="247.09" r="1.15" fill="#dedede" stroke="#7a7a7a" stroke-width="0.8"/>
<circle cx="326.49" cy="203.45" r="1.15" fill="#606060" stroke="#2b2b2b" stroke-width="0.8"/>
<circle cx="328.94" cy="203.45" r="1.15" fill="#606060" stroke="#2b2b2b" stroke-width="0.8"/>
<circle cx="331.39" cy="203.45" r="1.15" fill="#606060" stroke="#2b2b2b" stroke-width="0.8"/>
<circle cx="333.84" cy="203.45" r="1.15" fill="#606060" stroke="#2b2b2b" stroke-width="0.8"/>
<circle cx="327.71" cy="204.91" r="1.15" fill="#606060" stroke="#2b2b2b" stroke-width="0.8"/>
<circle cx="330.16" cy="204.91" r="1.15" fill="#606060" stroke="#2b2b2b" stroke-width="0.8"/>
<circle cx="332.61" cy="204.91" r="1.15" fill="#606060" stroke="#2b2b2b" stroke-width="0.8"/>
<circle cx="328.94" cy="207.09" r="1.15" fill="#606060" stroke="#2b2b2b" stroke-width="0.8"/>
<circle cx="331.39" cy="207.09" r="1.15" fill="#606060" stroke="#2b2b2b" stroke-width="0.8"/>
<circle cx="330.16" cy="212.91" r="1.15" fill="#606060" stroke="#2b2b2b" stroke-width="0.8"/>
<circle cx="328.94" cy="234.29" r="1.15" fill="#606060" stroke="#2b2b2b" stroke-width="0.8"/>
<circle cx="331.39" cy="234.29" r="1.15" fill="#606060" stroke="#2b2b2b" stroke-width="0.8"/>
<circle cx="346.45" cy="239.09" r="1.15" fill="#efc8ef" stroke="#c65fc6" stroke-width="0.8"/>
<circle cx="344.00" cy="245.20" r="1.15" fill="#efc8ef" stroke="#c65fc6" stroke-width="0.8"/>
<circle cx="346.45" cy="245.20" r="1.15" fill="#efc8ef" stroke="#c65fc6" stroke-width="0.8"/>
<circle cx="348.90" cy="245.20" r="1.15" fill="#efc8ef" stroke="#c65fc6" stroke-width="0.8"/>
<circle cx="341.55" cy="247.09" r="1.15" fill="#efc8ef" stroke="#c65fc6" stroke-width="0.8"/>
<circle cx="344.00" cy="247.09" r="1.15" fill="#efc8ef" stroke="#c65fc6" stroke-width="0.8"/>
<circle cx="346.45" cy="247.09" r="1.15" fill="#efc8ef" stroke="#c65fc6" stroke-width="0.8"/>
<circle cx="348.90" cy="247.09" r="1.15" fill="#efc8ef" stroke="#c65fc6" stroke-width="0.8"/>
<circle cx="351.35" cy="247.09" r="1.15" fill="#efc8ef" stroke="#c65fc6" stroke-width="0.8"/>
<circle cx="362.45" cy="186.44" r="1.15" fill="#f7b9bc" stroke="#e8343c" stroke-width="0.8"/>
<circle cx="361.23" cy="188.91" r="1.15" fill="#f7b9bc" stroke="#e8343c" stroke-width="0.8"/>
<circle cx="363.68" cy="188.91" r="1.15" fill="#f7b9bc" stroke="#e8343c" stroke-width="0.8"/>
<circle cx="362.45" cy="203.02" r="1.15" fill="#f7b9bc" stroke="#e8343c" stroke-width="0.8"/>
<circle cx="362.45" cy="205.35" r="1.15" fill="#f7b9bc" stroke="#e8343c" stroke-width="0.8"/>
<circle cx="361.23" cy="214.07" r="1.15" fill="#f7b9bc" stroke="#e8343c" stroke-width="0.8"/>
<circle cx="363.68" cy="214.07" r="1.15" fill="#f7b9bc" stroke="#e8343c" stroke-width="0.8"/>
<circle cx="362.45" cy="231.82" r="1.15" fill="#f7b9bc" stroke="#e8343c" stroke-width="0.8"/>
<circle cx="361.23" cy="234.00" r="1.15" fill="#f7b9bc" stroke="#e8343c" stroke-width="0.8"/>
<circle cx="363.68" cy="234.00" r="1.15" fill="#f7b9bc" stroke="#e8343c" stroke-width="0.8"/>
<circle cx="362.45" cy="243.16" r="1.15" fill="#f7b9bc" stroke="#e8343c" stroke-width="0.8"/>
<circle cx="362.45" cy="246.07" r="1.15" fill="#f7b9bc" stroke="#e8343c" stroke-width="0.8"/>
<text x="0" y="0" transform="translate(425.00,175.30) scale(1,1.07)" font-size="9.2" text-anchor="middle" fill="#231f20" stroke="#231f20" stroke-width="0.14" font-style="italic">CXCL5</text>
<text x="0" y="0" transform="translate(385.35,189.46) scale(1,1.07)" font-size="5.5" text-anchor="end" fill="#444" stroke="#444" stroke-width="0.14">12</text>
<line x1="386.65" y1="187.89" x2="388.55" y2="187.89" stroke="#333" stroke-width="0.7"/>
<text x="0" y="0" transform="translate(385.35,204.59) scale(1,1.07)" font-size="5.5" text-anchor="end" fill="#444" stroke="#444" stroke-width="0.14">10</text>
<line x1="386.65" y1="203.02" x2="388.55" y2="203.02" stroke="#333" stroke-width="0.7"/>
<text x="0" y="0" transform="translate(385.35,219.57) scale(1,1.07)" font-size="5.5" text-anchor="end" fill="#444" stroke="#444" stroke-width="0.14">8</text>
<line x1="386.65" y1="218.00" x2="388.55" y2="218.00" stroke="#333" stroke-width="0.7"/>
<text x="0" y="0" transform="translate(385.35,234.84) scale(1,1.07)" font-size="5.5" text-anchor="end" fill="#444" stroke="#444" stroke-width="0.14">6</text>
<line x1="386.65" y1="233.27" x2="388.55" y2="233.27" stroke="#333" stroke-width="0.7"/>
<text x="0" y="0" transform="translate(385.35,250.11) scale(1,1.07)" font-size="5.5" text-anchor="end" fill="#444" stroke="#444" stroke-width="0.14">4</text>
<line x1="386.65" y1="248.55" x2="388.55" y2="248.55" stroke="#333" stroke-width="0.7"/>
<line x1="388.55" y1="183.09" x2="388.55" y2="251.45" stroke="#333" stroke-width="1.2"/>
<line x1="387.95" y1="251.45" x2="457.30" y2="251.45" stroke="#333" stroke-width="1.2"/>
<circle cx="397.50" cy="244.62" r="1.15" fill="#dedede" stroke="#7a7a7a" stroke-width="0.8"/>
<circle cx="399.95" cy="244.62" r="1.15" fill="#dedede" stroke="#7a7a7a" stroke-width="0.8"/>
<circle cx="392.60" cy="247.38" r="1.15" fill="#dedede" stroke="#7a7a7a" stroke-width="0.8"/>
<circle cx="395.05" cy="247.38" r="1.15" fill="#dedede" stroke="#7a7a7a" stroke-width="0.8"/>
<circle cx="397.50" cy="247.38" r="1.15" fill="#dedede" stroke="#7a7a7a" stroke-width="0.8"/>
<circle cx="399.95" cy="247.38" r="1.15" fill="#dedede" stroke="#7a7a7a" stroke-width="0.8"/>
<circle cx="402.40" cy="247.38" r="1.15" fill="#dedede" stroke="#7a7a7a" stroke-width="0.8"/>
<circle cx="404.85" cy="247.38" r="1.15" fill="#dedede" stroke="#7a7a7a" stroke-width="0.8"/>
<circle cx="413.94" cy="203.02" r="1.15" fill="#606060" stroke="#2b2b2b" stroke-width="0.8"/>
<circle cx="416.39" cy="203.02" r="1.15" fill="#606060" stroke="#2b2b2b" stroke-width="0.8"/>
<circle cx="415.16" cy="211.16" r="1.15" fill="#606060" stroke="#2b2b2b" stroke-width="0.8"/>
<circle cx="411.49" cy="213.20" r="1.15" fill="#606060" stroke="#2b2b2b" stroke-width="0.8"/>
<circle cx="413.94" cy="213.20" r="1.15" fill="#606060" stroke="#2b2b2b" stroke-width="0.8"/>
<circle cx="416.39" cy="213.20" r="1.15" fill="#606060" stroke="#2b2b2b" stroke-width="0.8"/>
<circle cx="418.84" cy="213.20" r="1.15" fill="#606060" stroke="#2b2b2b" stroke-width="0.8"/>
<circle cx="415.16" cy="236.91" r="1.15" fill="#606060" stroke="#2b2b2b" stroke-width="0.8"/>
<circle cx="415.16" cy="242.00" r="1.15" fill="#606060" stroke="#2b2b2b" stroke-width="0.8"/>
<circle cx="420.43" cy="247.38" r="1.15" fill="#efc8ef" stroke="#c65fc6" stroke-width="0.8"/>
<circle cx="422.88" cy="247.38" r="1.15" fill="#efc8ef" stroke="#c65fc6" stroke-width="0.8"/>
<circle cx="425.33" cy="247.38" r="1.15" fill="#efc8ef" stroke="#c65fc6" stroke-width="0.8"/>
<circle cx="427.78" cy="247.38" r="1.15" fill="#efc8ef" stroke="#c65fc6" stroke-width="0.8"/>
<circle cx="430.23" cy="247.38" r="1.15" fill="#efc8ef" stroke="#c65fc6" stroke-width="0.8"/>
<circle cx="432.68" cy="247.38" r="1.15" fill="#efc8ef" stroke="#c65fc6" stroke-width="0.8"/>
<circle cx="435.13" cy="247.38" r="1.15" fill="#efc8ef" stroke="#c65fc6" stroke-width="0.8"/>
<circle cx="437.58" cy="247.38" r="1.15" fill="#efc8ef" stroke="#c65fc6" stroke-width="0.8"/>
<circle cx="440.03" cy="247.38" r="1.15" fill="#efc8ef" stroke="#c65fc6" stroke-width="0.8"/>
<circle cx="442.48" cy="247.38" r="1.15" fill="#efc8ef" stroke="#c65fc6" stroke-width="0.8"/>
<circle cx="446.23" cy="186.73" r="1.15" fill="#f7b9bc" stroke="#e8343c" stroke-width="0.8"/>
<circle cx="448.68" cy="186.73" r="1.15" fill="#f7b9bc" stroke="#e8343c" stroke-width="0.8"/>
<circle cx="447.45" cy="198.65" r="1.15" fill="#f7b9bc" stroke="#e8343c" stroke-width="0.8"/>
<circle cx="445.00" cy="211.45" r="1.15" fill="#f7b9bc" stroke="#e8343c" stroke-width="0.8"/>
<circle cx="447.45" cy="211.45" r="1.15" fill="#f7b9bc" stroke="#e8343c" stroke-width="0.8"/>
<circle cx="449.90" cy="211.45" r="1.15" fill="#f7b9bc" stroke="#e8343c" stroke-width="0.8"/>
<circle cx="445.00" cy="235.02" r="1.15" fill="#f7b9bc" stroke="#e8343c" stroke-width="0.8"/>
<circle cx="447.45" cy="235.02" r="1.15" fill="#f7b9bc" stroke="#e8343c" stroke-width="0.8"/>
<circle cx="449.90" cy="235.02" r="1.15" fill="#f7b9bc" stroke="#e8343c" stroke-width="0.8"/>
<circle cx="446.23" cy="242.00" r="1.15" fill="#f7b9bc" stroke="#e8343c" stroke-width="0.8"/>
<circle cx="448.68" cy="242.00" r="1.15" fill="#f7b9bc" stroke="#e8343c" stroke-width="0.8"/>
<circle cx="447.45" cy="243.75" r="1.15" fill="#f7b9bc" stroke="#e8343c" stroke-width="0.8"/>
<circle cx="447.45" cy="245.20" r="1.15" fill="#f7b9bc" stroke="#e8343c" stroke-width="0.8"/>
<text x="0" y="0" transform="translate(511.00,175.30) scale(1,1.07)" font-size="9.2" text-anchor="middle" fill="#231f20" stroke="#231f20" stroke-width="0.14" font-style="italic">CXCL8</text>
<text x="0" y="0" transform="translate(471.36,192.66) scale(1,1.07)" font-size="5.5" text-anchor="end" fill="#444" stroke="#444" stroke-width="0.14">12</text>
<line x1="472.66" y1="191.09" x2="474.56" y2="191.09" stroke="#333" stroke-width="0.7"/>
<text x="0" y="0" transform="translate(471.36,207.21) scale(1,1.07)" font-size="5.5" text-anchor="end" fill="#444" stroke="#444" stroke-width="0.14">10</text>
<line x1="472.66" y1="205.64" x2="474.56" y2="205.64" stroke="#333" stroke-width="0.7"/>
<text x="0" y="0" transform="translate(471.36,222.04) scale(1,1.07)" font-size="5.5" text-anchor="end" fill="#444" stroke="#444" stroke-width="0.14">8</text>
<line x1="472.66" y1="220.47" x2="474.56" y2="220.47" stroke="#333" stroke-width="0.7"/>
<text x="0" y="0" transform="translate(471.36,236.59) scale(1,1.07)" font-size="5.5" text-anchor="end" fill="#444" stroke="#444" stroke-width="0.14">6</text>
<line x1="472.66" y1="235.02" x2="474.56" y2="235.02" stroke="#333" stroke-width="0.7"/>
<text x="0" y="0" transform="translate(471.36,251.13) scale(1,1.07)" font-size="5.5" text-anchor="end" fill="#444" stroke="#444" stroke-width="0.14">4</text>
<line x1="472.66" y1="249.56" x2="474.56" y2="249.56" stroke="#333" stroke-width="0.7"/>
<line x1="474.56" y1="183.09" x2="474.56" y2="251.45" stroke="#333" stroke-width="1.2"/>
<line x1="473.96" y1="251.45" x2="542.70" y2="251.45" stroke="#333" stroke-width="1.2"/>
<circle cx="482.94" cy="237.93" r="1.15" fill="#dedede" stroke="#7a7a7a" stroke-width="0.8"/>
<circle cx="485.39" cy="237.93" r="1.15" fill="#dedede" stroke="#7a7a7a" stroke-width="0.8"/>
<circle cx="482.94" cy="242.29" r="1.15" fill="#dedede" stroke="#7a7a7a" stroke-width="0.8"/>
<circle cx="485.39" cy="242.29" r="1.15" fill="#dedede" stroke="#7a7a7a" stroke-width="0.8"/>
<circle cx="480.49" cy="247.53" r="1.15" fill="#dedede" stroke="#7a7a7a" stroke-width="0.8"/>
<circle cx="482.94" cy="247.53" r="1.15" fill="#dedede" stroke="#7a7a7a" stroke-width="0.8"/>
<circle cx="485.39" cy="247.53" r="1.15" fill="#dedede" stroke="#7a7a7a" stroke-width="0.8"/>
<circle cx="487.84" cy="247.53" r="1.15" fill="#dedede" stroke="#7a7a7a" stroke-width="0.8"/>
<circle cx="499.23" cy="198.07" r="1.15" fill="#606060" stroke="#2b2b2b" stroke-width="0.8"/>
<circle cx="501.68" cy="198.07" r="1.15" fill="#606060" stroke="#2b2b2b" stroke-width="0.8"/>
<circle cx="496.78" cy="200.55" r="1.15" fill="#606060" stroke="#2b2b2b" stroke-width="0.8"/>
<circle cx="499.23" cy="200.55" r="1.15" fill="#606060" stroke="#2b2b2b" stroke-width="0.8"/>
<circle cx="501.68" cy="200.55" r="1.15" fill="#606060" stroke="#2b2b2b" stroke-width="0.8"/>
<circle cx="504.13" cy="200.55" r="1.15" fill="#606060" stroke="#2b2b2b" stroke-width="0.8"/>
<circle cx="499.23" cy="210.29" r="1.15" fill="#606060" stroke="#2b2b2b" stroke-width="0.8"/>
<circle cx="501.68" cy="210.29" r="1.15" fill="#606060" stroke="#2b2b2b" stroke-width="0.8"/>
<circle cx="500.45" cy="223.82" r="1.15" fill="#606060" stroke="#2b2b2b" stroke-width="0.8"/>
<circle cx="516.89" cy="226.29" r="1.15" fill="#efc8ef" stroke="#c65fc6" stroke-width="0.8"/>
<circle cx="515.67" cy="231.53" r="1.15" fill="#efc8ef" stroke="#c65fc6" stroke-width="0.8"/>
<circle cx="518.12" cy="231.53" r="1.15" fill="#efc8ef" stroke="#c65fc6" stroke-width="0.8"/>
<circle cx="516.89" cy="237.64" r="1.15" fill="#efc8ef" stroke="#c65fc6" stroke-width="0.8"/>
<circle cx="515.67" cy="242.44" r="1.15" fill="#efc8ef" stroke="#c65fc6" stroke-width="0.8"/>
<circle cx="518.12" cy="242.44" r="1.15" fill="#efc8ef" stroke="#c65fc6" stroke-width="0.8"/>
<circle cx="516.89" cy="245.64" r="1.15" fill="#efc8ef" stroke="#c65fc6" stroke-width="0.8"/>
<circle cx="514.44" cy="247.09" r="1.15" fill="#efc8ef" stroke="#c65fc6" stroke-width="0.8"/>
<circle cx="516.89" cy="247.09" r="1.15" fill="#efc8ef" stroke="#c65fc6" stroke-width="0.8"/>
<circle cx="519.34" cy="247.09" r="1.15" fill="#efc8ef" stroke="#c65fc6" stroke-width="0.8"/>
<circle cx="533.18" cy="186.73" r="1.15" fill="#f7b9bc" stroke="#e8343c" stroke-width="0.8"/>
<circle cx="531.96" cy="191.38" r="1.15" fill="#f7b9bc" stroke="#e8343c" stroke-width="0.8"/>
<circle cx="534.41" cy="191.38" r="1.15" fill="#f7b9bc" stroke="#e8343c" stroke-width="0.8"/>
<circle cx="533.18" cy="195.16" r="1.15" fill="#f7b9bc" stroke="#e8343c" stroke-width="0.8"/>
<circle cx="533.18" cy="196.91" r="1.15" fill="#f7b9bc" stroke="#e8343c" stroke-width="0.8"/>
<circle cx="530.73" cy="203.45" r="1.15" fill="#f7b9bc" stroke="#e8343c" stroke-width="0.8"/>
<circle cx="533.18" cy="203.45" r="1.15" fill="#f7b9bc" stroke="#e8343c" stroke-width="0.8"/>
<circle cx="535.63" cy="203.45" r="1.15" fill="#f7b9bc" stroke="#e8343c" stroke-width="0.8"/>
<circle cx="531.96" cy="204.47" r="1.15" fill="#f7b9bc" stroke="#e8343c" stroke-width="0.8"/>
<circle cx="534.41" cy="204.47" r="1.15" fill="#f7b9bc" stroke="#e8343c" stroke-width="0.8"/>
<circle cx="533.18" cy="206.80" r="1.15" fill="#f7b9bc" stroke="#e8343c" stroke-width="0.8"/>
<circle cx="533.18" cy="212.91" r="1.15" fill="#f7b9bc" stroke="#e8343c" stroke-width="0.8"/>
<circle cx="533.18" cy="221.93" r="1.15" fill="#f7b9bc" stroke="#e8343c" stroke-width="0.8"/>
<circle cx="533.18" cy="227.16" r="1.15" fill="#f7b9bc" stroke="#e8343c" stroke-width="0.8"/>
<text x="0" y="0" transform="translate(83.00,267.30) scale(1,1.07)" font-size="9.2" text-anchor="middle" fill="#231f20" stroke="#231f20" stroke-width="0.14" font-style="italic">IL6</text>
<text x="0" y="0" transform="translate(45.09,290.30) scale(1,1.07)" font-size="5.5" text-anchor="end" fill="#444" stroke="#444" stroke-width="0.14">12</text>
<line x1="46.39" y1="288.73" x2="48.29" y2="288.73" stroke="#333" stroke-width="0.7"/>
<text x="0" y="0" transform="translate(45.09,314.01) scale(1,1.07)" font-size="5.5" text-anchor="end" fill="#444" stroke="#444" stroke-width="0.14">10</text>
<line x1="46.39" y1="312.44" x2="48.29" y2="312.44" stroke="#333" stroke-width="0.7"/>
<text x="0" y="0" transform="translate(45.09,337.57) scale(1,1.07)" font-size="5.5" text-anchor="end" fill="#444" stroke="#444" stroke-width="0.14">8</text>
<line x1="46.39" y1="336.00" x2="48.29" y2="336.00" stroke="#333" stroke-width="0.7"/>
<line x1="48.29" y1="268.36" x2="48.29" y2="336.73" stroke="#333" stroke-width="1.2"/>
<line x1="47.69" y1="336.73" x2="116.40" y2="336.73" stroke="#333" stroke-width="1.2"/>
<circle cx="54.51" cy="308.36" r="1.15" fill="#dedede" stroke="#7a7a7a" stroke-width="0.8"/>
<circle cx="56.96" cy="308.36" r="1.15" fill="#dedede" stroke="#7a7a7a" stroke-width="0.8"/>
<circle cx="59.41" cy="308.36" r="1.15" fill="#dedede" stroke="#7a7a7a" stroke-width="0.8"/>
<circle cx="61.86" cy="308.36" r="1.15" fill="#dedede" stroke="#7a7a7a" stroke-width="0.8"/>
<circle cx="58.18" cy="313.16" r="1.15" fill="#dedede" stroke="#7a7a7a" stroke-width="0.8"/>
<circle cx="56.96" cy="321.45" r="1.15" fill="#dedede" stroke="#7a7a7a" stroke-width="0.8"/>
<circle cx="59.41" cy="321.45" r="1.15" fill="#dedede" stroke="#7a7a7a" stroke-width="0.8"/>
<circle cx="58.18" cy="326.25" r="1.15" fill="#dedede" stroke="#7a7a7a" stroke-width="0.8"/>
<circle cx="58.18" cy="333.38" r="1.15" fill="#dedede" stroke="#7a7a7a" stroke-width="0.8"/>
<circle cx="74.47" cy="285.09" r="1.15" fill="#606060" stroke="#2b2b2b" stroke-width="0.8"/>
<circle cx="73.25" cy="286.55" r="1.15" fill="#606060" stroke="#2b2b2b" stroke-width="0.8"/>
<circle cx="75.70" cy="286.55" r="1.15" fill="#606060" stroke="#2b2b2b" stroke-width="0.8"/>
<circle cx="73.25" cy="290.18" r="1.15" fill="#606060" stroke="#2b2b2b" stroke-width="0.8"/>
<circle cx="75.70" cy="290.18" r="1.15" fill="#606060" stroke="#2b2b2b" stroke-width="0.8"/>
<circle cx="74.47" cy="297.16" r="1.15" fill="#606060" stroke="#2b2b2b" stroke-width="0.8"/>
<circle cx="74.47" cy="303.27" r="1.15" fill="#606060" stroke="#2b2b2b" stroke-width="0.8"/>
<circle cx="74.47" cy="305.02" r="1.15" fill="#606060" stroke="#2b2b2b" stroke-width="0.8"/>
<circle cx="74.47" cy="306.47" r="1.15" fill="#606060" stroke="#2b2b2b" stroke-width="0.8"/>
<circle cx="90.91" cy="298.62" r="1.15" fill="#efc8ef" stroke="#c65fc6" stroke-width="0.8"/>
<circle cx="90.91" cy="304.44" r="1.15" fill="#efc8ef" stroke="#c65fc6" stroke-width="0.8"/>
<circle cx="89.68" cy="309.09" r="1.15" fill="#efc8ef" stroke="#c65fc6" stroke-width="0.8"/>
<circle cx="92.13" cy="309.09" r="1.15" fill="#efc8ef" stroke="#c65fc6" stroke-width="0.8"/>
<circle cx="90.91" cy="312.00" r="1.15" fill="#efc8ef" stroke="#c65fc6" stroke-width="0.8"/>
<circle cx="90.91" cy="318.98" r="1.15" fill="#efc8ef" stroke="#c65fc6" stroke-width="0.8"/>
<circle cx="89.68" cy="322.47" r="1.15" fill="#efc8ef" stroke="#c65fc6" stroke-width="0.8"/>
<circle cx="92.13" cy="322.47" r="1.15" fill="#efc8ef" stroke="#c65fc6" stroke-width="0.8"/>
<circle cx="90.91" cy="323.93" r="1.15" fill="#efc8ef" stroke="#c65fc6" stroke-width="0.8"/>
<circle cx="90.91" cy="324.80" r="1.15" fill="#efc8ef" stroke="#c65fc6" stroke-width="0.8"/>
<circle cx="107.20" cy="272.44" r="1.15" fill="#f7b9bc" stroke="#e8343c" stroke-width="0.8"/>
<circle cx="107.20" cy="276.80" r="1.15" fill="#f7b9bc" stroke="#e8343c" stroke-width="0.8"/>
<circle cx="105.98" cy="291.35" r="1.15" fill="#f7b9bc" stroke="#e8343c" stroke-width="0.8"/>
<circle cx="108.42" cy="291.35" r="1.15" fill="#f7b9bc" stroke="#e8343c" stroke-width="0.8"/>
<circle cx="107.20" cy="296.29" r="1.15" fill="#f7b9bc" stroke="#e8343c" stroke-width="0.8"/>
<circle cx="104.75" cy="298.62" r="1.15" fill="#f7b9bc" stroke="#e8343c" stroke-width="0.8"/>
<circle cx="107.20" cy="298.62" r="1.15" fill="#f7b9bc" stroke="#e8343c" stroke-width="0.8"/>
<circle cx="109.65" cy="298.62" r="1.15" fill="#f7b9bc" stroke="#e8343c" stroke-width="0.8"/>
<circle cx="107.20" cy="302.11" r="1.15" fill="#f7b9bc" stroke="#e8343c" stroke-width="0.8"/>
<circle cx="107.20" cy="305.89" r="1.15" fill="#f7b9bc" stroke="#e8343c" stroke-width="0.8"/>
<circle cx="105.98" cy="310.84" r="1.15" fill="#f7b9bc" stroke="#e8343c" stroke-width="0.8"/>
<circle cx="108.42" cy="310.84" r="1.15" fill="#f7b9bc" stroke="#e8343c" stroke-width="0.8"/>
<text x="0" y="0" transform="translate(168.30,267.30) scale(1,1.07)" font-size="9.2" text-anchor="middle" fill="#231f20" stroke="#231f20" stroke-width="0.14" font-style="italic">LIF</text>
<text x="0" y="0" transform="translate(130.35,273.13) scale(1,1.07)" font-size="5.5" text-anchor="end" fill="#444" stroke="#444" stroke-width="0.14">12</text>
<line x1="131.65" y1="271.56" x2="133.55" y2="271.56" stroke="#333" stroke-width="0.7"/>
<text x="0" y="0" transform="translate(130.35,294.22) scale(1,1.07)" font-size="5.5" text-anchor="end" fill="#444" stroke="#444" stroke-width="0.14">10</text>
<line x1="131.65" y1="292.65" x2="133.55" y2="292.65" stroke="#333" stroke-width="0.7"/>
<text x="0" y="0" transform="translate(130.35,315.31) scale(1,1.07)" font-size="5.5" text-anchor="end" fill="#444" stroke="#444" stroke-width="0.14">8</text>
<line x1="131.65" y1="313.75" x2="133.55" y2="313.75" stroke="#333" stroke-width="0.7"/>
<text x="0" y="0" transform="translate(130.35,336.41) scale(1,1.07)" font-size="5.5" text-anchor="end" fill="#444" stroke="#444" stroke-width="0.14">6</text>
<line x1="131.65" y1="334.84" x2="133.55" y2="334.84" stroke="#333" stroke-width="0.7"/>
<line x1="133.55" y1="270.55" x2="133.55" y2="338.47" stroke="#333" stroke-width="1.2"/>
<line x1="132.95" y1="338.47" x2="202.40" y2="338.47" stroke="#333" stroke-width="1.2"/>
<circle cx="143.44" cy="307.35" r="1.15" fill="#dedede" stroke="#7a7a7a" stroke-width="0.8"/>
<circle cx="143.44" cy="310.25" r="1.15" fill="#dedede" stroke="#7a7a7a" stroke-width="0.8"/>
<circle cx="140.99" cy="315.64" r="1.15" fill="#dedede" stroke="#7a7a7a" stroke-width="0.8"/>
<circle cx="143.44" cy="315.64" r="1.15" fill="#dedede" stroke="#7a7a7a" stroke-width="0.8"/>
<circle cx="145.89" cy="315.64" r="1.15" fill="#dedede" stroke="#7a7a7a" stroke-width="0.8"/>
<circle cx="143.44" cy="321.45" r="1.15" fill="#dedede" stroke="#7a7a7a" stroke-width="0.8"/>
<circle cx="143.44" cy="325.09" r="1.15" fill="#dedede" stroke="#7a7a7a" stroke-width="0.8"/>
<circle cx="143.44" cy="327.71" r="1.15" fill="#dedede" stroke="#7a7a7a" stroke-width="0.8"/>
<circle cx="159.73" cy="286.55" r="1.15" fill="#606060" stroke="#2b2b2b" stroke-width="0.8"/>
<circle cx="159.73" cy="290.91" r="1.15" fill="#606060" stroke="#2b2b2b" stroke-width="0.8"/>
<circle cx="158.50" cy="293.82" r="1.15" fill="#606060" stroke="#2b2b2b" stroke-width="0.8"/>
<circle cx="160.95" cy="293.82" r="1.15" fill="#606060" stroke="#2b2b2b" stroke-width="0.8"/>
<circle cx="158.50" cy="295.27" r="1.15" fill="#606060" stroke="#2b2b2b" stroke-width="0.8"/>
<circle cx="160.95" cy="295.27" r="1.15" fill="#606060" stroke="#2b2b2b" stroke-width="0.8"/>
<circle cx="158.50" cy="297.75" r="1.15" fill="#606060" stroke="#2b2b2b" stroke-width="0.8"/>
<circle cx="160.95" cy="297.75" r="1.15" fill="#606060" stroke="#2b2b2b" stroke-width="0.8"/>
<circle cx="158.50" cy="299.64" r="1.15" fill="#606060" stroke="#2b2b2b" stroke-width="0.8"/>
<circle cx="160.95" cy="299.64" r="1.15" fill="#606060" stroke="#2b2b2b" stroke-width="0.8"/>
<circle cx="158.50" cy="301.09" r="1.15" fill="#606060" stroke="#2b2b2b" stroke-width="0.8"/>
<circle cx="160.95" cy="301.09" r="1.15" fill="#606060" stroke="#2b2b2b" stroke-width="0.8"/>
<circle cx="176.45" cy="297.75" r="1.15" fill="#efc8ef" stroke="#c65fc6" stroke-width="0.8"/>
<circle cx="176.45" cy="300.07" r="1.15" fill="#efc8ef" stroke="#c65fc6" stroke-width="0.8"/>
<circle cx="176.45" cy="303.27" r="1.15" fill="#efc8ef" stroke="#c65fc6" stroke-width="0.8"/>
<circle cx="176.45" cy="305.45" r="1.15" fill="#efc8ef" stroke="#c65fc6" stroke-width="0.8"/>
<circle cx="176.45" cy="311.27" r="1.15" fill="#efc8ef" stroke="#c65fc6" stroke-width="0.8"/>
<circle cx="175.23" cy="315.20" r="1.15" fill="#efc8ef" stroke="#c65fc6" stroke-width="0.8"/>
<circle cx="177.68" cy="315.20" r="1.15" fill="#efc8ef" stroke="#c65fc6" stroke-width="0.8"/>
<circle cx="176.45" cy="320.44" r="1.15" fill="#efc8ef" stroke="#c65fc6" stroke-width="0.8"/>
<circle cx="176.45" cy="334.55" r="1.15" fill="#efc8ef" stroke="#c65fc6" stroke-width="0.8"/>
<circle cx="192.75" cy="273.89" r="1.15" fill="#f7b9bc" stroke="#e8343c" stroke-width="0.8"/>
<circle cx="191.52" cy="285.09" r="1.15" fill="#f7b9bc" stroke="#e8343c" stroke-width="0.8"/>
<circle cx="193.97" cy="285.09" r="1.15" fill="#f7b9bc" stroke="#e8343c" stroke-width="0.8"/>
<circle cx="192.75" cy="288.44" r="1.15" fill="#f7b9bc" stroke="#e8343c" stroke-width="0.8"/>
<circle cx="191.52" cy="291.93" r="1.15" fill="#f7b9bc" stroke="#e8343c" stroke-width="0.8"/>
<circle cx="193.97" cy="291.93" r="1.15" fill="#f7b9bc" stroke="#e8343c" stroke-width="0.8"/>
<circle cx="192.75" cy="296.29" r="1.15" fill="#f7b9bc" stroke="#e8343c" stroke-width="0.8"/>
<circle cx="190.30" cy="298.91" r="1.15" fill="#f7b9bc" stroke="#e8343c" stroke-width="0.8"/>
<circle cx="192.75" cy="298.91" r="1.15" fill="#f7b9bc" stroke="#e8343c" stroke-width="0.8"/>
<circle cx="195.20" cy="298.91" r="1.15" fill="#f7b9bc" stroke="#e8343c" stroke-width="0.8"/>
<circle cx="191.52" cy="301.53" r="1.15" fill="#f7b9bc" stroke="#e8343c" stroke-width="0.8"/>
<circle cx="193.97" cy="301.53" r="1.15" fill="#f7b9bc" stroke="#e8343c" stroke-width="0.8"/>
<text x="0" y="0" transform="translate(253.80,267.30) scale(1,1.07)" font-size="9.2" text-anchor="middle" fill="#231f20" stroke="#231f20" stroke-width="0.14" font-style="italic">NFKBIA</text>
<text x="0" y="0" transform="translate(218.25,275.46) scale(1,1.07)" font-size="5.5" text-anchor="end" fill="#444" stroke="#444" stroke-width="0.14">11.5</text>
<line x1="219.55" y1="273.89" x2="221.45" y2="273.89" stroke="#333" stroke-width="0.7"/>
<text x="0" y="0" transform="translate(218.25,289.57) scale(1,1.07)" font-size="5.5" text-anchor="end" fill="#444" stroke="#444" stroke-width="0.14">11.0</text>
<line x1="219.55" y1="288.00" x2="221.45" y2="288.00" stroke="#333" stroke-width="0.7"/>
<text x="0" y="0" transform="translate(218.25,304.11) scale(1,1.07)" font-size="5.5" text-anchor="end" fill="#444" stroke="#444" stroke-width="0.14">10.5</text>
<line x1="219.55" y1="302.55" x2="221.45" y2="302.55" stroke="#333" stroke-width="0.7"/>
<text x="0" y="0" transform="translate(218.25,317.93) scale(1,1.07)" font-size="5.5" text-anchor="end" fill="#444" stroke="#444" stroke-width="0.14">10.0</text>
<line x1="219.55" y1="316.36" x2="221.45" y2="316.36" stroke="#333" stroke-width="0.7"/>
<text x="0" y="0" transform="translate(218.25,332.19) scale(1,1.07)" font-size="5.5" text-anchor="end" fill="#444" stroke="#444" stroke-width="0.14">9.5</text>
<line x1="219.55" y1="330.62" x2="221.45" y2="330.62" stroke="#333" stroke-width="0.7"/>
<line x1="221.45" y1="269.09" x2="221.45" y2="337.45" stroke="#333" stroke-width="1.2"/>
<line x1="220.85" y1="337.45" x2="287.00" y2="337.45" stroke="#333" stroke-width="1.2"/>
<circle cx="230.91" cy="318.55" r="1.15" fill="#dedede" stroke="#7a7a7a" stroke-width="0.8"/>
<circle cx="229.68" cy="320.73" r="1.15" fill="#dedede" stroke="#7a7a7a" stroke-width="0.8"/>
<circle cx="232.13" cy="320.73" r="1.15" fill="#dedede" stroke="#7a7a7a" stroke-width="0.8"/>
<circle cx="230.91" cy="329.16" r="1.15" fill="#dedede" stroke="#7a7a7a" stroke-width="0.8"/>
<circle cx="229.68" cy="331.64" r="1.15" fill="#dedede" stroke="#7a7a7a" stroke-width="0.8"/>
<circle cx="232.13" cy="331.64" r="1.15" fill="#dedede" stroke="#7a7a7a" stroke-width="0.8"/>
<circle cx="228.46" cy="333.09" r="1.15" fill="#dedede" stroke="#7a7a7a" stroke-width="0.8"/>
<circle cx="230.91" cy="333.09" r="1.15" fill="#dedede" stroke="#7a7a7a" stroke-width="0.8"/>
<circle cx="233.36" cy="333.09" r="1.15" fill="#dedede" stroke="#7a7a7a" stroke-width="0.8"/>
<circle cx="246.91" cy="280.44" r="1.15" fill="#606060" stroke="#2b2b2b" stroke-width="0.8"/>
<circle cx="245.68" cy="293.09" r="1.15" fill="#606060" stroke="#2b2b2b" stroke-width="0.8"/>
<circle cx="248.13" cy="293.09" r="1.15" fill="#606060" stroke="#2b2b2b" stroke-width="0.8"/>
<circle cx="246.91" cy="307.35" r="1.15" fill="#606060" stroke="#2b2b2b" stroke-width="0.8"/>
<circle cx="245.68" cy="309.09" r="1.15" fill="#606060" stroke="#2b2b2b" stroke-width="0.8"/>
<circle cx="248.13" cy="309.09" r="1.15" fill="#606060" stroke="#2b2b2b" stroke-width="0.8"/>
<circle cx="244.46" cy="310.55" r="1.15" fill="#606060" stroke="#2b2b2b" stroke-width="0.8"/>
<circle cx="246.91" cy="310.55" r="1.15" fill="#606060" stroke="#2b2b2b" stroke-width="0.8"/>
<circle cx="249.36" cy="310.55" r="1.15" fill="#606060" stroke="#2b2b2b" stroke-width="0.8"/>
<circle cx="246.91" cy="312.73" r="1.15" fill="#606060" stroke="#2b2b2b" stroke-width="0.8"/>
<circle cx="246.91" cy="314.62" r="1.15" fill="#606060" stroke="#2b2b2b" stroke-width="0.8"/>
<circle cx="246.91" cy="316.36" r="1.15" fill="#606060" stroke="#2b2b2b" stroke-width="0.8"/>
<circle cx="261.97" cy="299.64" r="1.15" fill="#efc8ef" stroke="#c65fc6" stroke-width="0.8"/>
<circle cx="264.43" cy="299.64" r="1.15" fill="#efc8ef" stroke="#c65fc6" stroke-width="0.8"/>
<circle cx="260.75" cy="312.73" r="1.15" fill="#efc8ef" stroke="#c65fc6" stroke-width="0.8"/>
<circle cx="263.20" cy="312.73" r="1.15" fill="#efc8ef" stroke="#c65fc6" stroke-width="0.8"/>
<circle cx="265.65" cy="312.73" r="1.15" fill="#efc8ef" stroke="#c65fc6" stroke-width="0.8"/>
<circle cx="263.20" cy="316.07" r="1.15" fill="#efc8ef" stroke="#c65fc6" stroke-width="0.8"/>
<circle cx="261.97" cy="321.02" r="1.15" fill="#efc8ef" stroke="#c65fc6" stroke-width="0.8"/>
<circle cx="264.43" cy="321.02" r="1.15" fill="#efc8ef" stroke="#c65fc6" stroke-width="0.8"/>
<circle cx="263.20" cy="326.55" r="1.15" fill="#efc8ef" stroke="#c65fc6" stroke-width="0.8"/>
<circle cx="279.20" cy="272.44" r="1.15" fill="#f7b9bc" stroke="#e8343c" stroke-width="0.8"/>
<circle cx="279.20" cy="279.27" r="1.15" fill="#f7b9bc" stroke="#e8343c" stroke-width="0.8"/>
<circle cx="279.20" cy="288.00" r="1.15" fill="#f7b9bc" stroke="#e8343c" stroke-width="0.8"/>
<circle cx="276.75" cy="291.64" r="1.15" fill="#f7b9bc" stroke="#e8343c" stroke-width="0.8"/>
<circle cx="279.20" cy="291.64" r="1.15" fill="#f7b9bc" stroke="#e8343c" stroke-width="0.8"/>
<circle cx="281.65" cy="291.64" r="1.15" fill="#f7b9bc" stroke="#e8343c" stroke-width="0.8"/>
<circle cx="279.20" cy="294.84" r="1.15" fill="#f7b9bc" stroke="#e8343c" stroke-width="0.8"/>
<circle cx="277.97" cy="305.89" r="1.15" fill="#f7b9bc" stroke="#e8343c" stroke-width="0.8"/>
<circle cx="280.43" cy="305.89" r="1.15" fill="#f7b9bc" stroke="#e8343c" stroke-width="0.8"/>
<circle cx="279.20" cy="310.55" r="1.15" fill="#f7b9bc" stroke="#e8343c" stroke-width="0.8"/>
<circle cx="279.20" cy="314.18" r="1.15" fill="#f7b9bc" stroke="#e8343c" stroke-width="0.8"/>
<circle cx="279.20" cy="333.09" r="1.15" fill="#f7b9bc" stroke="#e8343c" stroke-width="0.8"/>
<text x="0" y="0" transform="translate(339.50,267.30) scale(1,1.07)" font-size="9.2" text-anchor="middle" fill="#231f20" stroke="#231f20" stroke-width="0.14" font-style="italic">PTGS2</text>
<text x="0" y="0" transform="translate(300.35,273.13) scale(1,1.07)" font-size="5.5" text-anchor="end" fill="#444" stroke="#444" stroke-width="0.14">11</text>
<line x1="301.65" y1="271.56" x2="303.55" y2="271.56" stroke="#333" stroke-width="0.7"/>
<text x="0" y="0" transform="translate(300.35,284.04) scale(1,1.07)" font-size="5.5" text-anchor="end" fill="#444" stroke="#444" stroke-width="0.14">10</text>
<line x1="301.65" y1="282.47" x2="303.55" y2="282.47" stroke="#333" stroke-width="0.7"/>
<text x="0" y="0" transform="translate(300.35,294.66) scale(1,1.07)" font-size="5.5" text-anchor="end" fill="#444" stroke="#444" stroke-width="0.14">9</text>
<line x1="301.65" y1="293.09" x2="303.55" y2="293.09" stroke="#333" stroke-width="0.7"/>
<text x="0" y="0" transform="translate(300.35,305.28) scale(1,1.07)" font-size="5.5" text-anchor="end" fill="#444" stroke="#444" stroke-width="0.14">8</text>
<line x1="301.65" y1="303.71" x2="303.55" y2="303.71" stroke="#333" stroke-width="0.7"/>
<text x="0" y="0" transform="translate(300.35,316.04) scale(1,1.07)" font-size="5.5" text-anchor="end" fill="#444" stroke="#444" stroke-width="0.14">7</text>
<line x1="301.65" y1="314.47" x2="303.55" y2="314.47" stroke="#333" stroke-width="0.7"/>
<text x="0" y="0" transform="translate(300.35,326.66) scale(1,1.07)" font-size="5.5" text-anchor="end" fill="#444" stroke="#444" stroke-width="0.14">6</text>
<line x1="301.65" y1="325.09" x2="303.55" y2="325.09" stroke="#333" stroke-width="0.7"/>
<text x="0" y="0" transform="translate(300.35,337.28) scale(1,1.07)" font-size="5.5" text-anchor="end" fill="#444" stroke="#444" stroke-width="0.14">5</text>
<line x1="301.65" y1="335.71" x2="303.55" y2="335.71" stroke="#333" stroke-width="0.7"/>
<line x1="303.55" y1="271.27" x2="303.55" y2="339.93" stroke="#333" stroke-width="1.2"/>
<line x1="302.95" y1="339.93" x2="372.30" y2="339.93" stroke="#333" stroke-width="1.2"/>
<circle cx="313.29" cy="314.47" r="1.15" fill="#dedede" stroke="#7a7a7a" stroke-width="0.8"/>
<circle cx="313.29" cy="323.93" r="1.15" fill="#dedede" stroke="#7a7a7a" stroke-width="0.8"/>
<circle cx="312.07" cy="326.25" r="1.15" fill="#dedede" stroke="#7a7a7a" stroke-width="0.8"/>
<circle cx="314.52" cy="326.25" r="1.15" fill="#dedede" stroke="#7a7a7a" stroke-width="0.8"/>
<circle cx="312.07" cy="328.00" r="1.15" fill="#dedede" stroke="#7a7a7a" stroke-width="0.8"/>
<circle cx="314.52" cy="328.00" r="1.15" fill="#dedede" stroke="#7a7a7a" stroke-width="0.8"/>
<circle cx="310.84" cy="329.45" r="1.15" fill="#dedede" stroke="#7a7a7a" stroke-width="0.8"/>
<circle cx="313.29" cy="329.45" r="1.15" fill="#dedede" stroke="#7a7a7a" stroke-width="0.8"/>
<circle cx="315.74" cy="329.45" r="1.15" fill="#dedede" stroke="#7a7a7a" stroke-width="0.8"/>
<circle cx="313.29" cy="334.55" r="1.15" fill="#dedede" stroke="#7a7a7a" stroke-width="0.8"/>
<circle cx="328.50" cy="293.09" r="1.15" fill="#606060" stroke="#2b2b2b" stroke-width="0.8"/>
<circle cx="330.95" cy="293.09" r="1.15" fill="#606060" stroke="#2b2b2b" stroke-width="0.8"/>
<circle cx="329.73" cy="298.91" r="1.15" fill="#606060" stroke="#2b2b2b" stroke-width="0.8"/>
<circle cx="328.50" cy="302.98" r="1.15" fill="#606060" stroke="#2b2b2b" stroke-width="0.8"/>
<circle cx="330.95" cy="302.98" r="1.15" fill="#606060" stroke="#2b2b2b" stroke-width="0.8"/>
<circle cx="328.50" cy="305.45" r="1.15" fill="#606060" stroke="#2b2b2b" stroke-width="0.8"/>
<circle cx="330.95" cy="305.45" r="1.15" fill="#606060" stroke="#2b2b2b" stroke-width="0.8"/>
<circle cx="328.50" cy="307.64" r="1.15" fill="#606060" stroke="#2b2b2b" stroke-width="0.8"/>
<circle cx="330.95" cy="307.64" r="1.15" fill="#606060" stroke="#2b2b2b" stroke-width="0.8"/>
<circle cx="346.16" cy="313.75" r="1.15" fill="#efc8ef" stroke="#c65fc6" stroke-width="0.8"/>
<circle cx="344.94" cy="315.20" r="1.15" fill="#efc8ef" stroke="#c65fc6" stroke-width="0.8"/>
<circle cx="347.39" cy="315.20" r="1.15" fill="#efc8ef" stroke="#c65fc6" stroke-width="0.8"/>
<circle cx="346.16" cy="319.27" r="1.15" fill="#efc8ef" stroke="#c65fc6" stroke-width="0.8"/>
<circle cx="346.16" cy="326.84" r="1.15" fill="#efc8ef" stroke="#c65fc6" stroke-width="0.8"/>
<circle cx="346.16" cy="334.55" r="1.15" fill="#efc8ef" stroke="#c65fc6" stroke-width="0.8"/>
<circle cx="343.71" cy="336.00" r="1.15" fill="#efc8ef" stroke="#c65fc6" stroke-width="0.8"/>
<circle cx="346.16" cy="336.00" r="1.15" fill="#efc8ef" stroke="#c65fc6" stroke-width="0.8"/>
<circle cx="348.61" cy="336.00" r="1.15" fill="#efc8ef" stroke="#c65fc6" stroke-width="0.8"/>
<circle cx="362.45" cy="275.35" r="1.15" fill="#f7b9bc" stroke="#e8343c" stroke-width="0.8"/>
<circle cx="361.23" cy="292.36" r="1.15" fill="#f7b9bc" stroke="#e8343c" stroke-width="0.8"/>
<circle cx="363.68" cy="292.36" r="1.15" fill="#f7b9bc" stroke="#e8343c" stroke-width="0.8"/>
<circle cx="362.45" cy="297.45" r="1.15" fill="#f7b9bc" stroke="#e8343c" stroke-width="0.8"/>
<circle cx="361.23" cy="307.35" r="1.15" fill="#f7b9bc" stroke="#e8343c" stroke-width="0.8"/>
<circle cx="363.68" cy="307.35" r="1.15" fill="#f7b9bc" stroke="#e8343c" stroke-width="0.8"/>
<circle cx="360.00" cy="309.09" r="1.15" fill="#f7b9bc" stroke="#e8343c" stroke-width="0.8"/>
<circle cx="362.45" cy="309.09" r="1.15" fill="#f7b9bc" stroke="#e8343c" stroke-width="0.8"/>
<circle cx="364.90" cy="309.09" r="1.15" fill="#f7b9bc" stroke="#e8343c" stroke-width="0.8"/>
<circle cx="361.23" cy="310.25" r="1.15" fill="#f7b9bc" stroke="#e8343c" stroke-width="0.8"/>
<circle cx="363.68" cy="310.25" r="1.15" fill="#f7b9bc" stroke="#e8343c" stroke-width="0.8"/>
<circle cx="361.23" cy="313.45" r="1.15" fill="#f7b9bc" stroke="#e8343c" stroke-width="0.8"/>
<circle cx="363.68" cy="313.45" r="1.15" fill="#f7b9bc" stroke="#e8343c" stroke-width="0.8"/>
<circle cx="362.45" cy="321.45" r="1.15" fill="#f7b9bc" stroke="#e8343c" stroke-width="0.8"/>
<text x="0" y="0" transform="translate(425.50,267.30) scale(1,1.07)" font-size="9.2" text-anchor="middle" fill="#231f20" stroke="#231f20" stroke-width="0.14" font-style="italic">IL1B</text>
<text x="0" y="0" transform="translate(384.62,288.11) scale(1,1.07)" font-size="5.5" text-anchor="end" fill="#444" stroke="#444" stroke-width="0.14">10</text>
<line x1="385.92" y1="286.55" x2="387.82" y2="286.55" stroke="#333" stroke-width="0.7"/>
<text x="0" y="0" transform="translate(384.62,308.04) scale(1,1.07)" font-size="5.5" text-anchor="end" fill="#444" stroke="#444" stroke-width="0.14">8</text>
<line x1="385.92" y1="306.47" x2="387.82" y2="306.47" stroke="#333" stroke-width="0.7"/>
<text x="0" y="0" transform="translate(384.62,328.11) scale(1,1.07)" font-size="5.5" text-anchor="end" fill="#444" stroke="#444" stroke-width="0.14">6</text>
<line x1="385.92" y1="326.55" x2="387.82" y2="326.55" stroke="#333" stroke-width="0.7"/>
<line x1="387.82" y1="269.09" x2="387.82" y2="337.45" stroke="#333" stroke-width="1.2"/>
<line x1="387.22" y1="337.45" x2="457.00" y2="337.45" stroke="#333" stroke-width="1.2"/>
<circle cx="389.92" cy="328.29" r="1.15" fill="#dedede" stroke="#7a7a7a" stroke-width="0.8"/>
<circle cx="392.37" cy="328.29" r="1.15" fill="#dedede" stroke="#7a7a7a" stroke-width="0.8"/>
<circle cx="394.82" cy="328.29" r="1.15" fill="#dedede" stroke="#7a7a7a" stroke-width="0.8"/>
<circle cx="397.27" cy="328.29" r="1.15" fill="#dedede" stroke="#7a7a7a" stroke-width="0.8"/>
<circle cx="399.72" cy="328.29" r="1.15" fill="#dedede" stroke="#7a7a7a" stroke-width="0.8"/>
<circle cx="402.17" cy="328.29" r="1.15" fill="#dedede" stroke="#7a7a7a" stroke-width="0.8"/>
<circle cx="404.62" cy="328.29" r="1.15" fill="#dedede" stroke="#7a7a7a" stroke-width="0.8"/>
<circle cx="397.27" cy="333.38" r="1.15" fill="#dedede" stroke="#7a7a7a" stroke-width="0.8"/>
<circle cx="414.00" cy="284.36" r="1.15" fill="#606060" stroke="#2b2b2b" stroke-width="0.8"/>
<circle cx="414.00" cy="291.93" r="1.15" fill="#606060" stroke="#2b2b2b" stroke-width="0.8"/>
<circle cx="411.55" cy="300.07" r="1.15" fill="#606060" stroke="#2b2b2b" stroke-width="0.8"/>
<circle cx="414.00" cy="300.07" r="1.15" fill="#606060" stroke="#2b2b2b" stroke-width="0.8"/>
<circle cx="416.45" cy="300.07" r="1.15" fill="#606060" stroke="#2b2b2b" stroke-width="0.8"/>
<circle cx="414.00" cy="305.45" r="1.15" fill="#606060" stroke="#2b2b2b" stroke-width="0.8"/>
<circle cx="414.00" cy="312.29" r="1.15" fill="#606060" stroke="#2b2b2b" stroke-width="0.8"/>
<circle cx="414.00" cy="321.89" r="1.15" fill="#606060" stroke="#2b2b2b" stroke-width="0.8"/>
<circle cx="414.00" cy="326.98" r="1.15" fill="#606060" stroke="#2b2b2b" stroke-width="0.8"/>
<circle cx="425.10" cy="328.00" r="1.15" fill="#efc8ef" stroke="#c65fc6" stroke-width="0.8"/>
<circle cx="427.55" cy="328.00" r="1.15" fill="#efc8ef" stroke="#c65fc6" stroke-width="0.8"/>
<circle cx="430.00" cy="328.00" r="1.15" fill="#efc8ef" stroke="#c65fc6" stroke-width="0.8"/>
<circle cx="432.45" cy="328.00" r="1.15" fill="#efc8ef" stroke="#c65fc6" stroke-width="0.8"/>
<circle cx="434.90" cy="328.00" r="1.15" fill="#efc8ef" stroke="#c65fc6" stroke-width="0.8"/>
<circle cx="426.32" cy="329.75" r="1.15" fill="#efc8ef" stroke="#c65fc6" stroke-width="0.8"/>
<circle cx="428.77" cy="329.75" r="1.15" fill="#efc8ef" stroke="#c65fc6" stroke-width="0.8"/>
<circle cx="431.23" cy="329.75" r="1.15" fill="#efc8ef" stroke="#c65fc6" stroke-width="0.8"/>
<circle cx="433.68" cy="329.75" r="1.15" fill="#efc8ef" stroke="#c65fc6" stroke-width="0.8"/>
<circle cx="427.55" cy="331.20" r="1.15" fill="#efc8ef" stroke="#c65fc6" stroke-width="0.8"/>
<circle cx="430.00" cy="331.20" r="1.15" fill="#efc8ef" stroke="#c65fc6" stroke-width="0.8"/>
<circle cx="432.45" cy="331.20" r="1.15" fill="#efc8ef" stroke="#c65fc6" stroke-width="0.8"/>
<circle cx="445.21" cy="272.44" r="1.15" fill="#f7b9bc" stroke="#e8343c" stroke-width="0.8"/>
<circle cx="447.66" cy="272.44" r="1.15" fill="#f7b9bc" stroke="#e8343c" stroke-width="0.8"/>
<circle cx="445.21" cy="293.82" r="1.15" fill="#f7b9bc" stroke="#e8343c" stroke-width="0.8"/>
<circle cx="447.66" cy="293.82" r="1.15" fill="#f7b9bc" stroke="#e8343c" stroke-width="0.8"/>
<circle cx="446.44" cy="302.25" r="1.15" fill="#f7b9bc" stroke="#e8343c" stroke-width="0.8"/>
<circle cx="446.44" cy="306.18" r="1.15" fill="#f7b9bc" stroke="#e8343c" stroke-width="0.8"/>
<circle cx="445.21" cy="315.64" r="1.15" fill="#f7b9bc" stroke="#e8343c" stroke-width="0.8"/>
<circle cx="447.66" cy="315.64" r="1.15" fill="#f7b9bc" stroke="#e8343c" stroke-width="0.8"/>
<circle cx="445.21" cy="323.35" r="1.15" fill="#f7b9bc" stroke="#e8343c" stroke-width="0.8"/>
<circle cx="447.66" cy="323.35" r="1.15" fill="#f7b9bc" stroke="#e8343c" stroke-width="0.8"/>
<circle cx="446.44" cy="325.09" r="1.15" fill="#f7b9bc" stroke="#e8343c" stroke-width="0.8"/>
<circle cx="446.44" cy="326.84" r="1.15" fill="#f7b9bc" stroke="#e8343c" stroke-width="0.8"/>
<circle cx="446.44" cy="328.73" r="1.15" fill="#f7b9bc" stroke="#e8343c" stroke-width="0.8"/>
<text x="0" y="0" transform="translate(511.40,267.30) scale(1,1.07)" font-size="9.2" text-anchor="middle" fill="#231f20" stroke="#231f20" stroke-width="0.14" font-style="italic">TNF</text>
<text x="0" y="0" transform="translate(472.53,285.64) scale(1,1.07)" font-size="5.5" text-anchor="end" fill="#444" stroke="#444" stroke-width="0.14">5.50</text>
<line x1="473.83" y1="284.07" x2="475.73" y2="284.07" stroke="#333" stroke-width="0.7"/>
<text x="0" y="0" transform="translate(472.53,302.66) scale(1,1.07)" font-size="5.5" text-anchor="end" fill="#444" stroke="#444" stroke-width="0.14">5.25</text>
<line x1="473.83" y1="301.09" x2="475.73" y2="301.09" stroke="#333" stroke-width="0.7"/>
<text x="0" y="0" transform="translate(472.53,320.11) scale(1,1.07)" font-size="5.5" text-anchor="end" fill="#444" stroke="#444" stroke-width="0.14">5.00</text>
<line x1="473.83" y1="318.55" x2="475.73" y2="318.55" stroke="#333" stroke-width="0.7"/>
<text x="0" y="0" transform="translate(472.53,337.28) scale(1,1.07)" font-size="5.5" text-anchor="end" fill="#444" stroke="#444" stroke-width="0.14">4.75</text>
<line x1="473.83" y1="335.71" x2="475.73" y2="335.71" stroke="#333" stroke-width="0.7"/>
<line x1="475.73" y1="269.09" x2="475.73" y2="337.45" stroke="#333" stroke-width="1.2"/>
<line x1="475.13" y1="337.45" x2="542.70" y2="337.45" stroke="#333" stroke-width="1.2"/>
<circle cx="483.96" cy="284.36" r="1.15" fill="#dedede" stroke="#7a7a7a" stroke-width="0.8"/>
<circle cx="486.41" cy="284.36" r="1.15" fill="#dedede" stroke="#7a7a7a" stroke-width="0.8"/>
<circle cx="485.18" cy="290.91" r="1.15" fill="#dedede" stroke="#7a7a7a" stroke-width="0.8"/>
<circle cx="482.73" cy="294.25" r="1.15" fill="#dedede" stroke="#7a7a7a" stroke-width="0.8"/>
<circle cx="485.18" cy="294.25" r="1.15" fill="#dedede" stroke="#7a7a7a" stroke-width="0.8"/>
<circle cx="487.63" cy="294.25" r="1.15" fill="#dedede" stroke="#7a7a7a" stroke-width="0.8"/>
<circle cx="485.18" cy="309.82" r="1.15" fill="#dedede" stroke="#7a7a7a" stroke-width="0.8"/>
<circle cx="485.18" cy="333.38" r="1.15" fill="#dedede" stroke="#7a7a7a" stroke-width="0.8"/>
<circle cx="501.47" cy="279.71" r="1.15" fill="#606060" stroke="#2b2b2b" stroke-width="0.8"/>
<circle cx="499.02" cy="291.64" r="1.15" fill="#606060" stroke="#2b2b2b" stroke-width="0.8"/>
<circle cx="501.47" cy="291.64" r="1.15" fill="#606060" stroke="#2b2b2b" stroke-width="0.8"/>
<circle cx="503.92" cy="291.64" r="1.15" fill="#606060" stroke="#2b2b2b" stroke-width="0.8"/>
<circle cx="501.47" cy="304.73" r="1.15" fill="#606060" stroke="#2b2b2b" stroke-width="0.8"/>
<circle cx="500.25" cy="308.36" r="1.15" fill="#606060" stroke="#2b2b2b" stroke-width="0.8"/>
<circle cx="502.70" cy="308.36" r="1.15" fill="#606060" stroke="#2b2b2b" stroke-width="0.8"/>
<circle cx="501.47" cy="316.36" r="1.15" fill="#606060" stroke="#2b2b2b" stroke-width="0.8"/>
<circle cx="517.47" cy="278.25" r="1.15" fill="#efc8ef" stroke="#c65fc6" stroke-width="0.8"/>
<circle cx="517.47" cy="288.00" r="1.15" fill="#efc8ef" stroke="#c65fc6" stroke-width="0.8"/>
<circle cx="517.47" cy="294.55" r="1.15" fill="#efc8ef" stroke="#c65fc6" stroke-width="0.8"/>
<circle cx="515.02" cy="298.47" r="1.15" fill="#efc8ef" stroke="#c65fc6" stroke-width="0.8"/>
<circle cx="517.47" cy="298.47" r="1.15" fill="#efc8ef" stroke="#c65fc6" stroke-width="0.8"/>
<circle cx="519.92" cy="298.47" r="1.15" fill="#efc8ef" stroke="#c65fc6" stroke-width="0.8"/>
<circle cx="517.47" cy="304.00" r="1.15" fill="#efc8ef" stroke="#c65fc6" stroke-width="0.8"/>
<circle cx="517.47" cy="314.62" r="1.15" fill="#efc8ef" stroke="#c65fc6" stroke-width="0.8"/>
<circle cx="517.47" cy="328.73" r="1.15" fill="#efc8ef" stroke="#c65fc6" stroke-width="0.8"/>
<circle cx="533.47" cy="272.44" r="1.15" fill="#f7b9bc" stroke="#e8343c" stroke-width="0.8"/>
<circle cx="533.47" cy="276.80" r="1.15" fill="#f7b9bc" stroke="#e8343c" stroke-width="0.8"/>
<circle cx="532.25" cy="283.35" r="1.15" fill="#f7b9bc" stroke="#e8343c" stroke-width="0.8"/>
<circle cx="534.70" cy="283.35" r="1.15" fill="#f7b9bc" stroke="#e8343c" stroke-width="0.8"/>
<circle cx="533.47" cy="289.02" r="1.15" fill="#f7b9bc" stroke="#e8343c" stroke-width="0.8"/>
<circle cx="531.02" cy="294.84" r="1.15" fill="#f7b9bc" stroke="#e8343c" stroke-width="0.8"/>
<circle cx="533.47" cy="294.84" r="1.15" fill="#f7b9bc" stroke="#e8343c" stroke-width="0.8"/>
<circle cx="535.92" cy="294.84" r="1.15" fill="#f7b9bc" stroke="#e8343c" stroke-width="0.8"/>
<circle cx="533.47" cy="298.91" r="1.15" fill="#f7b9bc" stroke="#e8343c" stroke-width="0.8"/>
<circle cx="532.25" cy="305.45" r="1.15" fill="#f7b9bc" stroke="#e8343c" stroke-width="0.8"/>
<circle cx="534.70" cy="305.45" r="1.15" fill="#f7b9bc" stroke="#e8343c" stroke-width="0.8"/>
<circle cx="533.47" cy="313.16" r="1.15" fill="#f7b9bc" stroke="#e8343c" stroke-width="0.8"/>
<text x="0" y="0" transform="translate(30.40,241.40) rotate(-90) scale(1,1.07)" font-size="9.3" text-anchor="middle" fill="#231f20" stroke="#231f20" stroke-width="0.14">Expression (Log<tspan font-size="0.55em" dy="0.3em">2</tspan>)</text>
<circle cx="47.80" cy="348.00" r="1.2" fill="#7a7a7a" stroke="none" stroke-width="0"/>
<text x="0" y="0" transform="translate(50.90,350.61) scale(1,1.07)" font-size="7.3" text-anchor="start" fill="#231f20" stroke="#231f20" stroke-width="0.14">HD MSC in monoculture</text>
<circle cx="138.30" cy="348.00" r="1.2" fill="#2b2b2b" stroke="none" stroke-width="0"/>
<text x="0" y="0" transform="translate(144.50,350.61) scale(1,1.07)" font-size="7.3" text-anchor="start" fill="#231f20" stroke="#231f20" stroke-width="0.14">HD MSC cocultured with MM.1S</text>
<circle cx="258.30" cy="348.00" r="1.2" fill="#c65fc6" stroke="none" stroke-width="0"/>
<text x="0" y="0" transform="translate(261.60,350.61) scale(1,1.07)" font-size="7.3" text-anchor="start" fill="#231f20" stroke="#231f20" stroke-width="0.14">MM MSC in monoculture</text>
<circle cx="351.60" cy="348.00" r="1.2" fill="#e8343c" stroke="none" stroke-width="0"/>
<text x="0" y="0" transform="translate(354.90,350.61) scale(1,1.07)" font-size="7.3" text-anchor="start" fill="#231f20" stroke="#231f20" stroke-width="0.14">MMMSC cocultured with MM.1S</text>
<line x1="51.60" y1="400.80" x2="207.00" y2="400.80" stroke="#d9d9d9" stroke-width="0.7"/>
<text x="0" y="0" transform="translate(48.90,403.38) scale(1,1.07)" font-size="7.2" text-anchor="end" fill="#3a3a3a" stroke="#3a3a3a" stroke-width="0.14">0.6</text>
<line x1="51.60" y1="427.00" x2="207.00" y2="427.00" stroke="#d9d9d9" stroke-width="0.7"/>
<text x="0" y="0" transform="translate(48.90,429.58) scale(1,1.07)" font-size="7.2" text-anchor="end" fill="#3a3a3a" stroke="#3a3a3a" stroke-width="0.14">0.4</text>
<line x1="51.60" y1="453.20" x2="207.00" y2="453.20" stroke="#d9d9d9" stroke-width="0.7"/>
<text x="0" y="0" transform="translate(48.90,455.78) scale(1,1.07)" font-size="7.2" text-anchor="end" fill="#3a3a3a" stroke="#3a3a3a" stroke-width="0.14">0.2</text>
<line x1="51.60" y1="479.40" x2="207.00" y2="479.40" stroke="#d9d9d9" stroke-width="0.7"/>
<text x="0" y="0" transform="translate(48.90,481.98) scale(1,1.07)" font-size="7.2" text-anchor="end" fill="#3a3a3a" stroke="#3a3a3a" stroke-width="0.14">0</text>
<rect x="55.40" y="479.40" width="3.40" height="5.63" fill="#5B9BD5" stroke="none" stroke-width="0"/>
<rect x="58.80" y="479.40" width="3.40" height="0.00" fill="#ED7D31" stroke="none" stroke-width="0"/>
<text x="0" y="0" transform="translate(60.40,493.30) rotate(-61) scale(1,1.07)" font-size="7.35" text-anchor="end" fill="#333" stroke="#333" stroke-width="0.14">GSE129165;IFN-&#947;(50ng);1day</text>
<rect x="68.18" y="479.40" width="3.40" height="5.24" fill="#5B9BD5" stroke="none" stroke-width="0"/>
<rect x="71.58" y="479.40" width="3.40" height="5.89" fill="#ED7D31" stroke="none" stroke-width="0"/>
<text x="0" y="0" transform="translate(73.18,493.30) rotate(-61) scale(1,1.07)" font-size="7.35" text-anchor="end" fill="#333" stroke="#333" stroke-width="0.14">GSE77814;IFN-&#947;(6.5ng);2day</text>
<rect x="80.96" y="479.40" width="3.40" height="7.21" fill="#5B9BD5" stroke="none" stroke-width="0"/>
<rect x="84.36" y="479.40" width="3.40" height="8.38" fill="#ED7D31" stroke="none" stroke-width="0"/>
<text x="0" y="0" transform="translate(85.96,493.30) rotate(-61) scale(1,1.07)" font-size="7.35" text-anchor="end" fill="#333" stroke="#333" stroke-width="0.14">GSE77814;IFN-&#947;(65ng);2day</text>
<rect x="93.74" y="404.86" width="3.40" height="74.54" fill="#5B9BD5" stroke="none" stroke-width="0"/>
<rect x="97.14" y="396.08" width="3.40" height="83.32" fill="#ED7D31" stroke="none" stroke-width="0"/>
<text x="0" y="0" transform="translate(98.74,493.30) rotate(-61) scale(1,1.07)" font-size="7.35" text-anchor="end" fill="#333" stroke="#333" stroke-width="0.14">GSE77814;TNF-&#945;(15ng);2day</text>
<rect x="106.52" y="412.98" width="3.40" height="66.42" fill="#5B9BD5" stroke="none" stroke-width="0"/>
<rect x="109.92" y="406.56" width="3.40" height="72.84" fill="#ED7D31" stroke="none" stroke-width="0"/>
<text x="0" y="0" transform="translate(111.52,493.30) rotate(-61) scale(1,1.07)" font-size="7.35" text-anchor="end" fill="#333" stroke="#333" stroke-width="0.14">GSE77814;TNF-&#945;(1.5ng);2day</text>
<rect x="119.30" y="402.76" width="3.40" height="76.63" fill="#5B9BD5" stroke="none" stroke-width="0"/>
<rect x="122.70" y="389.53" width="3.40" height="89.87" fill="#ED7D31" stroke="none" stroke-width="0"/>
<text x="0" y="0" transform="translate(124.30,493.30) rotate(-61) scale(1,1.07)" font-size="7.35" text-anchor="end" fill="#333" stroke="#333" stroke-width="0.14">GSE129165;TNF-&#945;(50ng);1day</text>
<rect x="132.08" y="400.80" width="3.40" height="78.60" fill="#5B9BD5" stroke="none" stroke-width="0"/>
<rect x="135.48" y="390.32" width="3.40" height="89.08" fill="#ED7D31" stroke="none" stroke-width="0"/>
<text x="0" y="0" transform="translate(137.08,493.30) rotate(-61) scale(1,1.07)" font-size="7.35" text-anchor="end" fill="#333" stroke="#333" stroke-width="0.14">GSE129165;IL-1&#946;(80pg);1day</text>
<rect x="144.86" y="408.66" width="3.40" height="70.74" fill="#5B9BD5" stroke="none" stroke-width="0"/>
<rect x="148.26" y="403.42" width="3.40" height="75.98" fill="#ED7D31" stroke="none" stroke-width="0"/>
<text x="0" y="0" transform="translate(149.86,493.30) rotate(-61) scale(1,1.07)" font-size="7.35" text-anchor="end" fill="#333" stroke="#333" stroke-width="0.14">GSE161762;TNF-&#945;(50ng);14day</text>
<rect x="157.64" y="389.01" width="3.40" height="90.39" fill="#5B9BD5" stroke="none" stroke-width="0"/>
<rect x="161.04" y="385.60" width="3.40" height="93.80" fill="#ED7D31" stroke="none" stroke-width="0"/>
<text x="0" y="0" transform="translate(162.64,493.30) rotate(-61) scale(1,1.07)" font-size="7.35" text-anchor="end" fill="#333" stroke="#333" stroke-width="0.14">GSE161762;IL-1&#946;(0.5ng);14day</text>
<rect x="170.42" y="388.09" width="3.40" height="91.31" fill="#5B9BD5" stroke="none" stroke-width="0"/>
<rect x="173.82" y="386.13" width="3.40" height="93.27" fill="#ED7D31" stroke="none" stroke-width="0"/>
<text x="0" y="0" transform="translate(175.42,493.30) rotate(-61) scale(1,1.07)" font-size="7.35" text-anchor="end" fill="#333" stroke="#333" stroke-width="0.14">GSE161762;IL-1&#946;(0.5ng);2day</text>
<rect x="183.20" y="408.40" width="3.40" height="71.00" fill="#5B9BD5" stroke="none" stroke-width="0"/>
<rect x="186.60" y="403.42" width="3.40" height="75.98" fill="#ED7D31" stroke="none" stroke-width="0"/>
<text x="0" y="0" transform="translate(188.20,493.30) rotate(-61) scale(1,1.07)" font-size="7.35" text-anchor="end" fill="#333" stroke="#333" stroke-width="0.14">GSE161762;TNF-&#945;(50ng);2day</text>
<rect x="195.98" y="412.59" width="3.40" height="66.81" fill="#5B9BD5" stroke="none" stroke-width="0"/>
<rect x="199.38" y="407.74" width="3.40" height="71.66" fill="#ED7D31" stroke="none" stroke-width="0"/>
<text x="0" y="0" transform="translate(200.98,493.30) rotate(-61) scale(1,1.07)" font-size="7.35" text-anchor="end" fill="#333" stroke="#333" stroke-width="0.14">GSE33755;IL-1&#946;(25ng);1day</text>
<rect x="50.50" y="378.30" width="3.40" height="3.80" fill="#5B9BD5" stroke="none" stroke-width="0"/>
<rect x="50.50" y="388.20" width="3.40" height="3.80" fill="#ED7D31" stroke="none" stroke-width="0"/>
<text x="0" y="0" transform="translate(56.00,383.11) scale(1,1.07)" font-size="7.3" text-anchor="start" fill="#333" stroke="#333" stroke-width="0.14">MM.1S (MM MSC)</text>
<text x="0" y="0" transform="translate(56.00,392.91) scale(1,1.07)" font-size="7.3" text-anchor="start" fill="#333" stroke="#333" stroke-width="0.14">MM.1S (HD MSC)</text>
<text x="0" y="0" transform="translate(32.90,454.50) rotate(-90) scale(1,1.07)" font-size="9.15" text-anchor="middle" fill="#231f20" stroke="#231f20" stroke-width="0.14">Pearson Correlation Coefficient (r)</text>
<line x1="277.70" y1="383.20" x2="277.70" y2="460.90" stroke="#c9c9c9" stroke-width="0.9"/>
<line x1="251.20" y1="433.10" x2="329.30" y2="433.10" stroke="#c9c9c9" stroke-width="0.9"/>
<text x="0" y="0" transform="translate(276.50,384.26) scale(1,1.07)" font-size="6.6" text-anchor="end" fill="#333" stroke="#333" stroke-width="0.14">8</text>
<text x="0" y="0" transform="translate(276.50,396.96) scale(1,1.07)" font-size="6.6" text-anchor="end" fill="#333" stroke="#333" stroke-width="0.14">6</text>
<text x="0" y="0" transform="translate(276.50,409.56) scale(1,1.07)" font-size="6.6" text-anchor="end" fill="#333" stroke="#333" stroke-width="0.14">4</text>
<text x="0" y="0" transform="translate(276.50,422.16) scale(1,1.07)" font-size="6.6" text-anchor="end" fill="#333" stroke="#333" stroke-width="0.14">2</text>
<text x="0" y="0" transform="translate(276.50,449.06) scale(1,1.07)" font-size="6.6" text-anchor="end" fill="#333" stroke="#333" stroke-width="0.14">&#8722;2</text>
<text x="0" y="0" transform="translate(276.50,460.56) scale(1,1.07)" font-size="6.6" text-anchor="end" fill="#333" stroke="#333" stroke-width="0.14">&#8722;4</text>
<text x="0" y="0" transform="translate(254.00,440.36) scale(1,1.07)" font-size="6.6" text-anchor="middle" fill="#333" stroke="#333" stroke-width="0.14">&#8722;3</text>
<text x="0" y="0" transform="translate(287.20,440.36) scale(1,1.07)" font-size="6.6" text-anchor="middle" fill="#333" stroke="#333" stroke-width="0.14">1</text>
<text x="0" y="0" transform="translate(304.70,440.36) scale(1,1.07)" font-size="6.6" text-anchor="middle" fill="#333" stroke="#333" stroke-width="0.14">3</text>
<text x="0" y="0" transform="translate(321.90,440.36) scale(1,1.07)" font-size="6.6" text-anchor="middle" fill="#333" stroke="#333" stroke-width="0.14">5</text>
<circle cx="272.98" cy="430.55" r="1.3" fill="#4485d0" stroke="none" stroke-width="0"/>
<circle cx="284.56" cy="433.66" r="1.3" fill="#4485d0" stroke="none" stroke-width="0"/>
<circle cx="272.43" cy="432.09" r="1.3" fill="#4485d0" stroke="none" stroke-width="0"/>
<circle cx="281.87" cy="428.03" r="1.3" fill="#4485d0" stroke="none" stroke-width="0"/>
<circle cx="273.02" cy="436.38" r="1.3" fill="#4485d0" stroke="none" stroke-width="0"/>
<circle cx="283.05" cy="430.21" r="1.3" fill="#4485d0" stroke="none" stroke-width="0"/>
<circle cx="287.38" cy="428.43" r="1.3" fill="#4485d0" stroke="none" stroke-width="0"/>
<circle cx="278.84" cy="432.82" r="1.3" fill="#4485d0" stroke="none" stroke-width="0"/>
<circle cx="292.79" cy="432.87" r="1.3" fill="#4485d0" stroke="none" stroke-width="0"/>
<circle cx="275.27" cy="435.84" r="1.3" fill="#4485d0" stroke="none" stroke-width="0"/>
<circle cx="279.87" cy="431.36" r="1.3" fill="#4485d0" stroke="none" stroke-width="0"/>
<circle cx="277.57" cy="432.08" r="1.3" fill="#4485d0" stroke="none" stroke-width="0"/>
<circle cx="280.80" cy="429.45" r="1.3" fill="#4485d0" stroke="none" stroke-width="0"/>
<circle cx="285.10" cy="431.13" r="1.3" fill="#4485d0" stroke="none" stroke-width="0"/>
<circle cx="270.03" cy="429.41" r="1.3" fill="#4485d0" stroke="none" stroke-width="0"/>
<circle cx="271.96" cy="432.46" r="1.3" fill="#4485d0" stroke="none" stroke-width="0"/>
<circle cx="271.68" cy="431.86" r="1.3" fill="#4485d0" stroke="none" stroke-width="0"/>
<circle cx="275.31" cy="431.12" r="1.3" fill="#4485d0" stroke="none" stroke-width="0"/>
<circle cx="296.60" cy="432.03" r="1.3" fill="#4485d0" stroke="none" stroke-width="0"/>
<circle cx="283.77" cy="436.49" r="1.3" fill="#4485d0" stroke="none" stroke-width="0"/>
<circle cx="277.87" cy="429.55" r="1.3" fill="#4485d0" stroke="none" stroke-width="0"/>
<circle cx="278.89" cy="430.57" r="1.3" fill="#4485d0" stroke="none" stroke-width="0"/>
<circle cx="279.91" cy="435.38" r="1.3" fill="#4485d0" stroke="none" stroke-width="0"/>
<circle cx="282.31" cy="434.70" r="1.3" fill="#4485d0" stroke="none" stroke-width="0"/>
<circle cx="289.14" cy="433.63" r="1.3" fill="#4485d0" stroke="none" stroke-width="0"/>
<circle cx="282.95" cy="431.86" r="1.3" fill="#4485d0" stroke="none" stroke-width="0"/>
<circle cx="284.34" cy="433.97" r="1.3" fill="#4485d0" stroke="none" stroke-width="0"/>
<circle cx="284.58" cy="432.30" r="1.3" fill="#4485d0" stroke="none" stroke-width="0"/>
<circle cx="285.96" cy="429.69" r="1.3" fill="#4485d0" stroke="none" stroke-width="0"/>
<circle cx="280.11" cy="434.59" r="1.3" fill="#4485d0" stroke="none" stroke-width="0"/>
<circle cx="283.38" cy="430.23" r="1.3" fill="#4485d0" stroke="none" stroke-width="0"/>
<circle cx="287.94" cy="433.18" r="1.3" fill="#4485d0" stroke="none" stroke-width="0"/>
<circle cx="282.27" cy="430.09" r="1.3" fill="#4485d0" stroke="none" stroke-width="0"/>
<circle cx="280.85" cy="431.14" r="1.3" fill="#4485d0" stroke="none" stroke-width="0"/>
<circle cx="280.32" cy="433.95" r="1.3" fill="#4485d0" stroke="none" stroke-width="0"/>
<circle cx="274.07" cy="433.25" r="1.3" fill="#4485d0" stroke="none" stroke-width="0"/>
<circle cx="282.45" cy="426.59" r="1.3" fill="#4485d0" stroke="none" stroke-width="0"/>
<circle cx="284.47" cy="428.19" r="1.3" fill="#4485d0" stroke="none" stroke-width="0"/>
<circle cx="283.43" cy="429.43" r="1.3" fill="#4485d0" stroke="none" stroke-width="0"/>
<circle cx="280.33" cy="429.17" r="1.3" fill="#4485d0" stroke="none" stroke-width="0"/>
<circle cx="288.63" cy="433.01" r="1.3" fill="#4485d0" stroke="none" stroke-width="0"/>
<circle cx="275.75" cy="425.02" r="1.3" fill="#4485d0" stroke="none" stroke-width="0"/>
<circle cx="280.65" cy="428.47" r="1.3" fill="#4485d0" stroke="none" stroke-width="0"/>
<circle cx="283.93" cy="435.83" r="1.3" fill="#4485d0" stroke="none" stroke-width="0"/>
<circle cx="292.07" cy="425.66" r="1.3" fill="#4485d0" stroke="none" stroke-width="0"/>
<circle cx="280.29" cy="429.24" r="1.3" fill="#4485d0" stroke="none" stroke-width="0"/>
<circle cx="280.03" cy="434.95" r="1.3" fill="#4485d0" stroke="none" stroke-width="0"/>
<circle cx="278.79" cy="430.56" r="1.3" fill="#4485d0" stroke="none" stroke-width="0"/>
<circle cx="285.19" cy="429.39" r="1.3" fill="#4485d0" stroke="none" stroke-width="0"/>
<circle cx="279.68" cy="427.13" r="1.3" fill="#4485d0" stroke="none" stroke-width="0"/>
<circle cx="275.40" cy="429.10" r="1.3" fill="#4485d0" stroke="none" stroke-width="0"/>
<circle cx="285.18" cy="432.88" r="1.3" fill="#4485d0" stroke="none" stroke-width="0"/>
<circle cx="270.02" cy="435.03" r="1.3" fill="#4485d0" stroke="none" stroke-width="0"/>
<circle cx="280.61" cy="430.02" r="1.3" fill="#4485d0" stroke="none" stroke-width="0"/>
<circle cx="287.45" cy="435.37" r="1.3" fill="#4485d0" stroke="none" stroke-width="0"/>
<circle cx="279.38" cy="429.60" r="1.3" fill="#4485d0" stroke="none" stroke-width="0"/>
<circle cx="278.55" cy="440.14" r="1.3" fill="#4485d0" stroke="none" stroke-width="0"/>
<circle cx="283.58" cy="423.79" r="1.3" fill="#4485d0" stroke="none" stroke-width="0"/>
<circle cx="284.61" cy="435.07" r="1.3" fill="#4485d0" stroke="none" stroke-width="0"/>
<circle cx="277.22" cy="431.09" r="1.3" fill="#4485d0" stroke="none" stroke-width="0"/>
<circle cx="292.36" cy="429.71" r="1.3" fill="#4485d0" stroke="none" stroke-width="0"/>
<circle cx="279.96" cy="426.43" r="1.3" fill="#4485d0" stroke="none" stroke-width="0"/>
<circle cx="278.94" cy="425.36" r="1.3" fill="#4485d0" stroke="none" stroke-width="0"/>
<circle cx="275.79" cy="433.52" r="1.3" fill="#4485d0" stroke="none" stroke-width="0"/>
<circle cx="283.13" cy="426.89" r="1.3" fill="#4485d0" stroke="none" stroke-width="0"/>
<circle cx="282.78" cy="430.81" r="1.3" fill="#4485d0" stroke="none" stroke-width="0"/>
<circle cx="269.86" cy="434.35" r="1.3" fill="#4485d0" stroke="none" stroke-width="0"/>
<circle cx="276.18" cy="433.73" r="1.3" fill="#4485d0" stroke="none" stroke-width="0"/>
<circle cx="282.43" cy="433.04" r="1.3" fill="#4485d0" stroke="none" stroke-width="0"/>
<circle cx="283.48" cy="431.58" r="1.3" fill="#4485d0" stroke="none" stroke-width="0"/>
<circle cx="277.63" cy="431.45" r="1.3" fill="#4485d0" stroke="none" stroke-width="0"/>
<circle cx="281.61" cy="428.87" r="1.3" fill="#4485d0" stroke="none" stroke-width="0"/>
<circle cx="276.88" cy="432.68" r="1.3" fill="#4485d0" stroke="none" stroke-width="0"/>
<circle cx="272.25" cy="426.26" r="1.3" fill="#4485d0" stroke="none" stroke-width="0"/>
<circle cx="286.95" cy="432.49" r="1.3" fill="#4485d0" stroke="none" stroke-width="0"/>
<circle cx="276.87" cy="436.18" r="1.3" fill="#4485d0" stroke="none" stroke-width="0"/>
<circle cx="280.26" cy="431.14" r="1.3" fill="#4485d0" stroke="none" stroke-width="0"/>
<circle cx="290.76" cy="431.00" r="1.3" fill="#4485d0" stroke="none" stroke-width="0"/>
<circle cx="275.31" cy="440.40" r="1.3" fill="#4485d0" stroke="none" stroke-width="0"/>
<circle cx="286.73" cy="431.20" r="1.3" fill="#4485d0" stroke="none" stroke-width="0"/>
<circle cx="270.97" cy="431.24" r="1.3" fill="#4485d0" stroke="none" stroke-width="0"/>
<circle cx="270.97" cy="419.71" r="1.3" fill="#4485d0" stroke="none" stroke-width="0"/>
<circle cx="285.21" cy="429.87" r="1.3" fill="#4485d0" stroke="none" stroke-width="0"/>
<circle cx="278.46" cy="439.34" r="1.3" fill="#4485d0" stroke="none" stroke-width="0"/>
<circle cx="278.71" cy="437.29" r="1.3" fill="#4485d0" stroke="none" stroke-width="0"/>
<circle cx="282.48" cy="439.34" r="1.3" fill="#4485d0" stroke="none" stroke-width="0"/>
<circle cx="274.63" cy="427.61" r="1.3" fill="#4485d0" stroke="none" stroke-width="0"/>
<circle cx="287.95" cy="435.99" r="1.3" fill="#4485d0" stroke="none" stroke-width="0"/>
<circle cx="271.36" cy="428.79" r="1.3" fill="#4485d0" stroke="none" stroke-width="0"/>
<circle cx="283.82" cy="435.31" r="1.3" fill="#4485d0" stroke="none" stroke-width="0"/>
<circle cx="275.75" cy="434.29" r="1.3" fill="#4485d0" stroke="none" stroke-width="0"/>
<circle cx="273.16" cy="434.24" r="1.3" fill="#4485d0" stroke="none" stroke-width="0"/>
<circle cx="285.90" cy="429.46" r="1.3" fill="#4485d0" stroke="none" stroke-width="0"/>
<circle cx="290.11" cy="432.17" r="1.3" fill="#4485d0" stroke="none" stroke-width="0"/>
<circle cx="278.66" cy="435.30" r="1.3" fill="#4485d0" stroke="none" stroke-width="0"/>
<circle cx="278.72" cy="436.45" r="1.3" fill="#4485d0" stroke="none" stroke-width="0"/>
<circle cx="270.09" cy="429.43" r="1.3" fill="#4485d0" stroke="none" stroke-width="0"/>
<circle cx="286.89" cy="428.94" r="1.3" fill="#4485d0" stroke="none" stroke-width="0"/>
<circle cx="286.33" cy="430.98" r="1.3" fill="#4485d0" stroke="none" stroke-width="0"/>
<circle cx="275.62" cy="431.56" r="1.3" fill="#4485d0" stroke="none" stroke-width="0"/>
<circle cx="277.42" cy="435.75" r="1.3" fill="#4485d0" stroke="none" stroke-width="0"/>
<circle cx="270.54" cy="437.04" r="1.3" fill="#4485d0" stroke="none" stroke-width="0"/>
<circle cx="279.34" cy="431.34" r="1.3" fill="#4485d0" stroke="none" stroke-width="0"/>
<circle cx="276.89" cy="426.87" r="1.3" fill="#4485d0" stroke="none" stroke-width="0"/>
<circle cx="280.30" cy="429.83" r="1.3" fill="#4485d0" stroke="none" stroke-width="0"/>
<circle cx="285.73" cy="434.73" r="1.3" fill="#4485d0" stroke="none" stroke-width="0"/>
<circle cx="269.09" cy="429.24" r="1.3" fill="#4485d0" stroke="none" stroke-width="0"/>
<circle cx="275.78" cy="427.29" r="1.3" fill="#4485d0" stroke="none" stroke-width="0"/>
<circle cx="281.13" cy="428.35" r="1.3" fill="#4485d0" stroke="none" stroke-width="0"/>
<circle cx="283.36" cy="439.13" r="1.3" fill="#4485d0" stroke="none" stroke-width="0"/>
<circle cx="283.12" cy="434.22" r="1.3" fill="#4485d0" stroke="none" stroke-width="0"/>
<circle cx="275.42" cy="433.38" r="1.3" fill="#4485d0" stroke="none" stroke-width="0"/>
<circle cx="283.38" cy="428.78" r="1.3" fill="#4485d0" stroke="none" stroke-width="0"/>
<circle cx="284.65" cy="437.66" r="1.3" fill="#4485d0" stroke="none" stroke-width="0"/>
<circle cx="276.29" cy="440.16" r="1.3" fill="#4485d0" stroke="none" stroke-width="0"/>
<circle cx="278.84" cy="429.77" r="1.3" fill="#4485d0" stroke="none" stroke-width="0"/>
<circle cx="275.38" cy="431.01" r="1.3" fill="#4485d0" stroke="none" stroke-width="0"/>
<circle cx="280.58" cy="428.35" r="1.3" fill="#4485d0" stroke="none" stroke-width="0"/>
<circle cx="275.08" cy="434.76" r="1.3" fill="#4485d0" stroke="none" stroke-width="0"/>
<circle cx="275.39" cy="425.74" r="1.3" fill="#4485d0" stroke="none" stroke-width="0"/>
<circle cx="285.06" cy="432.30" r="1.3" fill="#4485d0" stroke="none" stroke-width="0"/>
<circle cx="280.55" cy="431.47" r="1.3" fill="#4485d0" stroke="none" stroke-width="0"/>
<circle cx="280.43" cy="432.59" r="1.3" fill="#4485d0" stroke="none" stroke-width="0"/>
<circle cx="277.63" cy="436.25" r="1.3" fill="#4485d0" stroke="none" stroke-width="0"/>
<circle cx="276.02" cy="426.10" r="1.3" fill="#4485d0" stroke="none" stroke-width="0"/>
<circle cx="282.17" cy="431.64" r="1.3" fill="#4485d0" stroke="none" stroke-width="0"/>
<circle cx="278.25" cy="431.65" r="1.3" fill="#4485d0" stroke="none" stroke-width="0"/>
<circle cx="281.21" cy="434.12" r="1.3" fill="#4485d0" stroke="none" stroke-width="0"/>
<circle cx="280.39" cy="431.03" r="1.3" fill="#4485d0" stroke="none" stroke-width="0"/>
<circle cx="275.46" cy="434.62" r="1.3" fill="#4485d0" stroke="none" stroke-width="0"/>
<circle cx="274.16" cy="435.58" r="1.3" fill="#4485d0" stroke="none" stroke-width="0"/>
<circle cx="284.02" cy="440.11" r="1.3" fill="#4485d0" stroke="none" stroke-width="0"/>
<circle cx="277.98" cy="434.00" r="1.3" fill="#4485d0" stroke="none" stroke-width="0"/>
<circle cx="276.13" cy="431.52" r="1.3" fill="#4485d0" stroke="none" stroke-width="0"/>
<circle cx="285.26" cy="431.60" r="1.3" fill="#4485d0" stroke="none" stroke-width="0"/>
<circle cx="278.64" cy="434.00" r="1.3" fill="#4485d0" stroke="none" stroke-width="0"/>
<circle cx="278.70" cy="428.68" r="1.3" fill="#4485d0" stroke="none" stroke-width="0"/>
<circle cx="277.31" cy="435.87" r="1.3" fill="#4485d0" stroke="none" stroke-width="0"/>
<circle cx="272.77" cy="435.73" r="1.3" fill="#4485d0" stroke="none" stroke-width="0"/>
<circle cx="272.11" cy="428.03" r="1.3" fill="#4485d0" stroke="none" stroke-width="0"/>
<circle cx="281.22" cy="432.69" r="1.3" fill="#4485d0" stroke="none" stroke-width="0"/>
<circle cx="286.99" cy="434.16" r="1.3" fill="#4485d0" stroke="none" stroke-width="0"/>
<circle cx="283.30" cy="429.07" r="1.3" fill="#4485d0" stroke="none" stroke-width="0"/>
<circle cx="271.30" cy="437.30" r="1.3" fill="#4485d0" stroke="none" stroke-width="0"/>
<circle cx="274.53" cy="428.70" r="1.3" fill="#4485d0" stroke="none" stroke-width="0"/>
<circle cx="286.14" cy="436.15" r="1.3" fill="#4485d0" stroke="none" stroke-width="0"/>
<circle cx="284.84" cy="433.20" r="1.3" fill="#4485d0" stroke="none" stroke-width="0"/>
<circle cx="277.32" cy="433.79" r="1.3" fill="#4485d0" stroke="none" stroke-width="0"/>
<circle cx="277.68" cy="438.22" r="1.3" fill="#4485d0" stroke="none" stroke-width="0"/>
<circle cx="274.14" cy="436.18" r="1.3" fill="#4485d0" stroke="none" stroke-width="0"/>
<circle cx="315.36" cy="390.55" r="1.3" fill="#4485d0" stroke="none" stroke-width="0"/>
<circle cx="322.24" cy="394.64" r="1.3" fill="#4485d0" stroke="none" stroke-width="0"/>
<circle cx="320.60" cy="400.86" r="1.3" fill="#4485d0" stroke="none" stroke-width="0"/>
<circle cx="318.31" cy="409.36" r="1.3" fill="#4485d0" stroke="none" stroke-width="0"/>
<circle cx="289.18" cy="403.64" r="1.3" fill="#4485d0" stroke="none" stroke-width="0"/>
<circle cx="297.04" cy="407.73" r="1.3" fill="#4485d0" stroke="none" stroke-width="0"/>
<circle cx="289.51" cy="415.09" r="1.3" fill="#4485d0" stroke="none" stroke-width="0"/>
<circle cx="294.42" cy="417.87" r="1.3" fill="#4485d0" stroke="none" stroke-width="0"/>
<circle cx="276.58" cy="417.22" r="1.3" fill="#4485d0" stroke="none" stroke-width="0"/>
<circle cx="298.18" cy="423.27" r="1.3" fill="#4485d0" stroke="none" stroke-width="0"/>
<circle cx="297.36" cy="422.13" r="1.3" fill="#4485d0" stroke="none" stroke-width="0"/>
<circle cx="303.91" cy="428.18" r="1.3" fill="#4485d0" stroke="none" stroke-width="0"/>
<circle cx="288.36" cy="422.46" r="1.3" fill="#4485d0" stroke="none" stroke-width="0"/>
<circle cx="287.87" cy="421.31" r="1.3" fill="#4485d0" stroke="none" stroke-width="0"/>
<circle cx="263.00" cy="431.13" r="1.3" fill="#4485d0" stroke="none" stroke-width="0"/>
<circle cx="269.55" cy="424.91" r="1.3" fill="#4485d0" stroke="none" stroke-width="0"/>
<circle cx="271.18" cy="423.27" r="1.3" fill="#4485d0" stroke="none" stroke-width="0"/>
<circle cx="293.27" cy="431.46" r="1.3" fill="#4485d0" stroke="none" stroke-width="0"/>
<circle cx="294.09" cy="434.73" r="1.3" fill="#4485d0" stroke="none" stroke-width="0"/>
<circle cx="297.04" cy="434.24" r="1.3" fill="#4485d0" stroke="none" stroke-width="0"/>
<circle cx="292.46" cy="429.00" r="1.3" fill="#4485d0" stroke="none" stroke-width="0"/>
<circle cx="284.27" cy="424.91" r="1.3" fill="#4485d0" stroke="none" stroke-width="0"/>
<circle cx="282.64" cy="424.09" r="1.3" fill="#4485d0" stroke="none" stroke-width="0"/>
<circle cx="286.73" cy="427.36" r="1.3" fill="#4485d0" stroke="none" stroke-width="0"/>
<circle cx="267.91" cy="437.18" r="1.3" fill="#4485d0" stroke="none" stroke-width="0"/>
<circle cx="269.55" cy="438.82" r="1.3" fill="#4485d0" stroke="none" stroke-width="0"/>
<circle cx="294.09" cy="429.00" r="1.3" fill="#4485d0" stroke="none" stroke-width="0"/>
<circle cx="290.82" cy="428.18" r="1.3" fill="#4485d0" stroke="none" stroke-width="0"/>
<line x1="277.70" y1="484.90" x2="277.70" y2="565.90" stroke="#c9c9c9" stroke-width="0.9"/>
<line x1="251.20" y1="538.60" x2="329.30" y2="538.60" stroke="#c9c9c9" stroke-width="0.9"/>
<text x="0" y="0" transform="translate(276.50,487.26) scale(1,1.07)" font-size="6.6" text-anchor="end" fill="#333" stroke="#333" stroke-width="0.14">8</text>
<text x="0" y="0" transform="translate(276.50,499.56) scale(1,1.07)" font-size="6.6" text-anchor="end" fill="#333" stroke="#333" stroke-width="0.14">6</text>
<text x="0" y="0" transform="translate(276.50,513.16) scale(1,1.07)" font-size="6.6" text-anchor="end" fill="#333" stroke="#333" stroke-width="0.14">4</text>
<text x="0" y="0" transform="translate(276.50,526.26) scale(1,1.07)" font-size="6.6" text-anchor="end" fill="#333" stroke="#333" stroke-width="0.14">2</text>
<text x="0" y="0" transform="translate(276.50,553.56) scale(1,1.07)" font-size="6.6" text-anchor="end" fill="#333" stroke="#333" stroke-width="0.14">&#8722;2</text>
<text x="0" y="0" transform="translate(276.50,565.86) scale(1,1.07)" font-size="6.6" text-anchor="end" fill="#333" stroke="#333" stroke-width="0.14">&#8722;4</text>
<text x="0" y="0" transform="translate(254.00,545.86) scale(1,1.07)" font-size="6.6" text-anchor="middle" fill="#333" stroke="#333" stroke-width="0.14">&#8722;3</text>
<text x="0" y="0" transform="translate(287.20,545.86) scale(1,1.07)" font-size="6.6" text-anchor="middle" fill="#333" stroke="#333" stroke-width="0.14">1</text>
<text x="0" y="0" transform="translate(304.70,545.86) scale(1,1.07)" font-size="6.6" text-anchor="middle" fill="#333" stroke="#333" stroke-width="0.14">3</text>
<text x="0" y="0" transform="translate(321.90,545.86) scale(1,1.07)" font-size="6.6" text-anchor="middle" fill="#333" stroke="#333" stroke-width="0.14">5</text>
<circle cx="271.83" cy="535.99" r="1.3" fill="#4485d0" stroke="none" stroke-width="0"/>
<circle cx="277.92" cy="538.58" r="1.3" fill="#4485d0" stroke="none" stroke-width="0"/>
<circle cx="284.42" cy="536.60" r="1.3" fill="#4485d0" stroke="none" stroke-width="0"/>
<circle cx="277.94" cy="530.30" r="1.3" fill="#4485d0" stroke="none" stroke-width="0"/>
<circle cx="276.79" cy="541.42" r="1.3" fill="#4485d0" stroke="none" stroke-width="0"/>
<circle cx="272.20" cy="538.75" r="1.3" fill="#4485d0" stroke="none" stroke-width="0"/>
<circle cx="282.81" cy="533.75" r="1.3" fill="#4485d0" stroke="none" stroke-width="0"/>
<circle cx="285.31" cy="530.12" r="1.3" fill="#4485d0" stroke="none" stroke-width="0"/>
<circle cx="288.37" cy="534.42" r="1.3" fill="#4485d0" stroke="none" stroke-width="0"/>
<circle cx="286.47" cy="534.34" r="1.3" fill="#4485d0" stroke="none" stroke-width="0"/>
<circle cx="276.61" cy="533.68" r="1.3" fill="#4485d0" stroke="none" stroke-width="0"/>
<circle cx="279.92" cy="537.43" r="1.3" fill="#4485d0" stroke="none" stroke-width="0"/>
<circle cx="290.13" cy="533.84" r="1.3" fill="#4485d0" stroke="none" stroke-width="0"/>
<circle cx="277.09" cy="536.93" r="1.3" fill="#4485d0" stroke="none" stroke-width="0"/>
<circle cx="291.97" cy="537.55" r="1.3" fill="#4485d0" stroke="none" stroke-width="0"/>
<circle cx="283.53" cy="534.37" r="1.3" fill="#4485d0" stroke="none" stroke-width="0"/>
<circle cx="282.36" cy="534.48" r="1.3" fill="#4485d0" stroke="none" stroke-width="0"/>
<circle cx="277.12" cy="538.34" r="1.3" fill="#4485d0" stroke="none" stroke-width="0"/>
<circle cx="278.81" cy="537.95" r="1.3" fill="#4485d0" stroke="none" stroke-width="0"/>
<circle cx="283.93" cy="530.97" r="1.3" fill="#4485d0" stroke="none" stroke-width="0"/>
<circle cx="274.96" cy="534.63" r="1.3" fill="#4485d0" stroke="none" stroke-width="0"/>
<circle cx="274.48" cy="539.18" r="1.3" fill="#4485d0" stroke="none" stroke-width="0"/>
<circle cx="278.40" cy="536.24" r="1.3" fill="#4485d0" stroke="none" stroke-width="0"/>
<circle cx="277.35" cy="546.24" r="1.3" fill="#4485d0" stroke="none" stroke-width="0"/>
<circle cx="286.99" cy="537.63" r="1.3" fill="#4485d0" stroke="none" stroke-width="0"/>
<circle cx="276.30" cy="534.13" r="1.3" fill="#4485d0" stroke="none" stroke-width="0"/>
<circle cx="276.50" cy="541.89" r="1.3" fill="#4485d0" stroke="none" stroke-width="0"/>
<circle cx="282.25" cy="535.10" r="1.3" fill="#4485d0" stroke="none" stroke-width="0"/>
<circle cx="275.29" cy="533.55" r="1.3" fill="#4485d0" stroke="none" stroke-width="0"/>
<circle cx="281.64" cy="540.81" r="1.3" fill="#4485d0" stroke="none" stroke-width="0"/>
<circle cx="288.93" cy="535.65" r="1.3" fill="#4485d0" stroke="none" stroke-width="0"/>
<circle cx="273.65" cy="534.97" r="1.3" fill="#4485d0" stroke="none" stroke-width="0"/>
<circle cx="280.33" cy="533.07" r="1.3" fill="#4485d0" stroke="none" stroke-width="0"/>
<circle cx="272.52" cy="532.81" r="1.3" fill="#4485d0" stroke="none" stroke-width="0"/>
<circle cx="284.64" cy="534.08" r="1.3" fill="#4485d0" stroke="none" stroke-width="0"/>
<circle cx="282.89" cy="531.80" r="1.3" fill="#4485d0" stroke="none" stroke-width="0"/>
<circle cx="283.46" cy="536.17" r="1.3" fill="#4485d0" stroke="none" stroke-width="0"/>
<circle cx="275.23" cy="532.55" r="1.3" fill="#4485d0" stroke="none" stroke-width="0"/>
<circle cx="284.85" cy="535.55" r="1.3" fill="#4485d0" stroke="none" stroke-width="0"/>
<circle cx="280.46" cy="533.98" r="1.3" fill="#4485d0" stroke="none" stroke-width="0"/>
<circle cx="266.34" cy="535.48" r="1.3" fill="#4485d0" stroke="none" stroke-width="0"/>
<circle cx="266.42" cy="535.76" r="1.3" fill="#4485d0" stroke="none" stroke-width="0"/>
<circle cx="285.24" cy="529.68" r="1.3" fill="#4485d0" stroke="none" stroke-width="0"/>
<circle cx="277.15" cy="535.07" r="1.3" fill="#4485d0" stroke="none" stroke-width="0"/>
<circle cx="279.26" cy="544.84" r="1.3" fill="#4485d0" stroke="none" stroke-width="0"/>
<circle cx="283.49" cy="536.72" r="1.3" fill="#4485d0" stroke="none" stroke-width="0"/>
<circle cx="279.99" cy="540.13" r="1.3" fill="#4485d0" stroke="none" stroke-width="0"/>
<circle cx="279.41" cy="536.36" r="1.3" fill="#4485d0" stroke="none" stroke-width="0"/>
<circle cx="286.39" cy="535.59" r="1.3" fill="#4485d0" stroke="none" stroke-width="0"/>
<circle cx="298.09" cy="538.17" r="1.3" fill="#4485d0" stroke="none" stroke-width="0"/>
<circle cx="278.22" cy="536.86" r="1.3" fill="#4485d0" stroke="none" stroke-width="0"/>
<circle cx="275.33" cy="531.10" r="1.3" fill="#4485d0" stroke="none" stroke-width="0"/>
<circle cx="283.04" cy="541.35" r="1.3" fill="#4485d0" stroke="none" stroke-width="0"/>
<circle cx="280.19" cy="532.43" r="1.3" fill="#4485d0" stroke="none" stroke-width="0"/>
<circle cx="272.11" cy="536.12" r="1.3" fill="#4485d0" stroke="none" stroke-width="0"/>
<circle cx="278.36" cy="528.08" r="1.3" fill="#4485d0" stroke="none" stroke-width="0"/>
<circle cx="281.82" cy="538.17" r="1.3" fill="#4485d0" stroke="none" stroke-width="0"/>
<circle cx="276.65" cy="529.71" r="1.3" fill="#4485d0" stroke="none" stroke-width="0"/>
<circle cx="277.15" cy="528.26" r="1.3" fill="#4485d0" stroke="none" stroke-width="0"/>
<circle cx="271.35" cy="537.37" r="1.3" fill="#4485d0" stroke="none" stroke-width="0"/>
<circle cx="278.35" cy="539.26" r="1.3" fill="#4485d0" stroke="none" stroke-width="0"/>
<circle cx="278.50" cy="534.12" r="1.3" fill="#4485d0" stroke="none" stroke-width="0"/>
<circle cx="276.10" cy="541.94" r="1.3" fill="#4485d0" stroke="none" stroke-width="0"/>
<circle cx="286.74" cy="531.26" r="1.3" fill="#4485d0" stroke="none" stroke-width="0"/>
<circle cx="275.97" cy="535.55" r="1.3" fill="#4485d0" stroke="none" stroke-width="0"/>
<circle cx="266.00" cy="532.84" r="1.3" fill="#4485d0" stroke="none" stroke-width="0"/>
<circle cx="272.57" cy="538.71" r="1.3" fill="#4485d0" stroke="none" stroke-width="0"/>
<circle cx="291.07" cy="541.32" r="1.3" fill="#4485d0" stroke="none" stroke-width="0"/>
<circle cx="279.73" cy="540.61" r="1.3" fill="#4485d0" stroke="none" stroke-width="0"/>
<circle cx="269.83" cy="540.96" r="1.3" fill="#4485d0" stroke="none" stroke-width="0"/>
<circle cx="281.05" cy="541.48" r="1.3" fill="#4485d0" stroke="none" stroke-width="0"/>
<circle cx="276.49" cy="533.99" r="1.3" fill="#4485d0" stroke="none" stroke-width="0"/>
<circle cx="278.77" cy="541.49" r="1.3" fill="#4485d0" stroke="none" stroke-width="0"/>
<circle cx="287.54" cy="536.23" r="1.3" fill="#4485d0" stroke="none" stroke-width="0"/>
<circle cx="287.05" cy="540.53" r="1.3" fill="#4485d0" stroke="none" stroke-width="0"/>
<circle cx="288.54" cy="541.63" r="1.3" fill="#4485d0" stroke="none" stroke-width="0"/>
<circle cx="270.38" cy="538.23" r="1.3" fill="#4485d0" stroke="none" stroke-width="0"/>
<circle cx="277.64" cy="535.71" r="1.3" fill="#4485d0" stroke="none" stroke-width="0"/>
<circle cx="276.64" cy="534.34" r="1.3" fill="#4485d0" stroke="none" stroke-width="0"/>
<circle cx="286.67" cy="539.07" r="1.3" fill="#4485d0" stroke="none" stroke-width="0"/>
<circle cx="272.34" cy="538.15" r="1.3" fill="#4485d0" stroke="none" stroke-width="0"/>
<circle cx="283.94" cy="533.67" r="1.3" fill="#4485d0" stroke="none" stroke-width="0"/>
<circle cx="277.77" cy="540.30" r="1.3" fill="#4485d0" stroke="none" stroke-width="0"/>
<circle cx="279.51" cy="533.13" r="1.3" fill="#4485d0" stroke="none" stroke-width="0"/>
<circle cx="275.83" cy="531.90" r="1.3" fill="#4485d0" stroke="none" stroke-width="0"/>
<circle cx="280.80" cy="535.61" r="1.3" fill="#4485d0" stroke="none" stroke-width="0"/>
<circle cx="276.29" cy="531.67" r="1.3" fill="#4485d0" stroke="none" stroke-width="0"/>
<circle cx="279.83" cy="542.16" r="1.3" fill="#4485d0" stroke="none" stroke-width="0"/>
<circle cx="283.94" cy="538.22" r="1.3" fill="#4485d0" stroke="none" stroke-width="0"/>
<circle cx="285.30" cy="536.06" r="1.3" fill="#4485d0" stroke="none" stroke-width="0"/>
<circle cx="276.29" cy="536.05" r="1.3" fill="#4485d0" stroke="none" stroke-width="0"/>
<circle cx="277.00" cy="539.72" r="1.3" fill="#4485d0" stroke="none" stroke-width="0"/>
<circle cx="279.71" cy="533.62" r="1.3" fill="#4485d0" stroke="none" stroke-width="0"/>
<circle cx="279.98" cy="537.00" r="1.3" fill="#4485d0" stroke="none" stroke-width="0"/>
<circle cx="276.67" cy="534.58" r="1.3" fill="#4485d0" stroke="none" stroke-width="0"/>
<circle cx="281.04" cy="533.16" r="1.3" fill="#4485d0" stroke="none" stroke-width="0"/>
<circle cx="281.53" cy="528.84" r="1.3" fill="#4485d0" stroke="none" stroke-width="0"/>
<circle cx="271.29" cy="536.88" r="1.3" fill="#4485d0" stroke="none" stroke-width="0"/>
<circle cx="282.42" cy="533.38" r="1.3" fill="#4485d0" stroke="none" stroke-width="0"/>
<circle cx="271.49" cy="541.17" r="1.3" fill="#4485d0" stroke="none" stroke-width="0"/>
<circle cx="279.37" cy="532.81" r="1.3" fill="#4485d0" stroke="none" stroke-width="0"/>
<circle cx="285.40" cy="542.26" r="1.3" fill="#4485d0" stroke="none" stroke-width="0"/>
<circle cx="280.28" cy="532.37" r="1.3" fill="#4485d0" stroke="none" stroke-width="0"/>
<circle cx="279.74" cy="540.47" r="1.3" fill="#4485d0" stroke="none" stroke-width="0"/>
<circle cx="275.80" cy="541.59" r="1.3" fill="#4485d0" stroke="none" stroke-width="0"/>
<circle cx="285.90" cy="537.63" r="1.3" fill="#4485d0" stroke="none" stroke-width="0"/>
<circle cx="277.33" cy="539.90" r="1.3" fill="#4485d0" stroke="none" stroke-width="0"/>
<circle cx="278.86" cy="540.02" r="1.3" fill="#4485d0" stroke="none" stroke-width="0"/>
<circle cx="274.43" cy="536.84" r="1.3" fill="#4485d0" stroke="none" stroke-width="0"/>
<circle cx="278.38" cy="535.00" r="1.3" fill="#4485d0" stroke="none" stroke-width="0"/>
<circle cx="280.37" cy="532.34" r="1.3" fill="#4485d0" stroke="none" stroke-width="0"/>
<circle cx="279.35" cy="535.73" r="1.3" fill="#4485d0" stroke="none" stroke-width="0"/>
<circle cx="280.78" cy="539.65" r="1.3" fill="#4485d0" stroke="none" stroke-width="0"/>
<circle cx="285.86" cy="538.76" r="1.3" fill="#4485d0" stroke="none" stroke-width="0"/>
<circle cx="271.24" cy="532.11" r="1.3" fill="#4485d0" stroke="none" stroke-width="0"/>
<circle cx="283.04" cy="538.76" r="1.3" fill="#4485d0" stroke="none" stroke-width="0"/>
<circle cx="284.63" cy="533.15" r="1.3" fill="#4485d0" stroke="none" stroke-width="0"/>
<circle cx="283.30" cy="540.99" r="1.3" fill="#4485d0" stroke="none" stroke-width="0"/>
<circle cx="280.52" cy="540.50" r="1.3" fill="#4485d0" stroke="none" stroke-width="0"/>
<circle cx="276.36" cy="538.75" r="1.3" fill="#4485d0" stroke="none" stroke-width="0"/>
<circle cx="275.12" cy="534.88" r="1.3" fill="#4485d0" stroke="none" stroke-width="0"/>
<circle cx="275.42" cy="534.41" r="1.3" fill="#4485d0" stroke="none" stroke-width="0"/>
<circle cx="280.49" cy="538.91" r="1.3" fill="#4485d0" stroke="none" stroke-width="0"/>
<circle cx="280.48" cy="534.17" r="1.3" fill="#4485d0" stroke="none" stroke-width="0"/>
<circle cx="285.61" cy="537.64" r="1.3" fill="#4485d0" stroke="none" stroke-width="0"/>
<circle cx="288.74" cy="534.59" r="1.3" fill="#4485d0" stroke="none" stroke-width="0"/>
<circle cx="286.15" cy="541.65" r="1.3" fill="#4485d0" stroke="none" stroke-width="0"/>
<circle cx="274.00" cy="532.26" r="1.3" fill="#4485d0" stroke="none" stroke-width="0"/>
<circle cx="278.40" cy="534.99" r="1.3" fill="#4485d0" stroke="none" stroke-width="0"/>
<circle cx="285.91" cy="541.98" r="1.3" fill="#4485d0" stroke="none" stroke-width="0"/>
<circle cx="281.96" cy="529.59" r="1.3" fill="#4485d0" stroke="none" stroke-width="0"/>
<circle cx="283.80" cy="536.36" r="1.3" fill="#4485d0" stroke="none" stroke-width="0"/>
<circle cx="282.56" cy="536.66" r="1.3" fill="#4485d0" stroke="none" stroke-width="0"/>
<circle cx="283.66" cy="531.92" r="1.3" fill="#4485d0" stroke="none" stroke-width="0"/>
<circle cx="278.39" cy="534.58" r="1.3" fill="#4485d0" stroke="none" stroke-width="0"/>
<circle cx="281.19" cy="533.97" r="1.3" fill="#4485d0" stroke="none" stroke-width="0"/>
<circle cx="283.99" cy="540.62" r="1.3" fill="#4485d0" stroke="none" stroke-width="0"/>
<circle cx="285.72" cy="533.53" r="1.3" fill="#4485d0" stroke="none" stroke-width="0"/>
<circle cx="273.82" cy="537.73" r="1.3" fill="#4485d0" stroke="none" stroke-width="0"/>
<circle cx="271.90" cy="537.75" r="1.3" fill="#4485d0" stroke="none" stroke-width="0"/>
<circle cx="281.31" cy="540.93" r="1.3" fill="#4485d0" stroke="none" stroke-width="0"/>
<circle cx="275.51" cy="539.91" r="1.3" fill="#4485d0" stroke="none" stroke-width="0"/>
<circle cx="275.92" cy="539.53" r="1.3" fill="#4485d0" stroke="none" stroke-width="0"/>
<circle cx="273.95" cy="534.61" r="1.3" fill="#4485d0" stroke="none" stroke-width="0"/>
<circle cx="278.45" cy="539.70" r="1.3" fill="#4485d0" stroke="none" stroke-width="0"/>
<circle cx="284.78" cy="538.76" r="1.3" fill="#4485d0" stroke="none" stroke-width="0"/>
<circle cx="284.29" cy="541.22" r="1.3" fill="#4485d0" stroke="none" stroke-width="0"/>
<circle cx="286.98" cy="538.33" r="1.3" fill="#4485d0" stroke="none" stroke-width="0"/>
<circle cx="274.60" cy="535.20" r="1.3" fill="#4485d0" stroke="none" stroke-width="0"/>
<circle cx="272.55" cy="540.65" r="1.3" fill="#4485d0" stroke="none" stroke-width="0"/>
<circle cx="315.36" cy="493.09" r="1.3" fill="#4485d0" stroke="none" stroke-width="0"/>
<circle cx="322.73" cy="499.64" r="1.3" fill="#4485d0" stroke="none" stroke-width="0"/>
<circle cx="320.60" cy="505.86" r="1.3" fill="#4485d0" stroke="none" stroke-width="0"/>
<circle cx="318.31" cy="521.73" r="1.3" fill="#4485d0" stroke="none" stroke-width="0"/>
<circle cx="289.18" cy="507.49" r="1.3" fill="#4485d0" stroke="none" stroke-width="0"/>
<circle cx="297.04" cy="513.55" r="1.3" fill="#4485d0" stroke="none" stroke-width="0"/>
<circle cx="276.58" cy="518.46" r="1.3" fill="#4485d0" stroke="none" stroke-width="0"/>
<circle cx="267.91" cy="525.00" r="1.3" fill="#4485d0" stroke="none" stroke-width="0"/>
<circle cx="290.00" cy="524.18" r="1.3" fill="#4485d0" stroke="none" stroke-width="0"/>
<circle cx="294.42" cy="523.36" r="1.3" fill="#4485d0" stroke="none" stroke-width="0"/>
<circle cx="297.69" cy="522.87" r="1.3" fill="#4485d0" stroke="none" stroke-width="0"/>
<circle cx="303.91" cy="529.09" r="1.3" fill="#4485d0" stroke="none" stroke-width="0"/>
<circle cx="288.36" cy="529.91" r="1.3" fill="#4485d0" stroke="none" stroke-width="0"/>
<circle cx="281.00" cy="526.64" r="1.3" fill="#4485d0" stroke="none" stroke-width="0"/>
<circle cx="263.00" cy="535.64" r="1.3" fill="#4485d0" stroke="none" stroke-width="0"/>
<circle cx="273.15" cy="555.27" r="1.3" fill="#4485d0" stroke="none" stroke-width="0"/>
<circle cx="294.09" cy="537.27" r="1.3" fill="#4485d0" stroke="none" stroke-width="0"/>
<circle cx="294.91" cy="538.09" r="1.3" fill="#4485d0" stroke="none" stroke-width="0"/>
<circle cx="298.18" cy="532.69" r="1.3" fill="#4485d0" stroke="none" stroke-width="0"/>
<circle cx="297.36" cy="534.00" r="1.3" fill="#4485d0" stroke="none" stroke-width="0"/>
<circle cx="286.73" cy="530.73" r="1.3" fill="#4485d0" stroke="none" stroke-width="0"/>
<circle cx="284.27" cy="532.36" r="1.3" fill="#4485d0" stroke="none" stroke-width="0"/>
<circle cx="292.46" cy="534.00" r="1.3" fill="#4485d0" stroke="none" stroke-width="0"/>
<circle cx="267.91" cy="543.00" r="1.3" fill="#4485d0" stroke="none" stroke-width="0"/>
<circle cx="269.55" cy="544.64" r="1.3" fill="#4485d0" stroke="none" stroke-width="0"/>
<circle cx="280.18" cy="546.27" r="1.3" fill="#4485d0" stroke="none" stroke-width="0"/>
<text x="0" y="0" transform="translate(229.50,423.40) rotate(-90) scale(1,1.07)" font-size="9.15" text-anchor="middle" fill="#231f20" stroke="#231f20" stroke-width="0.14">FC induced by MM.1S</text>
<text x="0" y="0" transform="translate(240.00,425.40) rotate(-90) scale(1,1.07)" font-size="9.15" text-anchor="middle" fill="#231f20" stroke="#231f20" stroke-width="0.14">(HD MSC; Log<tspan font-size="0.55em" dy="0.3em">2</tspan>)</text>
<text x="0" y="0" transform="translate(229.50,533.40) rotate(-90) scale(1,1.07)" font-size="9.15" text-anchor="middle" fill="#231f20" stroke="#231f20" stroke-width="0.14">FC induced by MM.1S</text>
<text x="0" y="0" transform="translate(240.00,531.90) rotate(-90) scale(1,1.07)" font-size="9.15" text-anchor="middle" fill="#231f20" stroke="#231f20" stroke-width="0.14">(MM MSC; Log<tspan font-size="0.55em" dy="0.3em">2</tspan>)</text>
<text x="0" y="0" transform="translate(288.00,585.06) scale(1,1.07)" font-size="9.1" text-anchor="middle" fill="#231f20" stroke="#231f20" stroke-width="0.14">FC induced by <tspan font-size="6.6">IL-1&#946;</tspan></text>
<text x="0" y="0" transform="translate(287.30,595.16) scale(1,1.07)" font-size="9.1" text-anchor="middle" fill="#231f20" stroke="#231f20" stroke-width="0.14">(0.5ng, 2 days;</text>
<text x="0" y="0" transform="translate(288.60,606.36) scale(1,1.07)" font-size="9.1" text-anchor="middle" fill="#231f20" stroke="#231f20" stroke-width="0.14">GSE161762; Log<tspan font-size="0.55em" dy="0.3em">2</tspan>)</text>
<text x="0" y="0" transform="translate(410.10,382.41) scale(1,1.07)" font-size="7.3" text-anchor="middle" fill="#333" stroke="#333" stroke-width="0.14">112,820K</text>
<text x="0" y="0" transform="translate(451.30,381.01) scale(1,1.07)" font-size="7.3" text-anchor="middle" fill="#333" stroke="#333" stroke-width="0.14">chr2</text>
<text x="0" y="0" transform="translate(494.40,382.01) scale(1,1.07)" font-size="7.3" text-anchor="middle" fill="#333" stroke="#333" stroke-width="0.14">112,850K</text>
<line x1="393.30" y1="387.00" x2="532.30" y2="387.00" stroke="#c8c8c8" stroke-width="0.7"/>
<line x1="407.10" y1="385.60" x2="407.10" y2="387.00" stroke="#aaa" stroke-width="0.6"/>
<line x1="490.90" y1="385.60" x2="490.90" y2="387.00" stroke="#aaa" stroke-width="0.6"/>
<line x1="391.90" y1="399.30" x2="391.90" y2="429.80" stroke="#111" stroke-width="1.5"/>
<text x="0" y="0" transform="translate(385.50,404.71) scale(1,1.07)" font-size="7.0" text-anchor="middle" fill="#222" stroke="#222" stroke-width="0.14">7</text>
<text x="0" y="0" transform="translate(385.50,429.71) scale(1,1.07)" font-size="7.0" text-anchor="middle" fill="#222" stroke="#222" stroke-width="0.14">0</text>
<text x="0" y="0" transform="translate(395.90,405.38) scale(1,1.07)" font-size="7.2" text-anchor="start" fill="#222" stroke="#222" stroke-width="0.14">H3K4me3</text>
<line x1="393.50" y1="429.60" x2="532.30" y2="429.60" stroke="#8080f0" stroke-width="0.7" stroke-dasharray="1.2,1.6"/>
<polygon points="438.20,429.60 440.90,429.10 443.60,428.20 445.50,426.80 446.80,425.00 448.20,421.80 449.10,417.70 449.50,416.80 450.20,418.20 450.90,414.50 451.60,410.00 452.30,407.70 453.20,407.30 453.80,408.60 454.10,412.70 454.40,420.00 454.70,426.40 455.50,429.10 456.40,429.60" fill="#0808f4"/>
<polygon points="460.50,429.80 462.00,429.00 465.00,428.90 466.50,429.80" fill="#0808f4"/>
<line x1="391.90" y1="433.90" x2="391.90" y2="463.80" stroke="#111" stroke-width="1.5"/>
<text x="0" y="0" transform="translate(385.50,438.81) scale(1,1.07)" font-size="7.0" text-anchor="middle" fill="#222" stroke="#222" stroke-width="0.14">1</text>
<text x="0" y="0" transform="translate(385.50,462.81) scale(1,1.07)" font-size="7.0" text-anchor="middle" fill="#222" stroke="#222" stroke-width="0.14">0</text>
<text x="0" y="0" transform="translate(395.90,440.98) scale(1,1.07)" font-size="7.2" text-anchor="start" fill="#222" stroke="#222" stroke-width="0.14">H3K27me3</text>
<line x1="393.50" y1="462.80" x2="532.30" y2="462.80" stroke="#8080f0" stroke-width="0.7" stroke-dasharray="1.2,1.6"/>
<polygon points="469.00,463.00 472.00,462.30 480.00,462.10 488.00,462.40 495.00,462.50 496.00,463.00" fill="#4040e8"/>
<text x="0" y="0" transform="translate(376.20,431.80) rotate(-90) scale(1,1.07)" font-size="9.05" text-anchor="middle" fill="#231f20" stroke="#231f20" stroke-width="0.14">Norm. read density</text>
<text x="0" y="0" transform="translate(411.60,473.90) scale(1,1.07)" font-size="9.0" text-anchor="start" fill="#231f20" stroke="#231f20" stroke-width="0.14" font-style="italic">IL1B</text>
<line x1="434.20" y1="470.90" x2="455.20" y2="470.90" stroke="#111" stroke-width="0.7"/>
<polygon points="434.20,470.90 436.50,468.70 436.50,473.10" fill="#111"/>
<polygon points="436.50,470.90 438.80,468.70 438.80,473.10" fill="#111"/>
<ellipse cx="439.80" cy="470.90" rx="1.20" ry="2.20" fill="#111"/>
<polygon points="441.50,470.90 443.70,468.70 443.70,473.10" fill="#111"/>
<ellipse cx="444.90" cy="470.90" rx="1.50" ry="2.20" fill="#111"/>
<polygon points="448.60,470.90 451.00,468.70 451.00,473.10" fill="#111"/>
<ellipse cx="451.80" cy="470.90" rx="1.20" ry="2.20" fill="#111"/>
<polygon points="455.20,470.90 452.80,468.70 452.80,473.10" fill="#111"/>
<text x="0" y="0" transform="translate(416.00,502.01) scale(1,1.07)" font-size="7.3" text-anchor="middle" fill="#333" stroke="#333" stroke-width="0.14">31,570K</text>
<text x="0" y="0" transform="translate(458.00,502.01) scale(1,1.07)" font-size="7.3" text-anchor="middle" fill="#333" stroke="#333" stroke-width="0.14">chr6</text>
<text x="0" y="0" transform="translate(497.50,502.01) scale(1,1.07)" font-size="7.3" text-anchor="middle" fill="#333" stroke="#333" stroke-width="0.14">31,580K</text>
<line x1="392.80" y1="507.20" x2="533.10" y2="507.20" stroke="#c8c8c8" stroke-width="0.7"/>
<line x1="415.40" y1="505.80" x2="415.40" y2="507.20" stroke="#aaa" stroke-width="0.6"/>
<line x1="495.40" y1="505.80" x2="495.40" y2="507.20" stroke="#aaa" stroke-width="0.6"/>
<line x1="391.70" y1="518.80" x2="391.70" y2="549.50" stroke="#111" stroke-width="1.5"/>
<text x="0" y="0" transform="translate(385.80,523.01) scale(1,1.07)" font-size="7.0" text-anchor="middle" fill="#222" stroke="#222" stroke-width="0.14">7</text>
<text x="0" y="0" transform="translate(385.80,549.91) scale(1,1.07)" font-size="7.0" text-anchor="middle" fill="#222" stroke="#222" stroke-width="0.14">0</text>
<text x="0" y="0" transform="translate(396.00,523.98) scale(1,1.07)" font-size="7.2" text-anchor="start" fill="#222" stroke="#222" stroke-width="0.14">H3K4me3</text>
<line x1="393.50" y1="549.40" x2="533.10" y2="549.40" stroke="#8080f0" stroke-width="0.7" stroke-dasharray="1.2,1.6"/>
<polygon points="501.40,549.50 502.40,547.50 503.70,546.90 504.30,541.00 505.00,528.00 505.60,524.10 506.60,523.80 507.20,525.40 507.90,531.30 508.90,541.00 509.80,546.20 510.80,548.50 511.80,549.50" fill="#0808f4"/>
<line x1="391.70" y1="553.00" x2="391.70" y2="583.30" stroke="#111" stroke-width="1.5"/>
<text x="0" y="0" transform="translate(385.80,557.31) scale(1,1.07)" font-size="7.0" text-anchor="middle" fill="#222" stroke="#222" stroke-width="0.14">1</text>
<text x="0" y="0" transform="translate(385.80,583.11) scale(1,1.07)" font-size="7.0" text-anchor="middle" fill="#222" stroke="#222" stroke-width="0.14">0</text>
<text x="0" y="0" transform="translate(396.00,559.48) scale(1,1.07)" font-size="7.2" text-anchor="start" fill="#222" stroke="#222" stroke-width="0.14">H3K27me3</text>
<polygon points="393.00,582.80 392.36,579.82 393.82,579.09 396.00,578.36 397.45,577.64 398.91,579.09 400.36,578.36 401.82,579.82 403.27,576.91 404.73,573.27 406.18,574.73 407.64,572.55 409.09,570.36 409.82,569.64 410.55,568.91 411.27,573.27 412.73,574.00 414.18,575.45 415.64,574.00 417.09,573.27 418.55,576.18 420.00,576.91 421.45,576.18 422.91,578.36 424.36,571.82 425.82,571.09 427.27,567.45 428.44,570.36 429.45,568.91 430.18,566.00 431.64,563.82 433.09,560.91 434.25,559.45 435.27,561.64 436.73,563.82 438.18,563.09 439.64,566.73 440.65,564.55 441.82,563.82 443.27,566.00 444.73,568.91 446.18,568.18 447.64,566.73 449.09,567.16 450.55,566.00 452.00,568.18 453.45,566.73 454.91,569.64 456.36,566.73 457.82,568.18 459.27,564.55 460.00,564.55 461.45,566.00 462.91,568.91 464.36,573.27 465.82,574.73 468.00,575.45 470.18,575.45 471.64,571.82 473.09,574.73 474.55,570.36 475.27,569.64 476.00,573.27 477.45,574.00 478.91,575.45 480.36,576.18 481.82,576.91 483.27,573.27 484.73,575.45 486.18,572.55 487.64,573.27 488.36,568.91 489.09,571.82 490.55,574.73 492.00,571.09 493.45,571.82 494.91,574.00 496.36,575.45 497.82,576.18 499.27,575.45 500.73,577.64 502.18,576.91 503.64,581.27 505.09,581.71 506.55,581.27 508.00,578.36 509.45,576.18 510.91,575.45 512.36,576.18 513.82,575.45 515.27,574.73 516.73,576.18 518.18,574.00 519.64,573.27 521.09,576.91 522.55,577.64 524.00,579.09 525.45,579.82 526.91,574.73 528.36,575.45 529.82,577.64 531.27,578.36 532.73,579.82 532.70,582.80" fill="#0808f4"/>
<text x="0" y="0" transform="translate(376.20,551.50) rotate(-90) scale(1,1.07)" font-size="9.05" text-anchor="middle" fill="#231f20" stroke="#231f20" stroke-width="0.14">Norm. read density</text>
<line x1="432.50" y1="587.90" x2="449.00" y2="587.90" stroke="#111" stroke-width="0.7"/>
<ellipse cx="433.20" cy="587.90" rx="0.80" ry="2.20" fill="#111"/>
<polygon points="436.80,587.90 439.20,585.70 439.20,590.10" fill="#111"/>
<ellipse cx="440.60" cy="587.90" rx="1.40" ry="2.20" fill="#111"/>
<rect x="442.00" y="586.30" width="7.00" height="3.20" fill="#111" stroke="none" stroke-width="0"/>
<line x1="458.90" y1="594.60" x2="482.50" y2="594.60" stroke="#111" stroke-width="0.7"/>
<polygon points="461.70,594.60 458.90,592.40 458.90,596.80" fill="#111"/>
<polygon points="465.60,594.60 467.90,592.40 467.90,596.80" fill="#111"/>
<ellipse cx="469.35" cy="594.60" rx="1.45" ry="2.20" fill="#111"/>
<rect x="470.80" y="593.00" width="11.70" height="3.20" fill="#111" stroke="none" stroke-width="0"/>
<line x1="499.80" y1="588.00" x2="517.00" y2="588.00" stroke="#111" stroke-width="0.7"/>
<polygon points="499.80,588.00 503.40,585.80 503.40,590.20" fill="#111"/>
<polygon points="504.00,588.00 506.20,585.80 506.20,590.20" fill="#111"/>
<ellipse cx="507.50" cy="588.00" rx="1.30" ry="2.20" fill="#111"/>
<ellipse cx="512.20" cy="588.00" rx="1.20" ry="2.20" fill="#111"/>
<polygon points="516.00,588.00 513.40,585.80 513.40,590.20" fill="#111"/>
<text x="0" y="0" transform="translate(441.70,599.80) scale(1,1.07)" font-size="9.0" text-anchor="middle" fill="#231f20" stroke="#231f20" stroke-width="0.14" font-style="italic">LTA</text>
<text x="0" y="0" transform="translate(470.20,606.40) scale(1,1.07)" font-size="9.0" text-anchor="middle" fill="#231f20" stroke="#231f20" stroke-width="0.14" font-style="italic">TNF</text>
<text x="0" y="0" transform="translate(510.30,599.20) scale(1,1.07)" font-size="9.0" text-anchor="middle" fill="#231f20" stroke="#231f20" stroke-width="0.14" font-style="italic">LTB</text>
</svg>
</body></html>
